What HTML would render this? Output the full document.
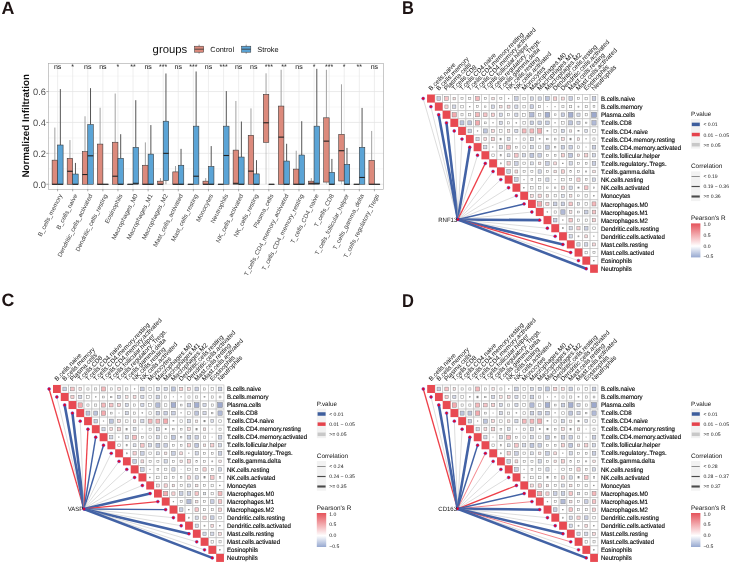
<!DOCTYPE html>
<html><head><meta charset="utf-8"><style>html,body{margin:0;padding:0;background:#fff;width:730px;height:564px;overflow:hidden}svg{display:block;will-change:transform} text{text-rendering:geometricPrecision}</style></head>
<body><svg width="730" height="564" viewBox="0 0 730 564">
<rect width="730" height="564" fill="#fff"/>
<rect x="48.4" y="63.3" width="335.1" height="126.00000000000001" fill="#fff"/>
<line x1="48.4" x2="383.5" y1="184.25" y2="184.25" stroke="#E2E2E2" stroke-width="0.7"/>
<line x1="48.4" x2="383.5" y1="168.80" y2="168.80" stroke="#EFEFEF" stroke-width="0.5"/>
<line x1="48.4" x2="383.5" y1="153.35" y2="153.35" stroke="#E2E2E2" stroke-width="0.7"/>
<line x1="48.4" x2="383.5" y1="137.90" y2="137.90" stroke="#EFEFEF" stroke-width="0.5"/>
<line x1="48.4" x2="383.5" y1="122.45" y2="122.45" stroke="#E2E2E2" stroke-width="0.7"/>
<line x1="48.4" x2="383.5" y1="107.00" y2="107.00" stroke="#EFEFEF" stroke-width="0.5"/>
<line x1="48.4" x2="383.5" y1="91.55" y2="91.55" stroke="#E2E2E2" stroke-width="0.7"/>
<line x1="48.4" x2="383.5" y1="76.10" y2="76.10" stroke="#EFEFEF" stroke-width="0.5"/>
<line x1="57.60" x2="57.60" y1="63.3" y2="189.3" stroke="#E4E4E4" stroke-width="0.65"/>
<line x1="72.69" x2="72.69" y1="63.3" y2="189.3" stroke="#E4E4E4" stroke-width="0.65"/>
<line x1="87.77" x2="87.77" y1="63.3" y2="189.3" stroke="#E4E4E4" stroke-width="0.65"/>
<line x1="102.86" x2="102.86" y1="63.3" y2="189.3" stroke="#E4E4E4" stroke-width="0.65"/>
<line x1="117.94" x2="117.94" y1="63.3" y2="189.3" stroke="#E4E4E4" stroke-width="0.65"/>
<line x1="133.03" x2="133.03" y1="63.3" y2="189.3" stroke="#E4E4E4" stroke-width="0.65"/>
<line x1="148.12" x2="148.12" y1="63.3" y2="189.3" stroke="#E4E4E4" stroke-width="0.65"/>
<line x1="163.20" x2="163.20" y1="63.3" y2="189.3" stroke="#E4E4E4" stroke-width="0.65"/>
<line x1="178.29" x2="178.29" y1="63.3" y2="189.3" stroke="#E4E4E4" stroke-width="0.65"/>
<line x1="193.37" x2="193.37" y1="63.3" y2="189.3" stroke="#E4E4E4" stroke-width="0.65"/>
<line x1="208.46" x2="208.46" y1="63.3" y2="189.3" stroke="#E4E4E4" stroke-width="0.65"/>
<line x1="223.55" x2="223.55" y1="63.3" y2="189.3" stroke="#E4E4E4" stroke-width="0.65"/>
<line x1="238.63" x2="238.63" y1="63.3" y2="189.3" stroke="#E4E4E4" stroke-width="0.65"/>
<line x1="253.72" x2="253.72" y1="63.3" y2="189.3" stroke="#E4E4E4" stroke-width="0.65"/>
<line x1="268.80" x2="268.80" y1="63.3" y2="189.3" stroke="#E4E4E4" stroke-width="0.65"/>
<line x1="283.89" x2="283.89" y1="63.3" y2="189.3" stroke="#E4E4E4" stroke-width="0.65"/>
<line x1="298.98" x2="298.98" y1="63.3" y2="189.3" stroke="#E4E4E4" stroke-width="0.65"/>
<line x1="314.06" x2="314.06" y1="63.3" y2="189.3" stroke="#E4E4E4" stroke-width="0.65"/>
<line x1="329.15" x2="329.15" y1="63.3" y2="189.3" stroke="#E4E4E4" stroke-width="0.65"/>
<line x1="344.23" x2="344.23" y1="63.3" y2="189.3" stroke="#E4E4E4" stroke-width="0.65"/>
<line x1="359.32" x2="359.32" y1="63.3" y2="189.3" stroke="#E4E4E4" stroke-width="0.65"/>
<line x1="374.41" x2="374.41" y1="63.3" y2="189.3" stroke="#E4E4E4" stroke-width="0.65"/>
<line x1="54.85" x2="54.85" y1="127.55" y2="160.15" stroke="#A2A2A2" stroke-width="1.0"/>
<rect x="52.10" y="160.15" width="5.5" height="24.10" fill="#DC8A7C" stroke="#333" stroke-width="0.55"/>
<line x1="52.10" x2="57.60" y1="184.25" y2="184.25" stroke="#222" stroke-width="1.1"/>
<line x1="60.35" x2="60.35" y1="89.08" y2="145.01" stroke="#555" stroke-width="1.0"/>
<rect x="57.60" y="145.01" width="5.5" height="39.24" fill="#5BA4D6" stroke="#333" stroke-width="0.55"/>
<line x1="57.60" x2="63.10" y1="184.25" y2="184.25" stroke="#222" stroke-width="1.1"/>
<line x1="69.94" x2="69.94" y1="140.06" y2="158.29" stroke="#A2A2A2" stroke-width="1.0"/>
<rect x="67.19" y="158.29" width="5.5" height="25.96" fill="#DC8A7C" stroke="#333" stroke-width="0.55"/>
<line x1="67.19" x2="72.69" y1="171.27" y2="171.27" stroke="#222" stroke-width="1.1"/>
<line x1="75.44" x2="75.44" y1="162.93" y2="174.05" stroke="#555" stroke-width="1.0"/>
<rect x="72.69" y="174.05" width="5.5" height="10.20" fill="#5BA4D6" stroke="#333" stroke-width="0.55"/>
<line x1="72.69" x2="78.19" y1="184.25" y2="184.25" stroke="#222" stroke-width="1.1"/>
<line x1="85.02" x2="85.02" y1="116.27" y2="151.65" stroke="#A2A2A2" stroke-width="1.0"/>
<rect x="82.27" y="151.65" width="5.5" height="32.60" fill="#DC8A7C" stroke="#333" stroke-width="0.55"/>
<line x1="82.27" x2="87.77" y1="174.52" y2="174.52" stroke="#222" stroke-width="1.1"/>
<line x1="90.52" x2="90.52" y1="88.15" y2="124.61" stroke="#555" stroke-width="1.0"/>
<rect x="87.77" y="124.61" width="5.5" height="59.64" fill="#5BA4D6" stroke="#333" stroke-width="0.55"/>
<line x1="87.77" x2="93.27" y1="155.82" y2="155.82" stroke="#222" stroke-width="1.1"/>
<line x1="100.11" x2="100.11" y1="107.77" y2="144.08" stroke="#A2A2A2" stroke-width="1.0"/>
<rect x="97.36" y="144.08" width="5.5" height="40.17" fill="#DC8A7C" stroke="#333" stroke-width="0.55"/>
<line x1="97.36" x2="102.86" y1="184.25" y2="184.25" stroke="#222" stroke-width="1.1"/>
<rect x="102.86" y="184.25" width="5.5" height="0.01" fill="#5BA4D6" stroke="#333" stroke-width="0.55"/>
<line x1="102.86" x2="108.36" y1="184.25" y2="184.25" stroke="#222" stroke-width="1.1"/>
<line x1="115.19" x2="115.19" y1="93.56" y2="142.23" stroke="#A2A2A2" stroke-width="1.0"/>
<rect x="112.44" y="142.23" width="5.5" height="42.02" fill="#DC8A7C" stroke="#333" stroke-width="0.55"/>
<line x1="112.44" x2="117.94" y1="176.22" y2="176.22" stroke="#222" stroke-width="1.1"/>
<line x1="120.69" x2="120.69" y1="134.19" y2="158.29" stroke="#555" stroke-width="1.0"/>
<rect x="117.94" y="158.29" width="5.5" height="25.96" fill="#5BA4D6" stroke="#333" stroke-width="0.55"/>
<line x1="117.94" x2="123.44" y1="184.25" y2="184.25" stroke="#222" stroke-width="1.1"/>
<rect x="127.53" y="184.25" width="5.5" height="0.01" fill="#DC8A7C" stroke="#333" stroke-width="0.55"/>
<line x1="127.53" x2="133.03" y1="184.25" y2="184.25" stroke="#222" stroke-width="1.1"/>
<line x1="135.78" x2="135.78" y1="100.20" y2="147.32" stroke="#555" stroke-width="1.0"/>
<rect x="133.03" y="147.32" width="5.5" height="36.93" fill="#5BA4D6" stroke="#333" stroke-width="0.55"/>
<line x1="133.03" x2="138.53" y1="183.32" y2="183.32" stroke="#222" stroke-width="1.1"/>
<line x1="145.37" x2="145.37" y1="142.38" y2="165.25" stroke="#A2A2A2" stroke-width="1.0"/>
<rect x="142.62" y="165.25" width="5.5" height="19.00" fill="#DC8A7C" stroke="#333" stroke-width="0.55"/>
<line x1="142.62" x2="148.12" y1="184.25" y2="184.25" stroke="#222" stroke-width="1.1"/>
<line x1="150.87" x2="150.87" y1="125.08" y2="154.12" stroke="#555" stroke-width="1.0"/>
<rect x="148.12" y="154.12" width="5.5" height="30.13" fill="#5BA4D6" stroke="#333" stroke-width="0.55"/>
<line x1="148.12" x2="153.62" y1="184.25" y2="184.25" stroke="#222" stroke-width="1.1"/>
<line x1="160.45" x2="160.45" y1="178.07" y2="181.16" stroke="#A2A2A2" stroke-width="1.0"/>
<rect x="157.70" y="181.16" width="5.5" height="3.09" fill="#DC8A7C" stroke="#333" stroke-width="0.55"/>
<line x1="157.70" x2="163.20" y1="184.25" y2="184.25" stroke="#222" stroke-width="1.1"/>
<line x1="165.95" x2="165.95" y1="73.47" y2="121.21" stroke="#555" stroke-width="1.0"/>
<line x1="165.95" x2="165.95" y1="180.54" y2="184.25" stroke="#555" stroke-width="0.55"/>
<rect x="163.20" y="121.21" width="5.5" height="59.33" fill="#5BA4D6" stroke="#333" stroke-width="0.55"/>
<line x1="163.20" x2="168.70" y1="153.35" y2="153.35" stroke="#222" stroke-width="1.1"/>
<line x1="175.54" x2="175.54" y1="166.02" y2="171.89" stroke="#A2A2A2" stroke-width="1.0"/>
<rect x="172.79" y="171.89" width="5.5" height="12.36" fill="#DC8A7C" stroke="#333" stroke-width="0.55"/>
<line x1="172.79" x2="178.29" y1="184.25" y2="184.25" stroke="#222" stroke-width="1.1"/>
<line x1="181.04" x2="181.04" y1="148.87" y2="165.25" stroke="#555" stroke-width="1.0"/>
<rect x="178.29" y="165.25" width="5.5" height="19.00" fill="#5BA4D6" stroke="#333" stroke-width="0.55"/>
<line x1="178.29" x2="183.79" y1="184.25" y2="184.25" stroke="#222" stroke-width="1.1"/>
<rect x="187.87" y="184.25" width="5.5" height="0.01" fill="#DC8A7C" stroke="#333" stroke-width="0.55"/>
<line x1="187.87" x2="193.37" y1="184.25" y2="184.25" stroke="#222" stroke-width="1.1"/>
<line x1="196.12" x2="196.12" y1="71.47" y2="126.16" stroke="#555" stroke-width="1.0"/>
<rect x="193.37" y="126.16" width="5.5" height="58.09" fill="#5BA4D6" stroke="#333" stroke-width="0.55"/>
<line x1="193.37" x2="198.87" y1="176.22" y2="176.22" stroke="#222" stroke-width="1.1"/>
<line x1="205.71" x2="205.71" y1="178.07" y2="181.16" stroke="#A2A2A2" stroke-width="1.0"/>
<rect x="202.96" y="181.16" width="5.5" height="3.09" fill="#DC8A7C" stroke="#333" stroke-width="0.55"/>
<line x1="202.96" x2="208.46" y1="184.25" y2="184.25" stroke="#222" stroke-width="1.1"/>
<line x1="211.21" x2="211.21" y1="146.09" y2="166.48" stroke="#555" stroke-width="1.0"/>
<rect x="208.46" y="166.48" width="5.5" height="17.77" fill="#5BA4D6" stroke="#333" stroke-width="0.55"/>
<line x1="208.46" x2="213.96" y1="184.25" y2="184.25" stroke="#222" stroke-width="1.1"/>
<rect x="218.05" y="184.25" width="5.5" height="0.01" fill="#DC8A7C" stroke="#333" stroke-width="0.55"/>
<line x1="218.05" x2="223.55" y1="184.25" y2="184.25" stroke="#222" stroke-width="1.1"/>
<line x1="226.30" x2="226.30" y1="91.09" y2="126.16" stroke="#555" stroke-width="1.0"/>
<rect x="223.55" y="126.16" width="5.5" height="58.09" fill="#5BA4D6" stroke="#333" stroke-width="0.55"/>
<line x1="223.55" x2="229.05" y1="155.51" y2="155.51" stroke="#222" stroke-width="1.1"/>
<line x1="235.88" x2="235.88" y1="100.97" y2="150.11" stroke="#A2A2A2" stroke-width="1.0"/>
<rect x="233.13" y="150.11" width="5.5" height="34.14" fill="#DC8A7C" stroke="#333" stroke-width="0.55"/>
<line x1="233.13" x2="238.63" y1="183.32" y2="183.32" stroke="#222" stroke-width="1.1"/>
<line x1="241.38" x2="241.38" y1="121.52" y2="157.06" stroke="#555" stroke-width="1.0"/>
<rect x="238.63" y="157.06" width="5.5" height="27.19" fill="#5BA4D6" stroke="#333" stroke-width="0.55"/>
<line x1="238.63" x2="244.13" y1="184.25" y2="184.25" stroke="#222" stroke-width="1.1"/>
<line x1="250.97" x2="250.97" y1="108.39" y2="135.27" stroke="#A2A2A2" stroke-width="1.0"/>
<rect x="248.22" y="135.27" width="5.5" height="48.98" fill="#DC8A7C" stroke="#333" stroke-width="0.55"/>
<line x1="248.22" x2="253.72" y1="171.12" y2="171.12" stroke="#222" stroke-width="1.1"/>
<line x1="256.47" x2="256.47" y1="160.15" y2="173.90" stroke="#555" stroke-width="1.0"/>
<rect x="253.72" y="173.90" width="5.5" height="10.35" fill="#5BA4D6" stroke="#333" stroke-width="0.55"/>
<line x1="253.72" x2="259.22" y1="184.25" y2="184.25" stroke="#222" stroke-width="1.1"/>
<line x1="266.05" x2="266.05" y1="73.32" y2="94.33" stroke="#A2A2A2" stroke-width="1.0"/>
<line x1="266.05" x2="266.05" y1="142.38" y2="184.25" stroke="#A2A2A2" stroke-width="0.55"/>
<rect x="263.30" y="94.33" width="5.5" height="48.05" fill="#DC8A7C" stroke="#333" stroke-width="0.55"/>
<line x1="263.30" x2="268.80" y1="122.76" y2="122.76" stroke="#222" stroke-width="1.1"/>
<rect x="268.80" y="184.25" width="5.5" height="0.01" fill="#5BA4D6" stroke="#333" stroke-width="0.55"/>
<line x1="268.80" x2="274.30" y1="184.25" y2="184.25" stroke="#222" stroke-width="1.1"/>
<line x1="281.14" x2="281.14" y1="69.77" y2="106.07" stroke="#A2A2A2" stroke-width="1.0"/>
<rect x="278.39" y="106.07" width="5.5" height="78.18" fill="#DC8A7C" stroke="#333" stroke-width="0.55"/>
<line x1="278.39" x2="283.89" y1="137.13" y2="137.13" stroke="#222" stroke-width="1.1"/>
<line x1="286.64" x2="286.64" y1="143.77" y2="161.07" stroke="#555" stroke-width="1.0"/>
<rect x="283.89" y="161.07" width="5.5" height="23.18" fill="#5BA4D6" stroke="#333" stroke-width="0.55"/>
<line x1="283.89" x2="289.39" y1="184.25" y2="184.25" stroke="#222" stroke-width="1.1"/>
<line x1="296.23" x2="296.23" y1="150.72" y2="169.11" stroke="#A2A2A2" stroke-width="1.0"/>
<rect x="293.48" y="169.11" width="5.5" height="15.14" fill="#DC8A7C" stroke="#333" stroke-width="0.55"/>
<line x1="293.48" x2="298.98" y1="184.25" y2="184.25" stroke="#222" stroke-width="1.1"/>
<line x1="301.73" x2="301.73" y1="121.21" y2="155.05" stroke="#555" stroke-width="1.0"/>
<rect x="298.98" y="155.05" width="5.5" height="29.20" fill="#5BA4D6" stroke="#333" stroke-width="0.55"/>
<line x1="298.98" x2="304.48" y1="184.25" y2="184.25" stroke="#222" stroke-width="1.1"/>
<line x1="311.31" x2="311.31" y1="178.07" y2="181.16" stroke="#A2A2A2" stroke-width="1.0"/>
<rect x="308.56" y="181.16" width="5.5" height="3.09" fill="#DC8A7C" stroke="#333" stroke-width="0.55"/>
<line x1="308.56" x2="314.06" y1="183.32" y2="183.32" stroke="#222" stroke-width="1.1"/>
<line x1="316.81" x2="316.81" y1="68.84" y2="126.16" stroke="#555" stroke-width="1.0"/>
<rect x="314.06" y="126.16" width="5.5" height="58.09" fill="#5BA4D6" stroke="#333" stroke-width="0.55"/>
<line x1="314.06" x2="319.56" y1="183.32" y2="183.32" stroke="#222" stroke-width="1.1"/>
<line x1="326.40" x2="326.40" y1="69.77" y2="117.81" stroke="#A2A2A2" stroke-width="1.0"/>
<line x1="326.40" x2="326.40" y1="182.09" y2="184.25" stroke="#A2A2A2" stroke-width="0.55"/>
<rect x="323.65" y="117.81" width="5.5" height="64.27" fill="#DC8A7C" stroke="#333" stroke-width="0.55"/>
<line x1="323.65" x2="329.15" y1="141.14" y2="141.14" stroke="#222" stroke-width="1.1"/>
<line x1="331.90" x2="331.90" y1="158.91" y2="172.35" stroke="#555" stroke-width="1.0"/>
<rect x="329.15" y="172.35" width="5.5" height="11.90" fill="#5BA4D6" stroke="#333" stroke-width="0.55"/>
<line x1="329.15" x2="334.65" y1="184.25" y2="184.25" stroke="#222" stroke-width="1.1"/>
<line x1="341.48" x2="341.48" y1="84.29" y2="134.35" stroke="#A2A2A2" stroke-width="1.0"/>
<line x1="341.48" x2="341.48" y1="181.01" y2="184.25" stroke="#A2A2A2" stroke-width="0.55"/>
<rect x="338.73" y="134.35" width="5.5" height="46.66" fill="#DC8A7C" stroke="#333" stroke-width="0.55"/>
<line x1="338.73" x2="344.23" y1="150.72" y2="150.72" stroke="#222" stroke-width="1.1"/>
<line x1="346.98" x2="346.98" y1="147.94" y2="164.32" stroke="#555" stroke-width="1.0"/>
<rect x="344.23" y="164.32" width="5.5" height="19.93" fill="#5BA4D6" stroke="#333" stroke-width="0.55"/>
<line x1="344.23" x2="349.73" y1="184.25" y2="184.25" stroke="#222" stroke-width="1.1"/>
<rect x="353.82" y="184.25" width="5.5" height="0.01" fill="#DC8A7C" stroke="#333" stroke-width="0.55"/>
<line x1="353.82" x2="359.32" y1="184.25" y2="184.25" stroke="#222" stroke-width="1.1"/>
<line x1="362.07" x2="362.07" y1="107.93" y2="147.32" stroke="#555" stroke-width="1.0"/>
<rect x="359.32" y="147.32" width="5.5" height="36.93" fill="#5BA4D6" stroke="#333" stroke-width="0.55"/>
<line x1="359.32" x2="364.82" y1="177.45" y2="177.45" stroke="#222" stroke-width="1.1"/>
<line x1="371.66" x2="371.66" y1="130.95" y2="160.30" stroke="#A2A2A2" stroke-width="1.0"/>
<rect x="368.91" y="160.30" width="5.5" height="23.95" fill="#DC8A7C" stroke="#333" stroke-width="0.55"/>
<line x1="368.91" x2="374.41" y1="184.25" y2="184.25" stroke="#222" stroke-width="1.1"/>
<rect x="374.41" y="184.25" width="5.5" height="0.01" fill="#5BA4D6" stroke="#333" stroke-width="0.55"/>
<line x1="374.41" x2="379.91" y1="184.25" y2="184.25" stroke="#222" stroke-width="1.1"/>
<rect x="48.4" y="63.3" width="335.1" height="126.00000000000001" fill="none" stroke="#A6A6A6" stroke-width="0.6"/>
<text x="57.60" y="68.6" font-size="7" fill="#111" text-anchor="middle" font-family="Liberation Sans, sans-serif">ns</text>
<text x="72.69" y="68.6" font-size="7" fill="#111" text-anchor="middle" font-family="Liberation Sans, sans-serif">*</text>
<text x="87.77" y="68.6" font-size="7" fill="#111" text-anchor="middle" font-family="Liberation Sans, sans-serif">ns</text>
<text x="102.86" y="68.6" font-size="7" fill="#111" text-anchor="middle" font-family="Liberation Sans, sans-serif">ns</text>
<text x="117.94" y="68.6" font-size="7" fill="#111" text-anchor="middle" font-family="Liberation Sans, sans-serif">*</text>
<text x="133.03" y="68.6" font-size="7" fill="#111" text-anchor="middle" font-family="Liberation Sans, sans-serif">**</text>
<text x="148.12" y="68.6" font-size="7" fill="#111" text-anchor="middle" font-family="Liberation Sans, sans-serif">ns</text>
<text x="163.20" y="68.6" font-size="7" fill="#111" text-anchor="middle" font-family="Liberation Sans, sans-serif">***</text>
<text x="178.29" y="68.6" font-size="7" fill="#111" text-anchor="middle" font-family="Liberation Sans, sans-serif">ns</text>
<text x="193.37" y="68.6" font-size="7" fill="#111" text-anchor="middle" font-family="Liberation Sans, sans-serif">***</text>
<text x="208.46" y="68.6" font-size="7" fill="#111" text-anchor="middle" font-family="Liberation Sans, sans-serif">ns</text>
<text x="223.55" y="68.6" font-size="7" fill="#111" text-anchor="middle" font-family="Liberation Sans, sans-serif">***</text>
<text x="238.63" y="68.6" font-size="7" fill="#111" text-anchor="middle" font-family="Liberation Sans, sans-serif">ns</text>
<text x="253.72" y="68.6" font-size="7" fill="#111" text-anchor="middle" font-family="Liberation Sans, sans-serif">ns</text>
<text x="268.80" y="68.6" font-size="7" fill="#111" text-anchor="middle" font-family="Liberation Sans, sans-serif">***</text>
<text x="283.89" y="68.6" font-size="7" fill="#111" text-anchor="middle" font-family="Liberation Sans, sans-serif">**</text>
<text x="298.98" y="68.6" font-size="7" fill="#111" text-anchor="middle" font-family="Liberation Sans, sans-serif">ns</text>
<text x="314.06" y="68.6" font-size="7" fill="#111" text-anchor="middle" font-family="Liberation Sans, sans-serif">*</text>
<text x="329.15" y="68.6" font-size="7" fill="#111" text-anchor="middle" font-family="Liberation Sans, sans-serif">***</text>
<text x="344.23" y="68.6" font-size="7" fill="#111" text-anchor="middle" font-family="Liberation Sans, sans-serif">*</text>
<text x="359.32" y="68.6" font-size="7" fill="#111" text-anchor="middle" font-family="Liberation Sans, sans-serif">**</text>
<text x="374.41" y="68.6" font-size="7" fill="#111" text-anchor="middle" font-family="Liberation Sans, sans-serif">ns</text>
<line x1="46.3" x2="48.4" y1="184.25" y2="184.25" stroke="#555" stroke-width="0.5"/>
<text transform="translate(45.9,187.85) scale(1,1.0)" font-size="9.3" fill="#4D4D4D" text-anchor="end" font-family="Liberation Sans, sans-serif">0.0</text>
<line x1="46.3" x2="48.4" y1="153.35" y2="153.35" stroke="#555" stroke-width="0.5"/>
<text transform="translate(45.9,156.95) scale(1,1.0)" font-size="9.3" fill="#4D4D4D" text-anchor="end" font-family="Liberation Sans, sans-serif">0.2</text>
<line x1="46.3" x2="48.4" y1="122.45" y2="122.45" stroke="#555" stroke-width="0.5"/>
<text transform="translate(45.9,126.05) scale(1,1.0)" font-size="9.3" fill="#4D4D4D" text-anchor="end" font-family="Liberation Sans, sans-serif">0.4</text>
<line x1="46.3" x2="48.4" y1="91.55" y2="91.55" stroke="#555" stroke-width="0.5"/>
<text transform="translate(45.9,95.15) scale(1,1.0)" font-size="9.3" fill="#4D4D4D" text-anchor="end" font-family="Liberation Sans, sans-serif">0.6</text>
<text transform="translate(28.6,125.8) rotate(-90)" font-size="9.8" font-weight="bold" fill="#111" text-anchor="middle" font-family="Liberation Sans, sans-serif">Normalized Infiltration</text>
<line x1="57.60" x2="57.60" y1="189.3" y2="191.3" stroke="#555" stroke-width="0.5"/>
<text transform="translate(58.90,193.40) scale(1,1.044) rotate(-62)" font-size="6.1" fill="#3D3D3D" text-anchor="end" dominant-baseline="hanging" font-family="Liberation Sans, sans-serif">B_cells_memory</text>
<line x1="72.69" x2="72.69" y1="189.3" y2="191.3" stroke="#555" stroke-width="0.5"/>
<text transform="translate(73.99,193.40) scale(1,1.044) rotate(-62)" font-size="6.1" fill="#3D3D3D" text-anchor="end" dominant-baseline="hanging" font-family="Liberation Sans, sans-serif">B_cells_naive</text>
<line x1="87.77" x2="87.77" y1="189.3" y2="191.3" stroke="#555" stroke-width="0.5"/>
<text transform="translate(89.07,193.40) scale(1,1.044) rotate(-62)" font-size="6.1" fill="#3D3D3D" text-anchor="end" dominant-baseline="hanging" font-family="Liberation Sans, sans-serif">Dendritic_cells_activated</text>
<line x1="102.86" x2="102.86" y1="189.3" y2="191.3" stroke="#555" stroke-width="0.5"/>
<text transform="translate(104.16,193.40) scale(1,1.044) rotate(-62)" font-size="6.1" fill="#3D3D3D" text-anchor="end" dominant-baseline="hanging" font-family="Liberation Sans, sans-serif">Dendritic_cells_resting</text>
<line x1="117.94" x2="117.94" y1="189.3" y2="191.3" stroke="#555" stroke-width="0.5"/>
<text transform="translate(119.24,193.40) scale(1,1.044) rotate(-62)" font-size="6.1" fill="#3D3D3D" text-anchor="end" dominant-baseline="hanging" font-family="Liberation Sans, sans-serif">Eosinophils</text>
<line x1="133.03" x2="133.03" y1="189.3" y2="191.3" stroke="#555" stroke-width="0.5"/>
<text transform="translate(134.33,193.40) scale(1,1.044) rotate(-62)" font-size="6.1" fill="#3D3D3D" text-anchor="end" dominant-baseline="hanging" font-family="Liberation Sans, sans-serif">Macrophages_M0</text>
<line x1="148.12" x2="148.12" y1="189.3" y2="191.3" stroke="#555" stroke-width="0.5"/>
<text transform="translate(149.42,193.40) scale(1,1.044) rotate(-62)" font-size="6.1" fill="#3D3D3D" text-anchor="end" dominant-baseline="hanging" font-family="Liberation Sans, sans-serif">Macrophages_M1</text>
<line x1="163.20" x2="163.20" y1="189.3" y2="191.3" stroke="#555" stroke-width="0.5"/>
<text transform="translate(164.50,193.40) scale(1,1.044) rotate(-62)" font-size="6.1" fill="#3D3D3D" text-anchor="end" dominant-baseline="hanging" font-family="Liberation Sans, sans-serif">Macrophages_M2</text>
<line x1="178.29" x2="178.29" y1="189.3" y2="191.3" stroke="#555" stroke-width="0.5"/>
<text transform="translate(179.59,193.40) scale(1,1.044) rotate(-62)" font-size="6.1" fill="#3D3D3D" text-anchor="end" dominant-baseline="hanging" font-family="Liberation Sans, sans-serif">Mast_cells_activated</text>
<line x1="193.37" x2="193.37" y1="189.3" y2="191.3" stroke="#555" stroke-width="0.5"/>
<text transform="translate(194.67,193.40) scale(1,1.044) rotate(-62)" font-size="6.1" fill="#3D3D3D" text-anchor="end" dominant-baseline="hanging" font-family="Liberation Sans, sans-serif">Mast_cells_resting</text>
<line x1="208.46" x2="208.46" y1="189.3" y2="191.3" stroke="#555" stroke-width="0.5"/>
<text transform="translate(209.76,193.40) scale(1,1.044) rotate(-62)" font-size="6.1" fill="#3D3D3D" text-anchor="end" dominant-baseline="hanging" font-family="Liberation Sans, sans-serif">Monocytes</text>
<line x1="223.55" x2="223.55" y1="189.3" y2="191.3" stroke="#555" stroke-width="0.5"/>
<text transform="translate(224.85,193.40) scale(1,1.044) rotate(-62)" font-size="6.1" fill="#3D3D3D" text-anchor="end" dominant-baseline="hanging" font-family="Liberation Sans, sans-serif">Neutrophils</text>
<line x1="238.63" x2="238.63" y1="189.3" y2="191.3" stroke="#555" stroke-width="0.5"/>
<text transform="translate(239.93,193.40) scale(1,1.044) rotate(-62)" font-size="6.1" fill="#3D3D3D" text-anchor="end" dominant-baseline="hanging" font-family="Liberation Sans, sans-serif">NK_cells_activated</text>
<line x1="253.72" x2="253.72" y1="189.3" y2="191.3" stroke="#555" stroke-width="0.5"/>
<text transform="translate(255.02,193.40) scale(1,1.044) rotate(-62)" font-size="6.1" fill="#3D3D3D" text-anchor="end" dominant-baseline="hanging" font-family="Liberation Sans, sans-serif">NK_cells_resting</text>
<line x1="268.80" x2="268.80" y1="189.3" y2="191.3" stroke="#555" stroke-width="0.5"/>
<text transform="translate(270.10,193.40) scale(1,1.044) rotate(-62)" font-size="6.1" fill="#3D3D3D" text-anchor="end" dominant-baseline="hanging" font-family="Liberation Sans, sans-serif">Plasma_cells</text>
<line x1="283.89" x2="283.89" y1="189.3" y2="191.3" stroke="#555" stroke-width="0.5"/>
<text transform="translate(285.19,193.40) scale(1,1.044) rotate(-62)" font-size="6.1" fill="#3D3D3D" text-anchor="end" dominant-baseline="hanging" font-family="Liberation Sans, sans-serif">T_cells_CD4_memory_activated</text>
<line x1="298.98" x2="298.98" y1="189.3" y2="191.3" stroke="#555" stroke-width="0.5"/>
<text transform="translate(300.28,193.40) scale(1,1.044) rotate(-62)" font-size="6.1" fill="#3D3D3D" text-anchor="end" dominant-baseline="hanging" font-family="Liberation Sans, sans-serif">T_cells_CD4_memory_resting</text>
<line x1="314.06" x2="314.06" y1="189.3" y2="191.3" stroke="#555" stroke-width="0.5"/>
<text transform="translate(315.36,193.40) scale(1,1.044) rotate(-62)" font-size="6.1" fill="#3D3D3D" text-anchor="end" dominant-baseline="hanging" font-family="Liberation Sans, sans-serif">T_cells_CD4_naive</text>
<line x1="329.15" x2="329.15" y1="189.3" y2="191.3" stroke="#555" stroke-width="0.5"/>
<text transform="translate(330.45,193.40) scale(1,1.044) rotate(-62)" font-size="6.1" fill="#3D3D3D" text-anchor="end" dominant-baseline="hanging" font-family="Liberation Sans, sans-serif">T_cells_CD8</text>
<line x1="344.23" x2="344.23" y1="189.3" y2="191.3" stroke="#555" stroke-width="0.5"/>
<text transform="translate(345.53,193.40) scale(1,1.044) rotate(-62)" font-size="6.1" fill="#3D3D3D" text-anchor="end" dominant-baseline="hanging" font-family="Liberation Sans, sans-serif">T_cells_follicular_helper</text>
<line x1="359.32" x2="359.32" y1="189.3" y2="191.3" stroke="#555" stroke-width="0.5"/>
<text transform="translate(360.62,193.40) scale(1,1.044) rotate(-62)" font-size="6.1" fill="#3D3D3D" text-anchor="end" dominant-baseline="hanging" font-family="Liberation Sans, sans-serif">T_cells_gamma_delta</text>
<line x1="374.41" x2="374.41" y1="189.3" y2="191.3" stroke="#555" stroke-width="0.5"/>
<text transform="translate(375.71,193.40) scale(1,1.044) rotate(-62)" font-size="6.1" fill="#3D3D3D" text-anchor="end" dominant-baseline="hanging" font-family="Liberation Sans, sans-serif">T_cells_regulatory_Tregs</text>
<text x="152.6" y="52.7" font-size="11.3" fill="#111" font-family="Liberation Sans, sans-serif">groups</text>
<line x1="199.1" x2="199.1" y1="44.6" y2="53.7" stroke="#333" stroke-width="0.5"/>
<rect x="194.5" y="46.2" width="9.2" height="6" fill="#DC8A7C" stroke="#333" stroke-width="0.5"/>
<line x1="194.5" x2="203.7" y1="49.2" y2="49.2" stroke="#333" stroke-width="0.8"/>
<line x1="246.2" x2="246.2" y1="44.6" y2="53.7" stroke="#333" stroke-width="0.5"/>
<rect x="241.6" y="46.2" width="9.2" height="6" fill="#5BA4D6" stroke="#333" stroke-width="0.5"/>
<line x1="241.6" x2="250.79999999999998" y1="49.2" y2="49.2" stroke="#333" stroke-width="0.8"/>
<text x="210.3" y="51.8" font-size="7.4" fill="#111" font-family="Liberation Sans, sans-serif">Control</text>
<text x="257.3" y="51.8" font-size="7.4" fill="#111" font-family="Liberation Sans, sans-serif">Stroke</text>
<line x1="457.90" y1="219.50" x2="423.17" y2="98.55" stroke="#C6C6C6" stroke-width="0.6"/>
<line x1="457.90" y1="219.50" x2="430.93" y2="106.66" stroke="#C6C6C6" stroke-width="0.6"/>
<line x1="457.90" y1="219.50" x2="438.70" y2="114.76" stroke="#4262A5" stroke-width="2.55"/>
<line x1="457.90" y1="219.50" x2="446.46" y2="122.87" stroke="#4262A5" stroke-width="2.55"/>
<line x1="457.90" y1="219.50" x2="454.23" y2="130.97" stroke="#C6C6C6" stroke-width="0.6"/>
<line x1="457.90" y1="219.50" x2="461.99" y2="139.08" stroke="#C6C6C6" stroke-width="0.6"/>
<line x1="457.90" y1="219.50" x2="469.75" y2="147.18" stroke="#4262A5" stroke-width="2.55"/>
<line x1="457.90" y1="219.50" x2="477.52" y2="155.29" stroke="#C6C6C6" stroke-width="0.6"/>
<line x1="457.90" y1="219.50" x2="485.28" y2="163.39" stroke="#EE4049" stroke-width="1.3"/>
<line x1="457.90" y1="219.50" x2="493.05" y2="171.50" stroke="#C6C6C6" stroke-width="0.6"/>
<line x1="457.90" y1="219.50" x2="500.81" y2="179.60" stroke="#C6C6C6" stroke-width="0.6"/>
<line x1="457.90" y1="219.50" x2="508.57" y2="187.71" stroke="#C6C6C6" stroke-width="0.6"/>
<line x1="457.90" y1="219.50" x2="516.34" y2="195.81" stroke="#C6C6C6" stroke-width="0.6"/>
<line x1="457.90" y1="219.50" x2="524.10" y2="203.92" stroke="#4262A5" stroke-width="1.45"/>
<line x1="457.90" y1="219.50" x2="531.87" y2="212.02" stroke="#C6C6C6" stroke-width="0.6"/>
<line x1="457.90" y1="219.50" x2="539.63" y2="220.13" stroke="#4262A5" stroke-width="2.55"/>
<line x1="457.90" y1="219.50" x2="547.39" y2="228.23" stroke="#C6C6C6" stroke-width="0.6"/>
<line x1="457.90" y1="219.50" x2="555.16" y2="236.34" stroke="#C6C6C6" stroke-width="0.6"/>
<line x1="457.90" y1="219.50" x2="562.92" y2="244.44" stroke="#4262A5" stroke-width="2.55"/>
<line x1="457.90" y1="219.50" x2="570.69" y2="252.55" stroke="#EE4049" stroke-width="1.3"/>
<line x1="457.90" y1="219.50" x2="578.45" y2="260.65" stroke="#C6C6C6" stroke-width="0.6"/>
<line x1="457.90" y1="219.50" x2="586.21" y2="268.76" stroke="#4262A5" stroke-width="2.55"/>
<rect x="434.83" y="94.50" width="7.76" height="8.11" fill="#fff" stroke="#C2C2C2" stroke-width="0.7"/>
<rect x="442.60" y="94.50" width="7.76" height="8.11" fill="#fff" stroke="#C2C2C2" stroke-width="0.7"/>
<rect x="450.36" y="94.50" width="7.76" height="8.11" fill="#fff" stroke="#C2C2C2" stroke-width="0.7"/>
<rect x="458.13" y="94.50" width="7.76" height="8.11" fill="#fff" stroke="#C2C2C2" stroke-width="0.7"/>
<rect x="465.89" y="94.50" width="7.76" height="8.11" fill="#fff" stroke="#C2C2C2" stroke-width="0.7"/>
<rect x="473.65" y="94.50" width="7.76" height="8.11" fill="#fff" stroke="#C2C2C2" stroke-width="0.7"/>
<rect x="481.42" y="94.50" width="7.76" height="8.11" fill="#fff" stroke="#C2C2C2" stroke-width="0.7"/>
<rect x="489.18" y="94.50" width="7.76" height="8.11" fill="#fff" stroke="#C2C2C2" stroke-width="0.7"/>
<rect x="496.95" y="94.50" width="7.76" height="8.11" fill="#fff" stroke="#C2C2C2" stroke-width="0.7"/>
<rect x="504.71" y="94.50" width="7.76" height="8.11" fill="#fff" stroke="#C2C2C2" stroke-width="0.7"/>
<rect x="512.47" y="94.50" width="7.76" height="8.11" fill="#fff" stroke="#C2C2C2" stroke-width="0.7"/>
<rect x="520.24" y="94.50" width="7.76" height="8.11" fill="#fff" stroke="#C2C2C2" stroke-width="0.7"/>
<rect x="528.00" y="94.50" width="7.76" height="8.11" fill="#fff" stroke="#C2C2C2" stroke-width="0.7"/>
<rect x="535.77" y="94.50" width="7.76" height="8.11" fill="#fff" stroke="#C2C2C2" stroke-width="0.7"/>
<rect x="543.53" y="94.50" width="7.76" height="8.11" fill="#fff" stroke="#C2C2C2" stroke-width="0.7"/>
<rect x="551.29" y="94.50" width="7.76" height="8.11" fill="#fff" stroke="#C2C2C2" stroke-width="0.7"/>
<rect x="559.06" y="94.50" width="7.76" height="8.11" fill="#fff" stroke="#C2C2C2" stroke-width="0.7"/>
<rect x="566.82" y="94.50" width="7.76" height="8.11" fill="#fff" stroke="#C2C2C2" stroke-width="0.7"/>
<rect x="574.59" y="94.50" width="7.76" height="8.11" fill="#fff" stroke="#C2C2C2" stroke-width="0.7"/>
<rect x="582.35" y="94.50" width="7.76" height="8.11" fill="#fff" stroke="#C2C2C2" stroke-width="0.7"/>
<rect x="590.11" y="94.50" width="7.76" height="8.11" fill="#fff" stroke="#C2C2C2" stroke-width="0.7"/>
<rect x="442.60" y="102.61" width="7.76" height="8.11" fill="#fff" stroke="#C2C2C2" stroke-width="0.7"/>
<rect x="450.36" y="102.61" width="7.76" height="8.11" fill="#fff" stroke="#C2C2C2" stroke-width="0.7"/>
<rect x="458.13" y="102.61" width="7.76" height="8.11" fill="#fff" stroke="#C2C2C2" stroke-width="0.7"/>
<rect x="465.89" y="102.61" width="7.76" height="8.11" fill="#fff" stroke="#C2C2C2" stroke-width="0.7"/>
<rect x="473.65" y="102.61" width="7.76" height="8.11" fill="#fff" stroke="#C2C2C2" stroke-width="0.7"/>
<rect x="481.42" y="102.61" width="7.76" height="8.11" fill="#fff" stroke="#C2C2C2" stroke-width="0.7"/>
<rect x="489.18" y="102.61" width="7.76" height="8.11" fill="#fff" stroke="#C2C2C2" stroke-width="0.7"/>
<rect x="496.95" y="102.61" width="7.76" height="8.11" fill="#fff" stroke="#C2C2C2" stroke-width="0.7"/>
<rect x="504.71" y="102.61" width="7.76" height="8.11" fill="#fff" stroke="#C2C2C2" stroke-width="0.7"/>
<rect x="512.47" y="102.61" width="7.76" height="8.11" fill="#fff" stroke="#C2C2C2" stroke-width="0.7"/>
<rect x="520.24" y="102.61" width="7.76" height="8.11" fill="#fff" stroke="#C2C2C2" stroke-width="0.7"/>
<rect x="528.00" y="102.61" width="7.76" height="8.11" fill="#fff" stroke="#C2C2C2" stroke-width="0.7"/>
<rect x="535.77" y="102.61" width="7.76" height="8.11" fill="#fff" stroke="#C2C2C2" stroke-width="0.7"/>
<rect x="543.53" y="102.61" width="7.76" height="8.11" fill="#fff" stroke="#C2C2C2" stroke-width="0.7"/>
<rect x="551.29" y="102.61" width="7.76" height="8.11" fill="#fff" stroke="#C2C2C2" stroke-width="0.7"/>
<rect x="559.06" y="102.61" width="7.76" height="8.11" fill="#fff" stroke="#C2C2C2" stroke-width="0.7"/>
<rect x="566.82" y="102.61" width="7.76" height="8.11" fill="#fff" stroke="#C2C2C2" stroke-width="0.7"/>
<rect x="574.59" y="102.61" width="7.76" height="8.11" fill="#fff" stroke="#C2C2C2" stroke-width="0.7"/>
<rect x="582.35" y="102.61" width="7.76" height="8.11" fill="#fff" stroke="#C2C2C2" stroke-width="0.7"/>
<rect x="590.11" y="102.61" width="7.76" height="8.11" fill="#fff" stroke="#C2C2C2" stroke-width="0.7"/>
<rect x="450.36" y="110.71" width="7.76" height="8.11" fill="#fff" stroke="#C2C2C2" stroke-width="0.7"/>
<rect x="458.13" y="110.71" width="7.76" height="8.11" fill="#fff" stroke="#C2C2C2" stroke-width="0.7"/>
<rect x="465.89" y="110.71" width="7.76" height="8.11" fill="#fff" stroke="#C2C2C2" stroke-width="0.7"/>
<rect x="473.65" y="110.71" width="7.76" height="8.11" fill="#fff" stroke="#C2C2C2" stroke-width="0.7"/>
<rect x="481.42" y="110.71" width="7.76" height="8.11" fill="#fff" stroke="#C2C2C2" stroke-width="0.7"/>
<rect x="489.18" y="110.71" width="7.76" height="8.11" fill="#fff" stroke="#C2C2C2" stroke-width="0.7"/>
<rect x="496.95" y="110.71" width="7.76" height="8.11" fill="#fff" stroke="#C2C2C2" stroke-width="0.7"/>
<rect x="504.71" y="110.71" width="7.76" height="8.11" fill="#fff" stroke="#C2C2C2" stroke-width="0.7"/>
<rect x="512.47" y="110.71" width="7.76" height="8.11" fill="#fff" stroke="#C2C2C2" stroke-width="0.7"/>
<rect x="520.24" y="110.71" width="7.76" height="8.11" fill="#fff" stroke="#C2C2C2" stroke-width="0.7"/>
<rect x="528.00" y="110.71" width="7.76" height="8.11" fill="#fff" stroke="#C2C2C2" stroke-width="0.7"/>
<rect x="535.77" y="110.71" width="7.76" height="8.11" fill="#fff" stroke="#C2C2C2" stroke-width="0.7"/>
<rect x="543.53" y="110.71" width="7.76" height="8.11" fill="#fff" stroke="#C2C2C2" stroke-width="0.7"/>
<rect x="551.29" y="110.71" width="7.76" height="8.11" fill="#fff" stroke="#C2C2C2" stroke-width="0.7"/>
<rect x="559.06" y="110.71" width="7.76" height="8.11" fill="#fff" stroke="#C2C2C2" stroke-width="0.7"/>
<rect x="566.82" y="110.71" width="7.76" height="8.11" fill="#fff" stroke="#C2C2C2" stroke-width="0.7"/>
<rect x="574.59" y="110.71" width="7.76" height="8.11" fill="#fff" stroke="#C2C2C2" stroke-width="0.7"/>
<rect x="582.35" y="110.71" width="7.76" height="8.11" fill="#fff" stroke="#C2C2C2" stroke-width="0.7"/>
<rect x="590.11" y="110.71" width="7.76" height="8.11" fill="#fff" stroke="#C2C2C2" stroke-width="0.7"/>
<rect x="458.13" y="118.81" width="7.76" height="8.11" fill="#fff" stroke="#C2C2C2" stroke-width="0.7"/>
<rect x="465.89" y="118.81" width="7.76" height="8.11" fill="#fff" stroke="#C2C2C2" stroke-width="0.7"/>
<rect x="473.65" y="118.81" width="7.76" height="8.11" fill="#fff" stroke="#C2C2C2" stroke-width="0.7"/>
<rect x="481.42" y="118.81" width="7.76" height="8.11" fill="#fff" stroke="#C2C2C2" stroke-width="0.7"/>
<rect x="489.18" y="118.81" width="7.76" height="8.11" fill="#fff" stroke="#C2C2C2" stroke-width="0.7"/>
<rect x="496.95" y="118.81" width="7.76" height="8.11" fill="#fff" stroke="#C2C2C2" stroke-width="0.7"/>
<rect x="504.71" y="118.81" width="7.76" height="8.11" fill="#fff" stroke="#C2C2C2" stroke-width="0.7"/>
<rect x="512.47" y="118.81" width="7.76" height="8.11" fill="#fff" stroke="#C2C2C2" stroke-width="0.7"/>
<rect x="520.24" y="118.81" width="7.76" height="8.11" fill="#fff" stroke="#C2C2C2" stroke-width="0.7"/>
<rect x="528.00" y="118.81" width="7.76" height="8.11" fill="#fff" stroke="#C2C2C2" stroke-width="0.7"/>
<rect x="535.77" y="118.81" width="7.76" height="8.11" fill="#fff" stroke="#C2C2C2" stroke-width="0.7"/>
<rect x="543.53" y="118.81" width="7.76" height="8.11" fill="#fff" stroke="#C2C2C2" stroke-width="0.7"/>
<rect x="551.29" y="118.81" width="7.76" height="8.11" fill="#fff" stroke="#C2C2C2" stroke-width="0.7"/>
<rect x="559.06" y="118.81" width="7.76" height="8.11" fill="#fff" stroke="#C2C2C2" stroke-width="0.7"/>
<rect x="566.82" y="118.81" width="7.76" height="8.11" fill="#fff" stroke="#C2C2C2" stroke-width="0.7"/>
<rect x="574.59" y="118.81" width="7.76" height="8.11" fill="#fff" stroke="#C2C2C2" stroke-width="0.7"/>
<rect x="582.35" y="118.81" width="7.76" height="8.11" fill="#fff" stroke="#C2C2C2" stroke-width="0.7"/>
<rect x="590.11" y="118.81" width="7.76" height="8.11" fill="#fff" stroke="#C2C2C2" stroke-width="0.7"/>
<rect x="465.89" y="126.92" width="7.76" height="8.11" fill="#fff" stroke="#C2C2C2" stroke-width="0.7"/>
<rect x="473.65" y="126.92" width="7.76" height="8.11" fill="#fff" stroke="#C2C2C2" stroke-width="0.7"/>
<rect x="481.42" y="126.92" width="7.76" height="8.11" fill="#fff" stroke="#C2C2C2" stroke-width="0.7"/>
<rect x="489.18" y="126.92" width="7.76" height="8.11" fill="#fff" stroke="#C2C2C2" stroke-width="0.7"/>
<rect x="496.95" y="126.92" width="7.76" height="8.11" fill="#fff" stroke="#C2C2C2" stroke-width="0.7"/>
<rect x="504.71" y="126.92" width="7.76" height="8.11" fill="#fff" stroke="#C2C2C2" stroke-width="0.7"/>
<rect x="512.47" y="126.92" width="7.76" height="8.11" fill="#fff" stroke="#C2C2C2" stroke-width="0.7"/>
<rect x="520.24" y="126.92" width="7.76" height="8.11" fill="#fff" stroke="#C2C2C2" stroke-width="0.7"/>
<rect x="528.00" y="126.92" width="7.76" height="8.11" fill="#fff" stroke="#C2C2C2" stroke-width="0.7"/>
<rect x="535.77" y="126.92" width="7.76" height="8.11" fill="#fff" stroke="#C2C2C2" stroke-width="0.7"/>
<rect x="543.53" y="126.92" width="7.76" height="8.11" fill="#fff" stroke="#C2C2C2" stroke-width="0.7"/>
<rect x="551.29" y="126.92" width="7.76" height="8.11" fill="#fff" stroke="#C2C2C2" stroke-width="0.7"/>
<rect x="559.06" y="126.92" width="7.76" height="8.11" fill="#fff" stroke="#C2C2C2" stroke-width="0.7"/>
<rect x="566.82" y="126.92" width="7.76" height="8.11" fill="#fff" stroke="#C2C2C2" stroke-width="0.7"/>
<rect x="574.59" y="126.92" width="7.76" height="8.11" fill="#fff" stroke="#C2C2C2" stroke-width="0.7"/>
<rect x="582.35" y="126.92" width="7.76" height="8.11" fill="#fff" stroke="#C2C2C2" stroke-width="0.7"/>
<rect x="590.11" y="126.92" width="7.76" height="8.11" fill="#fff" stroke="#C2C2C2" stroke-width="0.7"/>
<rect x="473.65" y="135.03" width="7.76" height="8.11" fill="#fff" stroke="#C2C2C2" stroke-width="0.7"/>
<rect x="481.42" y="135.03" width="7.76" height="8.11" fill="#fff" stroke="#C2C2C2" stroke-width="0.7"/>
<rect x="489.18" y="135.03" width="7.76" height="8.11" fill="#fff" stroke="#C2C2C2" stroke-width="0.7"/>
<rect x="496.95" y="135.03" width="7.76" height="8.11" fill="#fff" stroke="#C2C2C2" stroke-width="0.7"/>
<rect x="504.71" y="135.03" width="7.76" height="8.11" fill="#fff" stroke="#C2C2C2" stroke-width="0.7"/>
<rect x="512.47" y="135.03" width="7.76" height="8.11" fill="#fff" stroke="#C2C2C2" stroke-width="0.7"/>
<rect x="520.24" y="135.03" width="7.76" height="8.11" fill="#fff" stroke="#C2C2C2" stroke-width="0.7"/>
<rect x="528.00" y="135.03" width="7.76" height="8.11" fill="#fff" stroke="#C2C2C2" stroke-width="0.7"/>
<rect x="535.77" y="135.03" width="7.76" height="8.11" fill="#fff" stroke="#C2C2C2" stroke-width="0.7"/>
<rect x="543.53" y="135.03" width="7.76" height="8.11" fill="#fff" stroke="#C2C2C2" stroke-width="0.7"/>
<rect x="551.29" y="135.03" width="7.76" height="8.11" fill="#fff" stroke="#C2C2C2" stroke-width="0.7"/>
<rect x="559.06" y="135.03" width="7.76" height="8.11" fill="#fff" stroke="#C2C2C2" stroke-width="0.7"/>
<rect x="566.82" y="135.03" width="7.76" height="8.11" fill="#fff" stroke="#C2C2C2" stroke-width="0.7"/>
<rect x="574.59" y="135.03" width="7.76" height="8.11" fill="#fff" stroke="#C2C2C2" stroke-width="0.7"/>
<rect x="582.35" y="135.03" width="7.76" height="8.11" fill="#fff" stroke="#C2C2C2" stroke-width="0.7"/>
<rect x="590.11" y="135.03" width="7.76" height="8.11" fill="#fff" stroke="#C2C2C2" stroke-width="0.7"/>
<rect x="481.42" y="143.13" width="7.76" height="8.11" fill="#fff" stroke="#C2C2C2" stroke-width="0.7"/>
<rect x="489.18" y="143.13" width="7.76" height="8.11" fill="#fff" stroke="#C2C2C2" stroke-width="0.7"/>
<rect x="496.95" y="143.13" width="7.76" height="8.11" fill="#fff" stroke="#C2C2C2" stroke-width="0.7"/>
<rect x="504.71" y="143.13" width="7.76" height="8.11" fill="#fff" stroke="#C2C2C2" stroke-width="0.7"/>
<rect x="512.47" y="143.13" width="7.76" height="8.11" fill="#fff" stroke="#C2C2C2" stroke-width="0.7"/>
<rect x="520.24" y="143.13" width="7.76" height="8.11" fill="#fff" stroke="#C2C2C2" stroke-width="0.7"/>
<rect x="528.00" y="143.13" width="7.76" height="8.11" fill="#fff" stroke="#C2C2C2" stroke-width="0.7"/>
<rect x="535.77" y="143.13" width="7.76" height="8.11" fill="#fff" stroke="#C2C2C2" stroke-width="0.7"/>
<rect x="543.53" y="143.13" width="7.76" height="8.11" fill="#fff" stroke="#C2C2C2" stroke-width="0.7"/>
<rect x="551.29" y="143.13" width="7.76" height="8.11" fill="#fff" stroke="#C2C2C2" stroke-width="0.7"/>
<rect x="559.06" y="143.13" width="7.76" height="8.11" fill="#fff" stroke="#C2C2C2" stroke-width="0.7"/>
<rect x="566.82" y="143.13" width="7.76" height="8.11" fill="#fff" stroke="#C2C2C2" stroke-width="0.7"/>
<rect x="574.59" y="143.13" width="7.76" height="8.11" fill="#fff" stroke="#C2C2C2" stroke-width="0.7"/>
<rect x="582.35" y="143.13" width="7.76" height="8.11" fill="#fff" stroke="#C2C2C2" stroke-width="0.7"/>
<rect x="590.11" y="143.13" width="7.76" height="8.11" fill="#fff" stroke="#C2C2C2" stroke-width="0.7"/>
<rect x="489.18" y="151.24" width="7.76" height="8.11" fill="#fff" stroke="#C2C2C2" stroke-width="0.7"/>
<rect x="496.95" y="151.24" width="7.76" height="8.11" fill="#fff" stroke="#C2C2C2" stroke-width="0.7"/>
<rect x="504.71" y="151.24" width="7.76" height="8.11" fill="#fff" stroke="#C2C2C2" stroke-width="0.7"/>
<rect x="512.47" y="151.24" width="7.76" height="8.11" fill="#fff" stroke="#C2C2C2" stroke-width="0.7"/>
<rect x="520.24" y="151.24" width="7.76" height="8.11" fill="#fff" stroke="#C2C2C2" stroke-width="0.7"/>
<rect x="528.00" y="151.24" width="7.76" height="8.11" fill="#fff" stroke="#C2C2C2" stroke-width="0.7"/>
<rect x="535.77" y="151.24" width="7.76" height="8.11" fill="#fff" stroke="#C2C2C2" stroke-width="0.7"/>
<rect x="543.53" y="151.24" width="7.76" height="8.11" fill="#fff" stroke="#C2C2C2" stroke-width="0.7"/>
<rect x="551.29" y="151.24" width="7.76" height="8.11" fill="#fff" stroke="#C2C2C2" stroke-width="0.7"/>
<rect x="559.06" y="151.24" width="7.76" height="8.11" fill="#fff" stroke="#C2C2C2" stroke-width="0.7"/>
<rect x="566.82" y="151.24" width="7.76" height="8.11" fill="#fff" stroke="#C2C2C2" stroke-width="0.7"/>
<rect x="574.59" y="151.24" width="7.76" height="8.11" fill="#fff" stroke="#C2C2C2" stroke-width="0.7"/>
<rect x="582.35" y="151.24" width="7.76" height="8.11" fill="#fff" stroke="#C2C2C2" stroke-width="0.7"/>
<rect x="590.11" y="151.24" width="7.76" height="8.11" fill="#fff" stroke="#C2C2C2" stroke-width="0.7"/>
<rect x="496.95" y="159.34" width="7.76" height="8.11" fill="#fff" stroke="#C2C2C2" stroke-width="0.7"/>
<rect x="504.71" y="159.34" width="7.76" height="8.11" fill="#fff" stroke="#C2C2C2" stroke-width="0.7"/>
<rect x="512.47" y="159.34" width="7.76" height="8.11" fill="#fff" stroke="#C2C2C2" stroke-width="0.7"/>
<rect x="520.24" y="159.34" width="7.76" height="8.11" fill="#fff" stroke="#C2C2C2" stroke-width="0.7"/>
<rect x="528.00" y="159.34" width="7.76" height="8.11" fill="#fff" stroke="#C2C2C2" stroke-width="0.7"/>
<rect x="535.77" y="159.34" width="7.76" height="8.11" fill="#fff" stroke="#C2C2C2" stroke-width="0.7"/>
<rect x="543.53" y="159.34" width="7.76" height="8.11" fill="#fff" stroke="#C2C2C2" stroke-width="0.7"/>
<rect x="551.29" y="159.34" width="7.76" height="8.11" fill="#fff" stroke="#C2C2C2" stroke-width="0.7"/>
<rect x="559.06" y="159.34" width="7.76" height="8.11" fill="#fff" stroke="#C2C2C2" stroke-width="0.7"/>
<rect x="566.82" y="159.34" width="7.76" height="8.11" fill="#fff" stroke="#C2C2C2" stroke-width="0.7"/>
<rect x="574.59" y="159.34" width="7.76" height="8.11" fill="#fff" stroke="#C2C2C2" stroke-width="0.7"/>
<rect x="582.35" y="159.34" width="7.76" height="8.11" fill="#fff" stroke="#C2C2C2" stroke-width="0.7"/>
<rect x="590.11" y="159.34" width="7.76" height="8.11" fill="#fff" stroke="#C2C2C2" stroke-width="0.7"/>
<rect x="504.71" y="167.44" width="7.76" height="8.11" fill="#fff" stroke="#C2C2C2" stroke-width="0.7"/>
<rect x="512.47" y="167.44" width="7.76" height="8.11" fill="#fff" stroke="#C2C2C2" stroke-width="0.7"/>
<rect x="520.24" y="167.44" width="7.76" height="8.11" fill="#fff" stroke="#C2C2C2" stroke-width="0.7"/>
<rect x="528.00" y="167.44" width="7.76" height="8.11" fill="#fff" stroke="#C2C2C2" stroke-width="0.7"/>
<rect x="535.77" y="167.44" width="7.76" height="8.11" fill="#fff" stroke="#C2C2C2" stroke-width="0.7"/>
<rect x="543.53" y="167.44" width="7.76" height="8.11" fill="#fff" stroke="#C2C2C2" stroke-width="0.7"/>
<rect x="551.29" y="167.44" width="7.76" height="8.11" fill="#fff" stroke="#C2C2C2" stroke-width="0.7"/>
<rect x="559.06" y="167.44" width="7.76" height="8.11" fill="#fff" stroke="#C2C2C2" stroke-width="0.7"/>
<rect x="566.82" y="167.44" width="7.76" height="8.11" fill="#fff" stroke="#C2C2C2" stroke-width="0.7"/>
<rect x="574.59" y="167.44" width="7.76" height="8.11" fill="#fff" stroke="#C2C2C2" stroke-width="0.7"/>
<rect x="582.35" y="167.44" width="7.76" height="8.11" fill="#fff" stroke="#C2C2C2" stroke-width="0.7"/>
<rect x="590.11" y="167.44" width="7.76" height="8.11" fill="#fff" stroke="#C2C2C2" stroke-width="0.7"/>
<rect x="512.47" y="175.55" width="7.76" height="8.11" fill="#fff" stroke="#C2C2C2" stroke-width="0.7"/>
<rect x="520.24" y="175.55" width="7.76" height="8.11" fill="#fff" stroke="#C2C2C2" stroke-width="0.7"/>
<rect x="528.00" y="175.55" width="7.76" height="8.11" fill="#fff" stroke="#C2C2C2" stroke-width="0.7"/>
<rect x="535.77" y="175.55" width="7.76" height="8.11" fill="#fff" stroke="#C2C2C2" stroke-width="0.7"/>
<rect x="543.53" y="175.55" width="7.76" height="8.11" fill="#fff" stroke="#C2C2C2" stroke-width="0.7"/>
<rect x="551.29" y="175.55" width="7.76" height="8.11" fill="#fff" stroke="#C2C2C2" stroke-width="0.7"/>
<rect x="559.06" y="175.55" width="7.76" height="8.11" fill="#fff" stroke="#C2C2C2" stroke-width="0.7"/>
<rect x="566.82" y="175.55" width="7.76" height="8.11" fill="#fff" stroke="#C2C2C2" stroke-width="0.7"/>
<rect x="574.59" y="175.55" width="7.76" height="8.11" fill="#fff" stroke="#C2C2C2" stroke-width="0.7"/>
<rect x="582.35" y="175.55" width="7.76" height="8.11" fill="#fff" stroke="#C2C2C2" stroke-width="0.7"/>
<rect x="590.11" y="175.55" width="7.76" height="8.11" fill="#fff" stroke="#C2C2C2" stroke-width="0.7"/>
<rect x="520.24" y="183.66" width="7.76" height="8.11" fill="#fff" stroke="#C2C2C2" stroke-width="0.7"/>
<rect x="528.00" y="183.66" width="7.76" height="8.11" fill="#fff" stroke="#C2C2C2" stroke-width="0.7"/>
<rect x="535.77" y="183.66" width="7.76" height="8.11" fill="#fff" stroke="#C2C2C2" stroke-width="0.7"/>
<rect x="543.53" y="183.66" width="7.76" height="8.11" fill="#fff" stroke="#C2C2C2" stroke-width="0.7"/>
<rect x="551.29" y="183.66" width="7.76" height="8.11" fill="#fff" stroke="#C2C2C2" stroke-width="0.7"/>
<rect x="559.06" y="183.66" width="7.76" height="8.11" fill="#fff" stroke="#C2C2C2" stroke-width="0.7"/>
<rect x="566.82" y="183.66" width="7.76" height="8.11" fill="#fff" stroke="#C2C2C2" stroke-width="0.7"/>
<rect x="574.59" y="183.66" width="7.76" height="8.11" fill="#fff" stroke="#C2C2C2" stroke-width="0.7"/>
<rect x="582.35" y="183.66" width="7.76" height="8.11" fill="#fff" stroke="#C2C2C2" stroke-width="0.7"/>
<rect x="590.11" y="183.66" width="7.76" height="8.11" fill="#fff" stroke="#C2C2C2" stroke-width="0.7"/>
<rect x="528.00" y="191.76" width="7.76" height="8.11" fill="#fff" stroke="#C2C2C2" stroke-width="0.7"/>
<rect x="535.77" y="191.76" width="7.76" height="8.11" fill="#fff" stroke="#C2C2C2" stroke-width="0.7"/>
<rect x="543.53" y="191.76" width="7.76" height="8.11" fill="#fff" stroke="#C2C2C2" stroke-width="0.7"/>
<rect x="551.29" y="191.76" width="7.76" height="8.11" fill="#fff" stroke="#C2C2C2" stroke-width="0.7"/>
<rect x="559.06" y="191.76" width="7.76" height="8.11" fill="#fff" stroke="#C2C2C2" stroke-width="0.7"/>
<rect x="566.82" y="191.76" width="7.76" height="8.11" fill="#fff" stroke="#C2C2C2" stroke-width="0.7"/>
<rect x="574.59" y="191.76" width="7.76" height="8.11" fill="#fff" stroke="#C2C2C2" stroke-width="0.7"/>
<rect x="582.35" y="191.76" width="7.76" height="8.11" fill="#fff" stroke="#C2C2C2" stroke-width="0.7"/>
<rect x="590.11" y="191.76" width="7.76" height="8.11" fill="#fff" stroke="#C2C2C2" stroke-width="0.7"/>
<rect x="535.77" y="199.87" width="7.76" height="8.11" fill="#fff" stroke="#C2C2C2" stroke-width="0.7"/>
<rect x="543.53" y="199.87" width="7.76" height="8.11" fill="#fff" stroke="#C2C2C2" stroke-width="0.7"/>
<rect x="551.29" y="199.87" width="7.76" height="8.11" fill="#fff" stroke="#C2C2C2" stroke-width="0.7"/>
<rect x="559.06" y="199.87" width="7.76" height="8.11" fill="#fff" stroke="#C2C2C2" stroke-width="0.7"/>
<rect x="566.82" y="199.87" width="7.76" height="8.11" fill="#fff" stroke="#C2C2C2" stroke-width="0.7"/>
<rect x="574.59" y="199.87" width="7.76" height="8.11" fill="#fff" stroke="#C2C2C2" stroke-width="0.7"/>
<rect x="582.35" y="199.87" width="7.76" height="8.11" fill="#fff" stroke="#C2C2C2" stroke-width="0.7"/>
<rect x="590.11" y="199.87" width="7.76" height="8.11" fill="#fff" stroke="#C2C2C2" stroke-width="0.7"/>
<rect x="543.53" y="207.97" width="7.76" height="8.11" fill="#fff" stroke="#C2C2C2" stroke-width="0.7"/>
<rect x="551.29" y="207.97" width="7.76" height="8.11" fill="#fff" stroke="#C2C2C2" stroke-width="0.7"/>
<rect x="559.06" y="207.97" width="7.76" height="8.11" fill="#fff" stroke="#C2C2C2" stroke-width="0.7"/>
<rect x="566.82" y="207.97" width="7.76" height="8.11" fill="#fff" stroke="#C2C2C2" stroke-width="0.7"/>
<rect x="574.59" y="207.97" width="7.76" height="8.11" fill="#fff" stroke="#C2C2C2" stroke-width="0.7"/>
<rect x="582.35" y="207.97" width="7.76" height="8.11" fill="#fff" stroke="#C2C2C2" stroke-width="0.7"/>
<rect x="590.11" y="207.97" width="7.76" height="8.11" fill="#fff" stroke="#C2C2C2" stroke-width="0.7"/>
<rect x="551.29" y="216.07" width="7.76" height="8.11" fill="#fff" stroke="#C2C2C2" stroke-width="0.7"/>
<rect x="559.06" y="216.07" width="7.76" height="8.11" fill="#fff" stroke="#C2C2C2" stroke-width="0.7"/>
<rect x="566.82" y="216.07" width="7.76" height="8.11" fill="#fff" stroke="#C2C2C2" stroke-width="0.7"/>
<rect x="574.59" y="216.07" width="7.76" height="8.11" fill="#fff" stroke="#C2C2C2" stroke-width="0.7"/>
<rect x="582.35" y="216.07" width="7.76" height="8.11" fill="#fff" stroke="#C2C2C2" stroke-width="0.7"/>
<rect x="590.11" y="216.07" width="7.76" height="8.11" fill="#fff" stroke="#C2C2C2" stroke-width="0.7"/>
<rect x="559.06" y="224.18" width="7.76" height="8.11" fill="#fff" stroke="#C2C2C2" stroke-width="0.7"/>
<rect x="566.82" y="224.18" width="7.76" height="8.11" fill="#fff" stroke="#C2C2C2" stroke-width="0.7"/>
<rect x="574.59" y="224.18" width="7.76" height="8.11" fill="#fff" stroke="#C2C2C2" stroke-width="0.7"/>
<rect x="582.35" y="224.18" width="7.76" height="8.11" fill="#fff" stroke="#C2C2C2" stroke-width="0.7"/>
<rect x="590.11" y="224.18" width="7.76" height="8.11" fill="#fff" stroke="#C2C2C2" stroke-width="0.7"/>
<rect x="566.82" y="232.28" width="7.76" height="8.11" fill="#fff" stroke="#C2C2C2" stroke-width="0.7"/>
<rect x="574.59" y="232.28" width="7.76" height="8.11" fill="#fff" stroke="#C2C2C2" stroke-width="0.7"/>
<rect x="582.35" y="232.28" width="7.76" height="8.11" fill="#fff" stroke="#C2C2C2" stroke-width="0.7"/>
<rect x="590.11" y="232.28" width="7.76" height="8.11" fill="#fff" stroke="#C2C2C2" stroke-width="0.7"/>
<rect x="574.59" y="240.39" width="7.76" height="8.11" fill="#fff" stroke="#C2C2C2" stroke-width="0.7"/>
<rect x="582.35" y="240.39" width="7.76" height="8.11" fill="#fff" stroke="#C2C2C2" stroke-width="0.7"/>
<rect x="590.11" y="240.39" width="7.76" height="8.11" fill="#fff" stroke="#C2C2C2" stroke-width="0.7"/>
<rect x="582.35" y="248.50" width="7.76" height="8.11" fill="#fff" stroke="#C2C2C2" stroke-width="0.7"/>
<rect x="590.11" y="248.50" width="7.76" height="8.11" fill="#fff" stroke="#C2C2C2" stroke-width="0.7"/>
<rect x="590.11" y="256.60" width="7.76" height="8.11" fill="#fff" stroke="#C2C2C2" stroke-width="0.7"/>
<rect x="436.93" y="96.69" width="3.57" height="3.73" fill="#c9cfe3" stroke="#858585" stroke-width="0.5"/>
<rect x="444.69" y="96.69" width="3.57" height="3.73" fill="#f8c4c7" stroke="#858585" stroke-width="0.5"/>
<rect x="452.99" y="97.25" width="2.50" height="2.61" fill="#fbe2e3" stroke="#858585" stroke-width="0.5"/>
<rect x="460.94" y="97.43" width="2.14" height="2.24" fill="#ffffff" stroke="#858585" stroke-width="0.5"/>
<rect x="468.70" y="97.43" width="2.14" height="2.24" fill="#ffffff" stroke="#858585" stroke-width="0.5"/>
<rect x="475.57" y="96.50" width="3.93" height="4.10" fill="#f6b8bb" stroke="#858585" stroke-width="0.5"/>
<rect x="484.23" y="97.43" width="2.14" height="2.24" fill="#ffffff" stroke="#858585" stroke-width="0.5"/>
<rect x="491.81" y="97.25" width="2.50" height="2.61" fill="#fbe2e3" stroke="#858585" stroke-width="0.5"/>
<rect x="499.76" y="97.43" width="2.14" height="2.24" fill="#ffffff" stroke="#858585" stroke-width="0.5"/>
<rect x="508.23" y="98.18" width="0.71" height="0.75" fill="#ffffff" stroke="#858585" stroke-width="0.5"/>
<rect x="514.57" y="96.69" width="3.57" height="3.73" fill="#c9cfe3" stroke="#858585" stroke-width="0.5"/>
<rect x="522.87" y="97.25" width="2.50" height="2.61" fill="#ffffff" stroke="#858585" stroke-width="0.5"/>
<rect x="530.28" y="96.87" width="3.21" height="3.36" fill="#d3d8e8" stroke="#858585" stroke-width="0.5"/>
<rect x="538.04" y="96.87" width="3.21" height="3.36" fill="#d3d8e8" stroke="#858585" stroke-width="0.5"/>
<rect x="545.45" y="96.50" width="3.93" height="4.10" fill="#bdc5dd" stroke="#858585" stroke-width="0.5"/>
<rect x="553.57" y="96.87" width="3.21" height="3.36" fill="#f9cfd1" stroke="#858585" stroke-width="0.5"/>
<rect x="561.51" y="97.06" width="2.86" height="2.98" fill="#fad9db" stroke="#858585" stroke-width="0.5"/>
<rect x="568.92" y="96.69" width="3.57" height="3.73" fill="#c9cfe3" stroke="#858585" stroke-width="0.5"/>
<rect x="577.40" y="97.43" width="2.14" height="2.24" fill="#ffffff" stroke="#858585" stroke-width="0.5"/>
<rect x="584.98" y="97.25" width="2.50" height="2.61" fill="#ffffff" stroke="#858585" stroke-width="0.5"/>
<rect x="592.21" y="96.69" width="3.57" height="3.73" fill="#c9cfe3" stroke="#858585" stroke-width="0.5"/>
<rect x="444.87" y="104.98" width="3.21" height="3.36" fill="#f9cfd1" stroke="#858585" stroke-width="0.5"/>
<rect x="452.64" y="104.98" width="3.21" height="3.36" fill="#d3d8e8" stroke="#858585" stroke-width="0.5"/>
<rect x="460.76" y="105.35" width="2.50" height="2.61" fill="#ffffff" stroke="#858585" stroke-width="0.5"/>
<rect x="469.41" y="106.28" width="0.71" height="0.75" fill="#ffffff" stroke="#858585" stroke-width="0.5"/>
<rect x="476.64" y="105.73" width="1.79" height="1.86" fill="#ffffff" stroke="#858585" stroke-width="0.5"/>
<rect x="484.59" y="105.91" width="1.43" height="1.49" fill="#ffffff" stroke="#858585" stroke-width="0.5"/>
<rect x="491.46" y="104.98" width="3.21" height="3.36" fill="#d3d8e8" stroke="#858585" stroke-width="0.5"/>
<rect x="499.58" y="105.35" width="2.50" height="2.61" fill="#fbe2e3" stroke="#858585" stroke-width="0.5"/>
<rect x="507.16" y="105.17" width="2.86" height="2.98" fill="#fad9db" stroke="#858585" stroke-width="0.5"/>
<rect x="514.75" y="104.98" width="3.21" height="3.36" fill="#d3d8e8" stroke="#858585" stroke-width="0.5"/>
<rect x="522.87" y="105.35" width="2.50" height="2.61" fill="#ffffff" stroke="#858585" stroke-width="0.5"/>
<rect x="530.10" y="104.79" width="3.57" height="3.73" fill="#c9cfe3" stroke="#858585" stroke-width="0.5"/>
<rect x="538.58" y="105.54" width="2.14" height="2.24" fill="#ffffff" stroke="#858585" stroke-width="0.5"/>
<rect x="547.13" y="106.36" width="0.57" height="0.60" fill="#ffffff" stroke="#858585" stroke-width="0.5"/>
<rect x="554.82" y="106.28" width="0.71" height="0.75" fill="#ffffff" stroke="#858585" stroke-width="0.5"/>
<rect x="561.87" y="105.54" width="2.14" height="2.24" fill="#ffffff" stroke="#858585" stroke-width="0.5"/>
<rect x="569.63" y="105.54" width="2.14" height="2.24" fill="#ffffff" stroke="#858585" stroke-width="0.5"/>
<rect x="577.93" y="106.10" width="1.07" height="1.12" fill="#ffffff" stroke="#858585" stroke-width="0.5"/>
<rect x="585.16" y="105.54" width="2.14" height="2.24" fill="#ffffff" stroke="#858585" stroke-width="0.5"/>
<rect x="593.10" y="105.73" width="1.79" height="1.86" fill="#ffffff" stroke="#858585" stroke-width="0.5"/>
<rect x="452.10" y="112.53" width="4.29" height="4.47" fill="#f4aaae" stroke="#858585" stroke-width="0.5"/>
<rect x="460.94" y="113.64" width="2.14" height="2.24" fill="#ffffff" stroke="#858585" stroke-width="0.5"/>
<rect x="468.70" y="113.64" width="2.14" height="2.24" fill="#ffffff" stroke="#858585" stroke-width="0.5"/>
<rect x="475.57" y="112.71" width="3.93" height="4.10" fill="#f6b8bb" stroke="#858585" stroke-width="0.5"/>
<rect x="483.51" y="112.90" width="3.57" height="3.73" fill="#f8c4c7" stroke="#858585" stroke-width="0.5"/>
<rect x="491.46" y="113.08" width="3.21" height="3.36" fill="#f9cfd1" stroke="#858585" stroke-width="0.5"/>
<rect x="499.22" y="113.08" width="3.21" height="3.36" fill="#d3d8e8" stroke="#858585" stroke-width="0.5"/>
<rect x="507.52" y="113.64" width="2.14" height="2.24" fill="#ffffff" stroke="#858585" stroke-width="0.5"/>
<rect x="514.75" y="113.08" width="3.21" height="3.36" fill="#d3d8e8" stroke="#858585" stroke-width="0.5"/>
<rect x="522.69" y="113.27" width="2.86" height="2.98" fill="#ffffff" stroke="#858585" stroke-width="0.5"/>
<rect x="529.74" y="112.53" width="4.29" height="4.47" fill="#b1bad7" stroke="#858585" stroke-width="0.5"/>
<rect x="538.40" y="113.46" width="2.50" height="2.61" fill="#ffffff" stroke="#858585" stroke-width="0.5"/>
<rect x="545.09" y="112.34" width="4.64" height="4.85" fill="#a3aed0" stroke="#858585" stroke-width="0.5"/>
<rect x="554.28" y="113.83" width="1.79" height="1.86" fill="#ffffff" stroke="#858585" stroke-width="0.5"/>
<rect x="561.15" y="112.90" width="3.57" height="3.73" fill="#c9cfe3" stroke="#858585" stroke-width="0.5"/>
<rect x="568.38" y="112.34" width="4.64" height="4.85" fill="#a3aed0" stroke="#858585" stroke-width="0.5"/>
<rect x="576.86" y="113.08" width="3.21" height="3.36" fill="#d3d8e8" stroke="#858585" stroke-width="0.5"/>
<rect x="585.16" y="113.64" width="2.14" height="2.24" fill="#ffffff" stroke="#858585" stroke-width="0.5"/>
<rect x="591.50" y="112.15" width="5.00" height="5.22" fill="#9ca8cc" stroke="#858585" stroke-width="0.5"/>
<rect x="460.04" y="120.82" width="3.93" height="4.10" fill="#bdc5dd" stroke="#858585" stroke-width="0.5"/>
<rect x="467.81" y="120.82" width="3.93" height="4.10" fill="#bdc5dd" stroke="#858585" stroke-width="0.5"/>
<rect x="475.39" y="120.63" width="4.29" height="4.47" fill="#f4aaae" stroke="#858585" stroke-width="0.5"/>
<rect x="484.41" y="121.94" width="1.79" height="1.86" fill="#ffffff" stroke="#858585" stroke-width="0.5"/>
<rect x="492.78" y="122.57" width="0.57" height="0.60" fill="#ffffff" stroke="#858585" stroke-width="0.5"/>
<rect x="499.22" y="121.19" width="3.21" height="3.36" fill="#d3d8e8" stroke="#858585" stroke-width="0.5"/>
<rect x="507.52" y="121.75" width="2.14" height="2.24" fill="#ffffff" stroke="#858585" stroke-width="0.5"/>
<rect x="515.93" y="122.42" width="0.86" height="0.89" fill="#ffffff" stroke="#858585" stroke-width="0.5"/>
<rect x="522.87" y="121.56" width="2.50" height="2.61" fill="#ffffff" stroke="#858585" stroke-width="0.5"/>
<rect x="530.10" y="121.00" width="3.57" height="3.73" fill="#c9cfe3" stroke="#858585" stroke-width="0.5"/>
<rect x="537.86" y="121.00" width="3.57" height="3.73" fill="#c9cfe3" stroke="#858585" stroke-width="0.5"/>
<rect x="545.63" y="121.00" width="3.57" height="3.73" fill="#c9cfe3" stroke="#858585" stroke-width="0.5"/>
<rect x="554.82" y="122.49" width="0.71" height="0.75" fill="#ffffff" stroke="#858585" stroke-width="0.5"/>
<rect x="561.69" y="121.56" width="2.50" height="2.61" fill="#ffffff" stroke="#858585" stroke-width="0.5"/>
<rect x="568.74" y="120.82" width="3.93" height="4.10" fill="#bdc5dd" stroke="#858585" stroke-width="0.5"/>
<rect x="576.86" y="121.19" width="3.21" height="3.36" fill="#d3d8e8" stroke="#858585" stroke-width="0.5"/>
<rect x="585.52" y="122.12" width="1.43" height="1.49" fill="#ffffff" stroke="#858585" stroke-width="0.5"/>
<rect x="591.85" y="120.63" width="4.29" height="4.47" fill="#b1bad7" stroke="#858585" stroke-width="0.5"/>
<rect x="467.99" y="129.11" width="3.57" height="3.73" fill="#c9cfe3" stroke="#858585" stroke-width="0.5"/>
<rect x="477.18" y="130.60" width="0.71" height="0.75" fill="#ffffff" stroke="#858585" stroke-width="0.5"/>
<rect x="483.34" y="128.92" width="3.93" height="4.10" fill="#bdc5dd" stroke="#858585" stroke-width="0.5"/>
<rect x="491.64" y="129.48" width="2.86" height="2.98" fill="#fad9db" stroke="#858585" stroke-width="0.5"/>
<rect x="499.58" y="129.67" width="2.50" height="2.61" fill="#ffffff" stroke="#858585" stroke-width="0.5"/>
<rect x="507.34" y="129.67" width="2.50" height="2.61" fill="#fbe2e3" stroke="#858585" stroke-width="0.5"/>
<rect x="514.75" y="129.29" width="3.21" height="3.36" fill="#d3d8e8" stroke="#858585" stroke-width="0.5"/>
<rect x="522.16" y="128.92" width="3.93" height="4.10" fill="#f6b8bb" stroke="#858585" stroke-width="0.5"/>
<rect x="529.92" y="128.92" width="3.93" height="4.10" fill="#f6b8bb" stroke="#858585" stroke-width="0.5"/>
<rect x="537.51" y="128.74" width="4.29" height="4.47" fill="#f4aaae" stroke="#858585" stroke-width="0.5"/>
<rect x="546.88" y="130.41" width="1.07" height="1.12" fill="#ffffff" stroke="#858585" stroke-width="0.5"/>
<rect x="553.93" y="129.67" width="2.50" height="2.61" fill="#ffffff" stroke="#858585" stroke-width="0.5"/>
<rect x="561.33" y="129.29" width="3.21" height="3.36" fill="#d3d8e8" stroke="#858585" stroke-width="0.5"/>
<rect x="569.63" y="129.85" width="2.14" height="2.24" fill="#fceaeb" stroke="#858585" stroke-width="0.5"/>
<rect x="577.75" y="130.23" width="1.43" height="1.49" fill="#ffffff" stroke="#858585" stroke-width="0.5"/>
<rect x="584.80" y="129.48" width="2.86" height="2.98" fill="#dce0ed" stroke="#858585" stroke-width="0.5"/>
<rect x="592.75" y="129.67" width="2.50" height="2.61" fill="#ffffff" stroke="#858585" stroke-width="0.5"/>
<rect x="475.93" y="137.40" width="3.21" height="3.36" fill="#d3d8e8" stroke="#858585" stroke-width="0.5"/>
<rect x="483.87" y="137.59" width="2.86" height="2.98" fill="#fad9db" stroke="#858585" stroke-width="0.5"/>
<rect x="491.46" y="137.40" width="3.21" height="3.36" fill="#f9cfd1" stroke="#858585" stroke-width="0.5"/>
<rect x="499.94" y="138.15" width="1.79" height="1.86" fill="#ffffff" stroke="#858585" stroke-width="0.5"/>
<rect x="507.16" y="137.59" width="2.86" height="2.98" fill="#dce0ed" stroke="#858585" stroke-width="0.5"/>
<rect x="516.00" y="138.70" width="0.71" height="0.75" fill="#ffffff" stroke="#858585" stroke-width="0.5"/>
<rect x="523.05" y="137.96" width="2.14" height="2.24" fill="#ffffff" stroke="#858585" stroke-width="0.5"/>
<rect x="530.28" y="137.40" width="3.21" height="3.36" fill="#d3d8e8" stroke="#858585" stroke-width="0.5"/>
<rect x="539.11" y="138.52" width="1.07" height="1.12" fill="#ffffff" stroke="#858585" stroke-width="0.5"/>
<rect x="546.70" y="138.33" width="1.43" height="1.49" fill="#ffffff" stroke="#858585" stroke-width="0.5"/>
<rect x="554.28" y="138.15" width="1.79" height="1.86" fill="#ffffff" stroke="#858585" stroke-width="0.5"/>
<rect x="561.51" y="137.59" width="2.86" height="2.98" fill="#fad9db" stroke="#858585" stroke-width="0.5"/>
<rect x="569.81" y="138.15" width="1.79" height="1.86" fill="#ffffff" stroke="#858585" stroke-width="0.5"/>
<rect x="577.22" y="137.77" width="2.50" height="2.61" fill="#fbe2e3" stroke="#858585" stroke-width="0.5"/>
<rect x="585.87" y="138.70" width="0.71" height="0.75" fill="#ffffff" stroke="#858585" stroke-width="0.5"/>
<rect x="592.92" y="137.96" width="2.14" height="2.24" fill="#ffffff" stroke="#858585" stroke-width="0.5"/>
<rect x="483.69" y="145.50" width="3.21" height="3.36" fill="#d3d8e8" stroke="#858585" stroke-width="0.5"/>
<rect x="492.71" y="146.81" width="0.71" height="0.75" fill="#ffffff" stroke="#858585" stroke-width="0.5"/>
<rect x="499.22" y="145.50" width="3.21" height="3.36" fill="#d3d8e8" stroke="#858585" stroke-width="0.5"/>
<rect x="506.63" y="145.13" width="3.93" height="4.10" fill="#f6b8bb" stroke="#858585" stroke-width="0.5"/>
<rect x="515.46" y="146.25" width="1.79" height="1.86" fill="#ffffff" stroke="#858585" stroke-width="0.5"/>
<rect x="522.87" y="145.88" width="2.50" height="2.61" fill="#ffffff" stroke="#858585" stroke-width="0.5"/>
<rect x="530.28" y="145.50" width="3.21" height="3.36" fill="#d3d8e8" stroke="#858585" stroke-width="0.5"/>
<rect x="538.40" y="145.88" width="2.50" height="2.61" fill="#ffffff" stroke="#858585" stroke-width="0.5"/>
<rect x="545.45" y="145.13" width="3.93" height="4.10" fill="#bdc5dd" stroke="#858585" stroke-width="0.5"/>
<rect x="554.46" y="146.44" width="1.43" height="1.49" fill="#ffffff" stroke="#858585" stroke-width="0.5"/>
<rect x="561.15" y="145.32" width="3.57" height="3.73" fill="#c9cfe3" stroke="#858585" stroke-width="0.5"/>
<rect x="568.92" y="145.32" width="3.57" height="3.73" fill="#c9cfe3" stroke="#858585" stroke-width="0.5"/>
<rect x="577.22" y="145.88" width="2.50" height="2.61" fill="#ffffff" stroke="#858585" stroke-width="0.5"/>
<rect x="585.87" y="146.81" width="0.71" height="0.75" fill="#ffffff" stroke="#858585" stroke-width="0.5"/>
<rect x="592.21" y="145.32" width="3.57" height="3.73" fill="#c9cfe3" stroke="#858585" stroke-width="0.5"/>
<rect x="491.81" y="153.98" width="2.50" height="2.61" fill="#ffffff" stroke="#858585" stroke-width="0.5"/>
<rect x="500.11" y="154.54" width="1.43" height="1.49" fill="#ffffff" stroke="#858585" stroke-width="0.5"/>
<rect x="507.16" y="153.80" width="2.86" height="2.98" fill="#dce0ed" stroke="#858585" stroke-width="0.5"/>
<rect x="514.57" y="153.42" width="3.57" height="3.73" fill="#f8c4c7" stroke="#858585" stroke-width="0.5"/>
<rect x="522.51" y="153.61" width="3.21" height="3.36" fill="#d3d8e8" stroke="#858585" stroke-width="0.5"/>
<rect x="529.92" y="153.24" width="3.93" height="4.10" fill="#bdc5dd" stroke="#858585" stroke-width="0.5"/>
<rect x="537.86" y="153.42" width="3.57" height="3.73" fill="#c9cfe3" stroke="#858585" stroke-width="0.5"/>
<rect x="546.52" y="154.36" width="1.79" height="1.86" fill="#ffffff" stroke="#858585" stroke-width="0.5"/>
<rect x="554.28" y="154.36" width="1.79" height="1.86" fill="#ffffff" stroke="#858585" stroke-width="0.5"/>
<rect x="561.33" y="153.61" width="3.21" height="3.36" fill="#f9cfd1" stroke="#858585" stroke-width="0.5"/>
<rect x="568.74" y="153.24" width="3.93" height="4.10" fill="#bdc5dd" stroke="#858585" stroke-width="0.5"/>
<rect x="577.22" y="153.98" width="2.50" height="2.61" fill="#fbe2e3" stroke="#858585" stroke-width="0.5"/>
<rect x="584.62" y="153.61" width="3.21" height="3.36" fill="#f9cfd1" stroke="#858585" stroke-width="0.5"/>
<rect x="592.39" y="153.61" width="3.21" height="3.36" fill="#d3d8e8" stroke="#858585" stroke-width="0.5"/>
<rect x="500.29" y="162.83" width="1.07" height="1.12" fill="#ffffff" stroke="#858585" stroke-width="0.5"/>
<rect x="506.98" y="161.71" width="3.21" height="3.36" fill="#f9cfd1" stroke="#858585" stroke-width="0.5"/>
<rect x="514.57" y="161.53" width="3.57" height="3.73" fill="#c9cfe3" stroke="#858585" stroke-width="0.5"/>
<rect x="522.87" y="162.09" width="2.50" height="2.61" fill="#ffffff" stroke="#858585" stroke-width="0.5"/>
<rect x="530.46" y="161.90" width="2.86" height="2.98" fill="#dce0ed" stroke="#858585" stroke-width="0.5"/>
<rect x="538.40" y="162.09" width="2.50" height="2.61" fill="#fbe2e3" stroke="#858585" stroke-width="0.5"/>
<rect x="545.63" y="161.53" width="3.57" height="3.73" fill="#c9cfe3" stroke="#858585" stroke-width="0.5"/>
<rect x="553.75" y="161.90" width="2.86" height="2.98" fill="#fad9db" stroke="#858585" stroke-width="0.5"/>
<rect x="562.58" y="163.02" width="0.71" height="0.75" fill="#ffffff" stroke="#858585" stroke-width="0.5"/>
<rect x="569.10" y="161.71" width="3.21" height="3.36" fill="#d3d8e8" stroke="#858585" stroke-width="0.5"/>
<rect x="577.58" y="162.46" width="1.79" height="1.86" fill="#ffffff" stroke="#858585" stroke-width="0.5"/>
<rect x="585.34" y="162.46" width="1.79" height="1.86" fill="#ffffff" stroke="#858585" stroke-width="0.5"/>
<rect x="592.21" y="161.53" width="3.57" height="3.73" fill="#c9cfe3" stroke="#858585" stroke-width="0.5"/>
<rect x="506.81" y="169.63" width="3.57" height="3.73" fill="#c9cfe3" stroke="#858585" stroke-width="0.5"/>
<rect x="514.93" y="170.01" width="2.86" height="2.98" fill="#fad9db" stroke="#858585" stroke-width="0.5"/>
<rect x="523.05" y="170.38" width="2.14" height="2.24" fill="#ffffff" stroke="#858585" stroke-width="0.5"/>
<rect x="530.81" y="170.38" width="2.14" height="2.24" fill="#ffffff" stroke="#858585" stroke-width="0.5"/>
<rect x="538.04" y="169.82" width="3.21" height="3.36" fill="#d3d8e8" stroke="#858585" stroke-width="0.5"/>
<rect x="546.52" y="170.57" width="1.79" height="1.86" fill="#ffffff" stroke="#858585" stroke-width="0.5"/>
<rect x="553.93" y="170.19" width="2.50" height="2.61" fill="#fbe2e3" stroke="#858585" stroke-width="0.5"/>
<rect x="561.33" y="169.82" width="3.21" height="3.36" fill="#f9cfd1" stroke="#858585" stroke-width="0.5"/>
<rect x="569.81" y="170.57" width="1.79" height="1.86" fill="#ffffff" stroke="#858585" stroke-width="0.5"/>
<rect x="577.58" y="170.57" width="1.79" height="1.86" fill="#ffffff" stroke="#858585" stroke-width="0.5"/>
<rect x="585.70" y="170.94" width="1.07" height="1.12" fill="#ffffff" stroke="#858585" stroke-width="0.5"/>
<rect x="592.75" y="170.19" width="2.50" height="2.61" fill="#fbe2e3" stroke="#858585" stroke-width="0.5"/>
<rect x="514.57" y="177.74" width="3.57" height="3.73" fill="#c9cfe3" stroke="#858585" stroke-width="0.5"/>
<rect x="523.76" y="179.23" width="0.71" height="0.75" fill="#ffffff" stroke="#858585" stroke-width="0.5"/>
<rect x="530.99" y="178.67" width="1.79" height="1.86" fill="#ffffff" stroke="#858585" stroke-width="0.5"/>
<rect x="538.40" y="178.30" width="2.50" height="2.61" fill="#ffffff" stroke="#858585" stroke-width="0.5"/>
<rect x="545.80" y="177.92" width="3.21" height="3.36" fill="#d3d8e8" stroke="#858585" stroke-width="0.5"/>
<rect x="554.89" y="179.30" width="0.57" height="0.60" fill="#ffffff" stroke="#858585" stroke-width="0.5"/>
<rect x="561.69" y="178.30" width="2.50" height="2.61" fill="#ffffff" stroke="#858585" stroke-width="0.5"/>
<rect x="569.63" y="178.48" width="2.14" height="2.24" fill="#ffffff" stroke="#858585" stroke-width="0.5"/>
<rect x="576.86" y="177.92" width="3.21" height="3.36" fill="#f9cfd1" stroke="#858585" stroke-width="0.5"/>
<rect x="585.34" y="178.67" width="1.79" height="1.86" fill="#ffffff" stroke="#858585" stroke-width="0.5"/>
<rect x="592.39" y="177.92" width="3.21" height="3.36" fill="#d3d8e8" stroke="#858585" stroke-width="0.5"/>
<rect x="523.69" y="187.26" width="0.86" height="0.89" fill="#ffffff" stroke="#858585" stroke-width="0.5"/>
<rect x="530.63" y="186.40" width="2.50" height="2.61" fill="#ffffff" stroke="#858585" stroke-width="0.5"/>
<rect x="538.40" y="186.40" width="2.50" height="2.61" fill="#ffffff" stroke="#858585" stroke-width="0.5"/>
<rect x="546.70" y="186.96" width="1.43" height="1.49" fill="#ffffff" stroke="#858585" stroke-width="0.5"/>
<rect x="554.46" y="186.96" width="1.43" height="1.49" fill="#ffffff" stroke="#858585" stroke-width="0.5"/>
<rect x="561.33" y="186.03" width="3.21" height="3.36" fill="#f9cfd1" stroke="#858585" stroke-width="0.5"/>
<rect x="569.10" y="186.03" width="3.21" height="3.36" fill="#d3d8e8" stroke="#858585" stroke-width="0.5"/>
<rect x="577.75" y="186.96" width="1.43" height="1.49" fill="#ffffff" stroke="#858585" stroke-width="0.5"/>
<rect x="584.45" y="185.84" width="3.57" height="3.73" fill="#f8c4c7" stroke="#858585" stroke-width="0.5"/>
<rect x="593.28" y="186.96" width="1.43" height="1.49" fill="#ffffff" stroke="#858585" stroke-width="0.5"/>
<rect x="530.46" y="194.32" width="2.86" height="2.98" fill="#fad9db" stroke="#858585" stroke-width="0.5"/>
<rect x="538.04" y="194.13" width="3.21" height="3.36" fill="#f9cfd1" stroke="#858585" stroke-width="0.5"/>
<rect x="546.16" y="194.51" width="2.50" height="2.61" fill="#fbe2e3" stroke="#858585" stroke-width="0.5"/>
<rect x="554.10" y="194.69" width="2.14" height="2.24" fill="#ffffff" stroke="#858585" stroke-width="0.5"/>
<rect x="561.51" y="194.32" width="2.86" height="2.98" fill="#dce0ed" stroke="#858585" stroke-width="0.5"/>
<rect x="569.45" y="194.51" width="2.50" height="2.61" fill="#fbe2e3" stroke="#858585" stroke-width="0.5"/>
<rect x="577.58" y="194.88" width="1.79" height="1.86" fill="#ffffff" stroke="#858585" stroke-width="0.5"/>
<rect x="584.98" y="194.51" width="2.50" height="2.61" fill="#ffffff" stroke="#858585" stroke-width="0.5"/>
<rect x="593.64" y="195.44" width="0.71" height="0.75" fill="#ffffff" stroke="#858585" stroke-width="0.5"/>
<rect x="537.51" y="201.68" width="4.29" height="4.47" fill="#f4aaae" stroke="#858585" stroke-width="0.5"/>
<rect x="545.80" y="202.24" width="3.21" height="3.36" fill="#f9cfd1" stroke="#858585" stroke-width="0.5"/>
<rect x="553.39" y="202.05" width="3.57" height="3.73" fill="#c9cfe3" stroke="#858585" stroke-width="0.5"/>
<rect x="561.15" y="202.05" width="3.57" height="3.73" fill="#c9cfe3" stroke="#858585" stroke-width="0.5"/>
<rect x="568.92" y="202.05" width="3.57" height="3.73" fill="#f8c4c7" stroke="#858585" stroke-width="0.5"/>
<rect x="577.22" y="202.61" width="2.50" height="2.61" fill="#e4e8f1" stroke="#858585" stroke-width="0.5"/>
<rect x="584.98" y="202.61" width="2.50" height="2.61" fill="#ffffff" stroke="#858585" stroke-width="0.5"/>
<rect x="592.03" y="201.87" width="3.93" height="4.10" fill="#f6b8bb" stroke="#858585" stroke-width="0.5"/>
<rect x="547.05" y="211.65" width="0.71" height="0.75" fill="#ffffff" stroke="#858585" stroke-width="0.5"/>
<rect x="554.10" y="210.90" width="2.14" height="2.24" fill="#ffffff" stroke="#858585" stroke-width="0.5"/>
<rect x="560.80" y="209.79" width="4.29" height="4.47" fill="#b1bad7" stroke="#858585" stroke-width="0.5"/>
<rect x="569.45" y="210.72" width="2.50" height="2.61" fill="#fbe2e3" stroke="#858585" stroke-width="0.5"/>
<rect x="577.58" y="211.09" width="1.79" height="1.86" fill="#ffffff" stroke="#858585" stroke-width="0.5"/>
<rect x="584.45" y="210.16" width="3.57" height="3.73" fill="#c9cfe3" stroke="#858585" stroke-width="0.5"/>
<rect x="592.21" y="210.16" width="3.57" height="3.73" fill="#f8c4c7" stroke="#858585" stroke-width="0.5"/>
<rect x="553.39" y="218.26" width="3.57" height="3.73" fill="#c9cfe3" stroke="#858585" stroke-width="0.5"/>
<rect x="562.58" y="219.75" width="0.71" height="0.75" fill="#ffffff" stroke="#858585" stroke-width="0.5"/>
<rect x="568.92" y="218.26" width="3.57" height="3.73" fill="#f8c4c7" stroke="#858585" stroke-width="0.5"/>
<rect x="577.40" y="219.01" width="2.14" height="2.24" fill="#ffffff" stroke="#858585" stroke-width="0.5"/>
<rect x="585.16" y="219.01" width="2.14" height="2.24" fill="#ffffff" stroke="#858585" stroke-width="0.5"/>
<rect x="592.39" y="218.45" width="3.21" height="3.36" fill="#f9cfd1" stroke="#858585" stroke-width="0.5"/>
<rect x="562.40" y="227.67" width="1.07" height="1.12" fill="#ffffff" stroke="#858585" stroke-width="0.5"/>
<rect x="569.10" y="226.55" width="3.21" height="3.36" fill="#d3d8e8" stroke="#858585" stroke-width="0.5"/>
<rect x="576.86" y="226.55" width="3.21" height="3.36" fill="#f9cfd1" stroke="#858585" stroke-width="0.5"/>
<rect x="584.45" y="226.37" width="3.57" height="3.73" fill="#c9cfe3" stroke="#858585" stroke-width="0.5"/>
<rect x="592.75" y="226.93" width="2.50" height="2.61" fill="#ffffff" stroke="#858585" stroke-width="0.5"/>
<rect x="569.10" y="234.66" width="3.21" height="3.36" fill="#d3d8e8" stroke="#858585" stroke-width="0.5"/>
<rect x="577.93" y="235.78" width="1.07" height="1.12" fill="#ffffff" stroke="#858585" stroke-width="0.5"/>
<rect x="584.80" y="234.85" width="2.86" height="2.98" fill="#fad9db" stroke="#858585" stroke-width="0.5"/>
<rect x="593.64" y="235.96" width="0.71" height="0.75" fill="#ffffff" stroke="#858585" stroke-width="0.5"/>
<rect x="576.86" y="242.76" width="3.21" height="3.36" fill="#d3d8e8" stroke="#858585" stroke-width="0.5"/>
<rect x="584.62" y="242.76" width="3.21" height="3.36" fill="#d3d8e8" stroke="#858585" stroke-width="0.5"/>
<rect x="592.57" y="242.95" width="2.86" height="2.98" fill="#fad9db" stroke="#858585" stroke-width="0.5"/>
<rect x="584.98" y="251.24" width="2.50" height="2.61" fill="#ffffff" stroke="#858585" stroke-width="0.5"/>
<rect x="592.92" y="251.43" width="2.14" height="2.24" fill="#ffffff" stroke="#858585" stroke-width="0.5"/>
<rect x="593.64" y="260.28" width="0.71" height="0.75" fill="#ffffff" stroke="#858585" stroke-width="0.5"/>
<rect x="427.07" y="94.50" width="7.76" height="8.11" fill="#E84A52"/>
<rect x="434.83" y="102.61" width="7.76" height="8.11" fill="#E84A52"/>
<rect x="442.60" y="110.71" width="7.76" height="8.11" fill="#E84A52"/>
<rect x="450.36" y="118.81" width="7.76" height="8.11" fill="#E84A52"/>
<rect x="458.13" y="126.92" width="7.76" height="8.11" fill="#E84A52"/>
<rect x="465.89" y="135.03" width="7.76" height="8.11" fill="#E84A52"/>
<rect x="473.65" y="143.13" width="7.76" height="8.11" fill="#E84A52"/>
<rect x="481.42" y="151.24" width="7.76" height="8.11" fill="#E84A52"/>
<rect x="489.18" y="159.34" width="7.76" height="8.11" fill="#E84A52"/>
<rect x="496.95" y="167.44" width="7.76" height="8.11" fill="#E84A52"/>
<rect x="504.71" y="175.55" width="7.76" height="8.11" fill="#E84A52"/>
<rect x="512.47" y="183.66" width="7.76" height="8.11" fill="#E84A52"/>
<rect x="520.24" y="191.76" width="7.76" height="8.11" fill="#E84A52"/>
<rect x="528.00" y="199.87" width="7.76" height="8.11" fill="#E84A52"/>
<rect x="535.77" y="207.97" width="7.76" height="8.11" fill="#E84A52"/>
<rect x="543.53" y="216.07" width="7.76" height="8.11" fill="#E84A52"/>
<rect x="551.29" y="224.18" width="7.76" height="8.11" fill="#E84A52"/>
<rect x="559.06" y="232.28" width="7.76" height="8.11" fill="#E84A52"/>
<rect x="566.82" y="240.39" width="7.76" height="8.11" fill="#E84A52"/>
<rect x="574.59" y="248.50" width="7.76" height="8.11" fill="#E84A52"/>
<rect x="582.35" y="256.60" width="7.76" height="8.11" fill="#E84A52"/>
<rect x="590.11" y="264.71" width="7.76" height="8.11" fill="#E84A52"/>
<circle cx="423.17" cy="98.55" r="1.45" fill="#F50012" stroke="#4A36D8" stroke-width="0.5"/>
<circle cx="430.93" cy="106.66" r="1.45" fill="#F50012" stroke="#4A36D8" stroke-width="0.5"/>
<circle cx="438.70" cy="114.76" r="1.45" fill="#F50012" stroke="#4A36D8" stroke-width="0.5"/>
<circle cx="446.46" cy="122.87" r="1.45" fill="#F50012" stroke="#4A36D8" stroke-width="0.5"/>
<circle cx="454.23" cy="130.97" r="1.45" fill="#F50012" stroke="#4A36D8" stroke-width="0.5"/>
<circle cx="461.99" cy="139.08" r="1.45" fill="#F50012" stroke="#4A36D8" stroke-width="0.5"/>
<circle cx="469.75" cy="147.18" r="1.45" fill="#F50012" stroke="#4A36D8" stroke-width="0.5"/>
<circle cx="477.52" cy="155.29" r="1.45" fill="#F50012" stroke="#4A36D8" stroke-width="0.5"/>
<circle cx="485.28" cy="163.39" r="1.45" fill="#F50012" stroke="#4A36D8" stroke-width="0.5"/>
<circle cx="493.05" cy="171.50" r="1.45" fill="#F50012" stroke="#4A36D8" stroke-width="0.5"/>
<circle cx="500.81" cy="179.60" r="1.45" fill="#F50012" stroke="#4A36D8" stroke-width="0.5"/>
<circle cx="508.57" cy="187.71" r="1.45" fill="#F50012" stroke="#4A36D8" stroke-width="0.5"/>
<circle cx="516.34" cy="195.81" r="1.45" fill="#F50012" stroke="#4A36D8" stroke-width="0.5"/>
<circle cx="524.10" cy="203.92" r="1.45" fill="#F50012" stroke="#4A36D8" stroke-width="0.5"/>
<circle cx="531.87" cy="212.02" r="1.45" fill="#F50012" stroke="#4A36D8" stroke-width="0.5"/>
<circle cx="539.63" cy="220.13" r="1.45" fill="#F50012" stroke="#4A36D8" stroke-width="0.5"/>
<circle cx="547.39" cy="228.23" r="1.45" fill="#F50012" stroke="#4A36D8" stroke-width="0.5"/>
<circle cx="555.16" cy="236.34" r="1.45" fill="#F50012" stroke="#4A36D8" stroke-width="0.5"/>
<circle cx="562.92" cy="244.44" r="1.45" fill="#F50012" stroke="#4A36D8" stroke-width="0.5"/>
<circle cx="570.69" cy="252.55" r="1.45" fill="#F50012" stroke="#4A36D8" stroke-width="0.5"/>
<circle cx="578.45" cy="260.65" r="1.45" fill="#F50012" stroke="#4A36D8" stroke-width="0.5"/>
<circle cx="586.21" cy="268.76" r="1.45" fill="#F50012" stroke="#4A36D8" stroke-width="0.5"/>
<circle cx="457.90" cy="219.50" r="1.45" fill="#F50012" stroke="#4A36D8" stroke-width="0.5"/>
<text transform="translate(457.30,221.50) scale(1,1.04)" font-size="6.0" fill="#111" text-anchor="end" font-family="Liberation Sans, sans-serif">RNF13</text>
<text transform="translate(600.88,101.15) scale(1,1.04)" font-size="6.1" fill="#000" stroke="#000" stroke-width="0.12" font-family="Liberation Sans, sans-serif">B.cells.naive</text>
<text transform="translate(600.88,109.26) scale(1,1.04)" font-size="6.1" fill="#000" stroke="#000" stroke-width="0.12" font-family="Liberation Sans, sans-serif">B.cells.memory</text>
<text transform="translate(600.88,117.36) scale(1,1.04)" font-size="6.1" fill="#000" stroke="#000" stroke-width="0.12" font-family="Liberation Sans, sans-serif">Plasma.cells</text>
<text transform="translate(600.88,125.47) scale(1,1.04)" font-size="6.1" fill="#000" stroke="#000" stroke-width="0.12" font-family="Liberation Sans, sans-serif">T.cells.CD8</text>
<text transform="translate(600.88,133.57) scale(1,1.04)" font-size="6.1" fill="#000" stroke="#000" stroke-width="0.12" font-family="Liberation Sans, sans-serif">T.cells.CD4.naive</text>
<text transform="translate(600.88,141.68) scale(1,1.04)" font-size="6.1" fill="#000" stroke="#000" stroke-width="0.12" font-family="Liberation Sans, sans-serif">T.cells.CD4.memory.resting</text>
<text transform="translate(600.88,149.78) scale(1,1.04)" font-size="6.1" fill="#000" stroke="#000" stroke-width="0.12" font-family="Liberation Sans, sans-serif">T.cells.CD4.memory.activated</text>
<text transform="translate(600.88,157.89) scale(1,1.04)" font-size="6.1" fill="#000" stroke="#000" stroke-width="0.12" font-family="Liberation Sans, sans-serif">T.cells.follicular.helper</text>
<text transform="translate(600.88,165.99) scale(1,1.04)" font-size="6.1" fill="#000" stroke="#000" stroke-width="0.12" font-family="Liberation Sans, sans-serif">T.cells.regulatory..Tregs.</text>
<text transform="translate(600.88,174.10) scale(1,1.04)" font-size="6.1" fill="#000" stroke="#000" stroke-width="0.12" font-family="Liberation Sans, sans-serif">T.cells.gamma.delta</text>
<text transform="translate(600.88,182.20) scale(1,1.04)" font-size="6.1" fill="#000" stroke="#000" stroke-width="0.12" font-family="Liberation Sans, sans-serif">NK.cells.resting</text>
<text transform="translate(600.88,190.31) scale(1,1.04)" font-size="6.1" fill="#000" stroke="#000" stroke-width="0.12" font-family="Liberation Sans, sans-serif">NK.cells.activated</text>
<text transform="translate(600.88,198.41) scale(1,1.04)" font-size="6.1" fill="#000" stroke="#000" stroke-width="0.12" font-family="Liberation Sans, sans-serif">Monocytes</text>
<text transform="translate(600.88,206.52) scale(1,1.04)" font-size="6.1" fill="#000" stroke="#000" stroke-width="0.12" font-family="Liberation Sans, sans-serif">Macrophages.M0</text>
<text transform="translate(600.88,214.62) scale(1,1.04)" font-size="6.1" fill="#000" stroke="#000" stroke-width="0.12" font-family="Liberation Sans, sans-serif">Macrophages.M1</text>
<text transform="translate(600.88,222.73) scale(1,1.04)" font-size="6.1" fill="#000" stroke="#000" stroke-width="0.12" font-family="Liberation Sans, sans-serif">Macrophages.M2</text>
<text transform="translate(600.88,230.83) scale(1,1.04)" font-size="6.1" fill="#000" stroke="#000" stroke-width="0.12" font-family="Liberation Sans, sans-serif">Dendritic.cells.resting</text>
<text transform="translate(600.88,238.94) scale(1,1.04)" font-size="6.1" fill="#000" stroke="#000" stroke-width="0.12" font-family="Liberation Sans, sans-serif">Dendritic.cells.activated</text>
<text transform="translate(600.88,247.04) scale(1,1.04)" font-size="6.1" fill="#000" stroke="#000" stroke-width="0.12" font-family="Liberation Sans, sans-serif">Mast.cells.resting</text>
<text transform="translate(600.88,255.15) scale(1,1.04)" font-size="6.1" fill="#000" stroke="#000" stroke-width="0.12" font-family="Liberation Sans, sans-serif">Mast.cells.activated</text>
<text transform="translate(600.88,263.25) scale(1,1.04)" font-size="6.1" fill="#000" stroke="#000" stroke-width="0.12" font-family="Liberation Sans, sans-serif">Eosinophils</text>
<text transform="translate(600.88,271.36) scale(1,1.04)" font-size="6.1" fill="#000" stroke="#000" stroke-width="0.12" font-family="Liberation Sans, sans-serif">Neutrophils</text>
<text transform="translate(431.05,91.10) scale(1,1.04) rotate(-45)" font-size="6.3" fill="#111" font-family="Liberation Sans, sans-serif">B.cells.naive</text>
<text transform="translate(438.82,91.10) scale(1,1.04) rotate(-45)" font-size="6.3" fill="#111" font-family="Liberation Sans, sans-serif">B.cells.memory</text>
<text transform="translate(446.58,91.10) scale(1,1.04) rotate(-45)" font-size="6.3" fill="#111" font-family="Liberation Sans, sans-serif">Plasma.cells</text>
<text transform="translate(454.34,91.10) scale(1,1.04) rotate(-45)" font-size="6.3" fill="#111" font-family="Liberation Sans, sans-serif">T.cells.CD8</text>
<text transform="translate(462.11,91.10) scale(1,1.04) rotate(-45)" font-size="6.3" fill="#111" font-family="Liberation Sans, sans-serif">T.cells.CD4.naive</text>
<text transform="translate(469.87,91.10) scale(1,1.04) rotate(-45)" font-size="6.3" fill="#111" font-family="Liberation Sans, sans-serif">T.cells.CD4.memory.resting</text>
<text transform="translate(477.64,91.10) scale(1,1.04) rotate(-45)" font-size="6.3" fill="#111" font-family="Liberation Sans, sans-serif">T.cells.CD4.memory.activated</text>
<text transform="translate(485.40,91.10) scale(1,1.04) rotate(-45)" font-size="6.3" fill="#111" font-family="Liberation Sans, sans-serif">T.cells.follicular.helper</text>
<text transform="translate(493.16,91.10) scale(1,1.04) rotate(-45)" font-size="6.3" fill="#111" font-family="Liberation Sans, sans-serif">T.cells.regulatory..Tregs.</text>
<text transform="translate(500.93,91.10) scale(1,1.04) rotate(-45)" font-size="6.3" fill="#111" font-family="Liberation Sans, sans-serif">T.cells.gamma.delta</text>
<text transform="translate(508.69,91.10) scale(1,1.04) rotate(-45)" font-size="6.3" fill="#111" font-family="Liberation Sans, sans-serif">NK.cells.resting</text>
<text transform="translate(516.46,91.10) scale(1,1.04) rotate(-45)" font-size="6.3" fill="#111" font-family="Liberation Sans, sans-serif">NK.cells.activated</text>
<text transform="translate(524.22,91.10) scale(1,1.04) rotate(-45)" font-size="6.3" fill="#111" font-family="Liberation Sans, sans-serif">Monocytes</text>
<text transform="translate(531.98,91.10) scale(1,1.04) rotate(-45)" font-size="6.3" fill="#111" font-family="Liberation Sans, sans-serif">Macrophages.M0</text>
<text transform="translate(539.75,91.10) scale(1,1.04) rotate(-45)" font-size="6.3" fill="#111" font-family="Liberation Sans, sans-serif">Macrophages.M1</text>
<text transform="translate(547.51,91.10) scale(1,1.04) rotate(-45)" font-size="6.3" fill="#111" font-family="Liberation Sans, sans-serif">Macrophages.M2</text>
<text transform="translate(555.28,91.10) scale(1,1.04) rotate(-45)" font-size="6.3" fill="#111" font-family="Liberation Sans, sans-serif">Dendritic.cells.resting</text>
<text transform="translate(563.04,91.10) scale(1,1.04) rotate(-45)" font-size="6.3" fill="#111" font-family="Liberation Sans, sans-serif">Dendritic.cells.activated</text>
<text transform="translate(570.80,91.10) scale(1,1.04) rotate(-45)" font-size="6.3" fill="#111" font-family="Liberation Sans, sans-serif">Mast.cells.resting</text>
<text transform="translate(578.57,91.10) scale(1,1.04) rotate(-45)" font-size="6.3" fill="#111" font-family="Liberation Sans, sans-serif">Mast.cells.activated</text>
<text transform="translate(586.33,91.10) scale(1,1.04) rotate(-45)" font-size="6.3" fill="#111" font-family="Liberation Sans, sans-serif">Eosinophils</text>
<text transform="translate(594.10,91.10) scale(1,1.04) rotate(-45)" font-size="6.3" fill="#111" font-family="Liberation Sans, sans-serif">Neutrophils</text>
<text x="691.00" y="116.00" font-size="6.3" fill="#111" font-family="Liberation Sans, sans-serif">P.value</text>
<rect x="691.00" y="119.10" width="9.3" height="29.5" fill="#F2F2F2"/>
<rect x="691.80" y="122.65" width="8" height="3.5" fill="#3D5D9C"/>
<text x="703.40" y="126.40" font-size="5.1" fill="#222" font-family="Liberation Sans, sans-serif">&lt; 0.01</text>
<rect x="691.80" y="132.80" width="8" height="3.5" fill="#E5434C"/>
<text x="703.40" y="136.55" font-size="5.1" fill="#222" font-family="Liberation Sans, sans-serif">0.01 ~ 0.05</text>
<rect x="691.80" y="142.95" width="8" height="3.5" fill="#C8C8C8"/>
<text x="703.40" y="146.70" font-size="5.1" fill="#222" font-family="Liberation Sans, sans-serif">&gt;= 0.05</text>
<text x="691.00" y="167.90" font-size="6.4" fill="#111" font-family="Liberation Sans, sans-serif">Correlation</text>
<rect x="691.00" y="171.40" width="9.3" height="29.7" fill="#F2F2F2"/>
<line x1="691.50" x2="699.80" y1="176.50" y2="176.50" stroke="#4A4A4A" stroke-width="0.6"/>
<text x="703.40" y="178.30" font-size="5.1" fill="#222" font-family="Liberation Sans, sans-serif">&lt; 0.19</text>
<line x1="691.50" x2="699.80" y1="186.50" y2="186.50" stroke="#4A4A4A" stroke-width="1.15"/>
<text x="703.40" y="188.30" font-size="5.1" fill="#222" font-family="Liberation Sans, sans-serif">0.19 ~ 0.36</text>
<line x1="691.50" x2="699.80" y1="196.50" y2="196.50" stroke="#4A4A4A" stroke-width="2.1"/>
<text x="703.40" y="198.30" font-size="5.1" fill="#222" font-family="Liberation Sans, sans-serif">&gt;= 0.36</text>
<text x="691.00" y="220.40" font-size="6.4" fill="#111" font-family="Liberation Sans, sans-serif">Pearson's R</text>
<defs><linearGradient id="gRNF13" x1="0" y1="0" x2="0" y2="1"><stop offset="0" stop-color="#E5535B"/><stop offset="0.667" stop-color="#ffffff"/><stop offset="1" stop-color="#96A8D0"/></linearGradient></defs>
<rect x="691.00" y="223.40" width="9.4" height="34" fill="url(#gRNF13)"/>
<text x="703.40" y="226.20" font-size="5.1" fill="#222" font-family="Liberation Sans, sans-serif">1.0</text>
<text x="703.40" y="236.85" font-size="5.1" fill="#222" font-family="Liberation Sans, sans-serif">0.5</text>
<text x="703.40" y="247.50" font-size="5.1" fill="#222" font-family="Liberation Sans, sans-serif">0.0</text>
<text x="703.40" y="258.15" font-size="5.1" fill="#222" font-family="Liberation Sans, sans-serif">−0.5</text>
<line x1="83.97" y1="508.97" x2="49.10" y2="388.97" stroke="#EE4049" stroke-width="1.3"/>
<line x1="83.97" y1="508.97" x2="56.87" y2="397.02" stroke="#C6C6C6" stroke-width="0.6"/>
<line x1="83.97" y1="508.97" x2="64.64" y2="405.06" stroke="#4262A5" stroke-width="2.55"/>
<line x1="83.97" y1="508.97" x2="72.41" y2="413.11" stroke="#4262A5" stroke-width="2.55"/>
<line x1="83.97" y1="508.97" x2="80.18" y2="421.15" stroke="#C6C6C6" stroke-width="0.6"/>
<line x1="83.97" y1="508.97" x2="87.95" y2="429.20" stroke="#EE4049" stroke-width="1.3"/>
<line x1="83.97" y1="508.97" x2="95.72" y2="437.24" stroke="#4262A5" stroke-width="1.45"/>
<line x1="83.97" y1="508.97" x2="103.49" y2="445.29" stroke="#4262A5" stroke-width="1.45"/>
<line x1="83.97" y1="508.97" x2="111.26" y2="453.33" stroke="#C6C6C6" stroke-width="0.6"/>
<line x1="83.97" y1="508.97" x2="119.03" y2="461.38" stroke="#C6C6C6" stroke-width="0.6"/>
<line x1="83.97" y1="508.97" x2="126.80" y2="469.42" stroke="#C6C6C6" stroke-width="0.6"/>
<line x1="83.97" y1="508.97" x2="134.57" y2="477.47" stroke="#C6C6C6" stroke-width="0.6"/>
<line x1="83.97" y1="508.97" x2="142.34" y2="485.51" stroke="#C6C6C6" stroke-width="0.6"/>
<line x1="83.97" y1="508.97" x2="150.11" y2="493.56" stroke="#4262A5" stroke-width="2.55"/>
<line x1="83.97" y1="508.97" x2="157.88" y2="501.60" stroke="#EE4049" stroke-width="1.3"/>
<line x1="83.97" y1="508.97" x2="165.65" y2="509.65" stroke="#4262A5" stroke-width="1.45"/>
<line x1="83.97" y1="508.97" x2="173.42" y2="517.69" stroke="#C6C6C6" stroke-width="0.6"/>
<line x1="83.97" y1="508.97" x2="181.19" y2="525.74" stroke="#C6C6C6" stroke-width="0.6"/>
<line x1="83.97" y1="508.97" x2="188.96" y2="533.78" stroke="#4262A5" stroke-width="2.55"/>
<line x1="83.97" y1="508.97" x2="196.73" y2="541.83" stroke="#C6C6C6" stroke-width="0.6"/>
<line x1="83.97" y1="508.97" x2="204.50" y2="549.87" stroke="#C6C6C6" stroke-width="0.6"/>
<line x1="83.97" y1="508.97" x2="212.27" y2="557.92" stroke="#4262A5" stroke-width="2.55"/>
<rect x="60.77" y="384.95" width="7.77" height="8.04" fill="#fff" stroke="#C2C2C2" stroke-width="0.7"/>
<rect x="68.54" y="384.95" width="7.77" height="8.04" fill="#fff" stroke="#C2C2C2" stroke-width="0.7"/>
<rect x="76.31" y="384.95" width="7.77" height="8.04" fill="#fff" stroke="#C2C2C2" stroke-width="0.7"/>
<rect x="84.08" y="384.95" width="7.77" height="8.04" fill="#fff" stroke="#C2C2C2" stroke-width="0.7"/>
<rect x="91.85" y="384.95" width="7.77" height="8.04" fill="#fff" stroke="#C2C2C2" stroke-width="0.7"/>
<rect x="99.62" y="384.95" width="7.77" height="8.04" fill="#fff" stroke="#C2C2C2" stroke-width="0.7"/>
<rect x="107.39" y="384.95" width="7.77" height="8.04" fill="#fff" stroke="#C2C2C2" stroke-width="0.7"/>
<rect x="115.16" y="384.95" width="7.77" height="8.04" fill="#fff" stroke="#C2C2C2" stroke-width="0.7"/>
<rect x="122.93" y="384.95" width="7.77" height="8.04" fill="#fff" stroke="#C2C2C2" stroke-width="0.7"/>
<rect x="130.70" y="384.95" width="7.77" height="8.04" fill="#fff" stroke="#C2C2C2" stroke-width="0.7"/>
<rect x="138.47" y="384.95" width="7.77" height="8.04" fill="#fff" stroke="#C2C2C2" stroke-width="0.7"/>
<rect x="146.24" y="384.95" width="7.77" height="8.04" fill="#fff" stroke="#C2C2C2" stroke-width="0.7"/>
<rect x="154.01" y="384.95" width="7.77" height="8.04" fill="#fff" stroke="#C2C2C2" stroke-width="0.7"/>
<rect x="161.78" y="384.95" width="7.77" height="8.04" fill="#fff" stroke="#C2C2C2" stroke-width="0.7"/>
<rect x="169.55" y="384.95" width="7.77" height="8.04" fill="#fff" stroke="#C2C2C2" stroke-width="0.7"/>
<rect x="177.32" y="384.95" width="7.77" height="8.04" fill="#fff" stroke="#C2C2C2" stroke-width="0.7"/>
<rect x="185.09" y="384.95" width="7.77" height="8.04" fill="#fff" stroke="#C2C2C2" stroke-width="0.7"/>
<rect x="192.86" y="384.95" width="7.77" height="8.04" fill="#fff" stroke="#C2C2C2" stroke-width="0.7"/>
<rect x="200.63" y="384.95" width="7.77" height="8.04" fill="#fff" stroke="#C2C2C2" stroke-width="0.7"/>
<rect x="208.40" y="384.95" width="7.77" height="8.04" fill="#fff" stroke="#C2C2C2" stroke-width="0.7"/>
<rect x="216.17" y="384.95" width="7.77" height="8.04" fill="#fff" stroke="#C2C2C2" stroke-width="0.7"/>
<rect x="68.54" y="393.00" width="7.77" height="8.04" fill="#fff" stroke="#C2C2C2" stroke-width="0.7"/>
<rect x="76.31" y="393.00" width="7.77" height="8.04" fill="#fff" stroke="#C2C2C2" stroke-width="0.7"/>
<rect x="84.08" y="393.00" width="7.77" height="8.04" fill="#fff" stroke="#C2C2C2" stroke-width="0.7"/>
<rect x="91.85" y="393.00" width="7.77" height="8.04" fill="#fff" stroke="#C2C2C2" stroke-width="0.7"/>
<rect x="99.62" y="393.00" width="7.77" height="8.04" fill="#fff" stroke="#C2C2C2" stroke-width="0.7"/>
<rect x="107.39" y="393.00" width="7.77" height="8.04" fill="#fff" stroke="#C2C2C2" stroke-width="0.7"/>
<rect x="115.16" y="393.00" width="7.77" height="8.04" fill="#fff" stroke="#C2C2C2" stroke-width="0.7"/>
<rect x="122.93" y="393.00" width="7.77" height="8.04" fill="#fff" stroke="#C2C2C2" stroke-width="0.7"/>
<rect x="130.70" y="393.00" width="7.77" height="8.04" fill="#fff" stroke="#C2C2C2" stroke-width="0.7"/>
<rect x="138.47" y="393.00" width="7.77" height="8.04" fill="#fff" stroke="#C2C2C2" stroke-width="0.7"/>
<rect x="146.24" y="393.00" width="7.77" height="8.04" fill="#fff" stroke="#C2C2C2" stroke-width="0.7"/>
<rect x="154.01" y="393.00" width="7.77" height="8.04" fill="#fff" stroke="#C2C2C2" stroke-width="0.7"/>
<rect x="161.78" y="393.00" width="7.77" height="8.04" fill="#fff" stroke="#C2C2C2" stroke-width="0.7"/>
<rect x="169.55" y="393.00" width="7.77" height="8.04" fill="#fff" stroke="#C2C2C2" stroke-width="0.7"/>
<rect x="177.32" y="393.00" width="7.77" height="8.04" fill="#fff" stroke="#C2C2C2" stroke-width="0.7"/>
<rect x="185.09" y="393.00" width="7.77" height="8.04" fill="#fff" stroke="#C2C2C2" stroke-width="0.7"/>
<rect x="192.86" y="393.00" width="7.77" height="8.04" fill="#fff" stroke="#C2C2C2" stroke-width="0.7"/>
<rect x="200.63" y="393.00" width="7.77" height="8.04" fill="#fff" stroke="#C2C2C2" stroke-width="0.7"/>
<rect x="208.40" y="393.00" width="7.77" height="8.04" fill="#fff" stroke="#C2C2C2" stroke-width="0.7"/>
<rect x="216.17" y="393.00" width="7.77" height="8.04" fill="#fff" stroke="#C2C2C2" stroke-width="0.7"/>
<rect x="76.31" y="401.04" width="7.77" height="8.04" fill="#fff" stroke="#C2C2C2" stroke-width="0.7"/>
<rect x="84.08" y="401.04" width="7.77" height="8.04" fill="#fff" stroke="#C2C2C2" stroke-width="0.7"/>
<rect x="91.85" y="401.04" width="7.77" height="8.04" fill="#fff" stroke="#C2C2C2" stroke-width="0.7"/>
<rect x="99.62" y="401.04" width="7.77" height="8.04" fill="#fff" stroke="#C2C2C2" stroke-width="0.7"/>
<rect x="107.39" y="401.04" width="7.77" height="8.04" fill="#fff" stroke="#C2C2C2" stroke-width="0.7"/>
<rect x="115.16" y="401.04" width="7.77" height="8.04" fill="#fff" stroke="#C2C2C2" stroke-width="0.7"/>
<rect x="122.93" y="401.04" width="7.77" height="8.04" fill="#fff" stroke="#C2C2C2" stroke-width="0.7"/>
<rect x="130.70" y="401.04" width="7.77" height="8.04" fill="#fff" stroke="#C2C2C2" stroke-width="0.7"/>
<rect x="138.47" y="401.04" width="7.77" height="8.04" fill="#fff" stroke="#C2C2C2" stroke-width="0.7"/>
<rect x="146.24" y="401.04" width="7.77" height="8.04" fill="#fff" stroke="#C2C2C2" stroke-width="0.7"/>
<rect x="154.01" y="401.04" width="7.77" height="8.04" fill="#fff" stroke="#C2C2C2" stroke-width="0.7"/>
<rect x="161.78" y="401.04" width="7.77" height="8.04" fill="#fff" stroke="#C2C2C2" stroke-width="0.7"/>
<rect x="169.55" y="401.04" width="7.77" height="8.04" fill="#fff" stroke="#C2C2C2" stroke-width="0.7"/>
<rect x="177.32" y="401.04" width="7.77" height="8.04" fill="#fff" stroke="#C2C2C2" stroke-width="0.7"/>
<rect x="185.09" y="401.04" width="7.77" height="8.04" fill="#fff" stroke="#C2C2C2" stroke-width="0.7"/>
<rect x="192.86" y="401.04" width="7.77" height="8.04" fill="#fff" stroke="#C2C2C2" stroke-width="0.7"/>
<rect x="200.63" y="401.04" width="7.77" height="8.04" fill="#fff" stroke="#C2C2C2" stroke-width="0.7"/>
<rect x="208.40" y="401.04" width="7.77" height="8.04" fill="#fff" stroke="#C2C2C2" stroke-width="0.7"/>
<rect x="216.17" y="401.04" width="7.77" height="8.04" fill="#fff" stroke="#C2C2C2" stroke-width="0.7"/>
<rect x="84.08" y="409.08" width="7.77" height="8.04" fill="#fff" stroke="#C2C2C2" stroke-width="0.7"/>
<rect x="91.85" y="409.08" width="7.77" height="8.04" fill="#fff" stroke="#C2C2C2" stroke-width="0.7"/>
<rect x="99.62" y="409.08" width="7.77" height="8.04" fill="#fff" stroke="#C2C2C2" stroke-width="0.7"/>
<rect x="107.39" y="409.08" width="7.77" height="8.04" fill="#fff" stroke="#C2C2C2" stroke-width="0.7"/>
<rect x="115.16" y="409.08" width="7.77" height="8.04" fill="#fff" stroke="#C2C2C2" stroke-width="0.7"/>
<rect x="122.93" y="409.08" width="7.77" height="8.04" fill="#fff" stroke="#C2C2C2" stroke-width="0.7"/>
<rect x="130.70" y="409.08" width="7.77" height="8.04" fill="#fff" stroke="#C2C2C2" stroke-width="0.7"/>
<rect x="138.47" y="409.08" width="7.77" height="8.04" fill="#fff" stroke="#C2C2C2" stroke-width="0.7"/>
<rect x="146.24" y="409.08" width="7.77" height="8.04" fill="#fff" stroke="#C2C2C2" stroke-width="0.7"/>
<rect x="154.01" y="409.08" width="7.77" height="8.04" fill="#fff" stroke="#C2C2C2" stroke-width="0.7"/>
<rect x="161.78" y="409.08" width="7.77" height="8.04" fill="#fff" stroke="#C2C2C2" stroke-width="0.7"/>
<rect x="169.55" y="409.08" width="7.77" height="8.04" fill="#fff" stroke="#C2C2C2" stroke-width="0.7"/>
<rect x="177.32" y="409.08" width="7.77" height="8.04" fill="#fff" stroke="#C2C2C2" stroke-width="0.7"/>
<rect x="185.09" y="409.08" width="7.77" height="8.04" fill="#fff" stroke="#C2C2C2" stroke-width="0.7"/>
<rect x="192.86" y="409.08" width="7.77" height="8.04" fill="#fff" stroke="#C2C2C2" stroke-width="0.7"/>
<rect x="200.63" y="409.08" width="7.77" height="8.04" fill="#fff" stroke="#C2C2C2" stroke-width="0.7"/>
<rect x="208.40" y="409.08" width="7.77" height="8.04" fill="#fff" stroke="#C2C2C2" stroke-width="0.7"/>
<rect x="216.17" y="409.08" width="7.77" height="8.04" fill="#fff" stroke="#C2C2C2" stroke-width="0.7"/>
<rect x="91.85" y="417.13" width="7.77" height="8.04" fill="#fff" stroke="#C2C2C2" stroke-width="0.7"/>
<rect x="99.62" y="417.13" width="7.77" height="8.04" fill="#fff" stroke="#C2C2C2" stroke-width="0.7"/>
<rect x="107.39" y="417.13" width="7.77" height="8.04" fill="#fff" stroke="#C2C2C2" stroke-width="0.7"/>
<rect x="115.16" y="417.13" width="7.77" height="8.04" fill="#fff" stroke="#C2C2C2" stroke-width="0.7"/>
<rect x="122.93" y="417.13" width="7.77" height="8.04" fill="#fff" stroke="#C2C2C2" stroke-width="0.7"/>
<rect x="130.70" y="417.13" width="7.77" height="8.04" fill="#fff" stroke="#C2C2C2" stroke-width="0.7"/>
<rect x="138.47" y="417.13" width="7.77" height="8.04" fill="#fff" stroke="#C2C2C2" stroke-width="0.7"/>
<rect x="146.24" y="417.13" width="7.77" height="8.04" fill="#fff" stroke="#C2C2C2" stroke-width="0.7"/>
<rect x="154.01" y="417.13" width="7.77" height="8.04" fill="#fff" stroke="#C2C2C2" stroke-width="0.7"/>
<rect x="161.78" y="417.13" width="7.77" height="8.04" fill="#fff" stroke="#C2C2C2" stroke-width="0.7"/>
<rect x="169.55" y="417.13" width="7.77" height="8.04" fill="#fff" stroke="#C2C2C2" stroke-width="0.7"/>
<rect x="177.32" y="417.13" width="7.77" height="8.04" fill="#fff" stroke="#C2C2C2" stroke-width="0.7"/>
<rect x="185.09" y="417.13" width="7.77" height="8.04" fill="#fff" stroke="#C2C2C2" stroke-width="0.7"/>
<rect x="192.86" y="417.13" width="7.77" height="8.04" fill="#fff" stroke="#C2C2C2" stroke-width="0.7"/>
<rect x="200.63" y="417.13" width="7.77" height="8.04" fill="#fff" stroke="#C2C2C2" stroke-width="0.7"/>
<rect x="208.40" y="417.13" width="7.77" height="8.04" fill="#fff" stroke="#C2C2C2" stroke-width="0.7"/>
<rect x="216.17" y="417.13" width="7.77" height="8.04" fill="#fff" stroke="#C2C2C2" stroke-width="0.7"/>
<rect x="99.62" y="425.18" width="7.77" height="8.04" fill="#fff" stroke="#C2C2C2" stroke-width="0.7"/>
<rect x="107.39" y="425.18" width="7.77" height="8.04" fill="#fff" stroke="#C2C2C2" stroke-width="0.7"/>
<rect x="115.16" y="425.18" width="7.77" height="8.04" fill="#fff" stroke="#C2C2C2" stroke-width="0.7"/>
<rect x="122.93" y="425.18" width="7.77" height="8.04" fill="#fff" stroke="#C2C2C2" stroke-width="0.7"/>
<rect x="130.70" y="425.18" width="7.77" height="8.04" fill="#fff" stroke="#C2C2C2" stroke-width="0.7"/>
<rect x="138.47" y="425.18" width="7.77" height="8.04" fill="#fff" stroke="#C2C2C2" stroke-width="0.7"/>
<rect x="146.24" y="425.18" width="7.77" height="8.04" fill="#fff" stroke="#C2C2C2" stroke-width="0.7"/>
<rect x="154.01" y="425.18" width="7.77" height="8.04" fill="#fff" stroke="#C2C2C2" stroke-width="0.7"/>
<rect x="161.78" y="425.18" width="7.77" height="8.04" fill="#fff" stroke="#C2C2C2" stroke-width="0.7"/>
<rect x="169.55" y="425.18" width="7.77" height="8.04" fill="#fff" stroke="#C2C2C2" stroke-width="0.7"/>
<rect x="177.32" y="425.18" width="7.77" height="8.04" fill="#fff" stroke="#C2C2C2" stroke-width="0.7"/>
<rect x="185.09" y="425.18" width="7.77" height="8.04" fill="#fff" stroke="#C2C2C2" stroke-width="0.7"/>
<rect x="192.86" y="425.18" width="7.77" height="8.04" fill="#fff" stroke="#C2C2C2" stroke-width="0.7"/>
<rect x="200.63" y="425.18" width="7.77" height="8.04" fill="#fff" stroke="#C2C2C2" stroke-width="0.7"/>
<rect x="208.40" y="425.18" width="7.77" height="8.04" fill="#fff" stroke="#C2C2C2" stroke-width="0.7"/>
<rect x="216.17" y="425.18" width="7.77" height="8.04" fill="#fff" stroke="#C2C2C2" stroke-width="0.7"/>
<rect x="107.39" y="433.22" width="7.77" height="8.04" fill="#fff" stroke="#C2C2C2" stroke-width="0.7"/>
<rect x="115.16" y="433.22" width="7.77" height="8.04" fill="#fff" stroke="#C2C2C2" stroke-width="0.7"/>
<rect x="122.93" y="433.22" width="7.77" height="8.04" fill="#fff" stroke="#C2C2C2" stroke-width="0.7"/>
<rect x="130.70" y="433.22" width="7.77" height="8.04" fill="#fff" stroke="#C2C2C2" stroke-width="0.7"/>
<rect x="138.47" y="433.22" width="7.77" height="8.04" fill="#fff" stroke="#C2C2C2" stroke-width="0.7"/>
<rect x="146.24" y="433.22" width="7.77" height="8.04" fill="#fff" stroke="#C2C2C2" stroke-width="0.7"/>
<rect x="154.01" y="433.22" width="7.77" height="8.04" fill="#fff" stroke="#C2C2C2" stroke-width="0.7"/>
<rect x="161.78" y="433.22" width="7.77" height="8.04" fill="#fff" stroke="#C2C2C2" stroke-width="0.7"/>
<rect x="169.55" y="433.22" width="7.77" height="8.04" fill="#fff" stroke="#C2C2C2" stroke-width="0.7"/>
<rect x="177.32" y="433.22" width="7.77" height="8.04" fill="#fff" stroke="#C2C2C2" stroke-width="0.7"/>
<rect x="185.09" y="433.22" width="7.77" height="8.04" fill="#fff" stroke="#C2C2C2" stroke-width="0.7"/>
<rect x="192.86" y="433.22" width="7.77" height="8.04" fill="#fff" stroke="#C2C2C2" stroke-width="0.7"/>
<rect x="200.63" y="433.22" width="7.77" height="8.04" fill="#fff" stroke="#C2C2C2" stroke-width="0.7"/>
<rect x="208.40" y="433.22" width="7.77" height="8.04" fill="#fff" stroke="#C2C2C2" stroke-width="0.7"/>
<rect x="216.17" y="433.22" width="7.77" height="8.04" fill="#fff" stroke="#C2C2C2" stroke-width="0.7"/>
<rect x="115.16" y="441.26" width="7.77" height="8.04" fill="#fff" stroke="#C2C2C2" stroke-width="0.7"/>
<rect x="122.93" y="441.26" width="7.77" height="8.04" fill="#fff" stroke="#C2C2C2" stroke-width="0.7"/>
<rect x="130.70" y="441.26" width="7.77" height="8.04" fill="#fff" stroke="#C2C2C2" stroke-width="0.7"/>
<rect x="138.47" y="441.26" width="7.77" height="8.04" fill="#fff" stroke="#C2C2C2" stroke-width="0.7"/>
<rect x="146.24" y="441.26" width="7.77" height="8.04" fill="#fff" stroke="#C2C2C2" stroke-width="0.7"/>
<rect x="154.01" y="441.26" width="7.77" height="8.04" fill="#fff" stroke="#C2C2C2" stroke-width="0.7"/>
<rect x="161.78" y="441.26" width="7.77" height="8.04" fill="#fff" stroke="#C2C2C2" stroke-width="0.7"/>
<rect x="169.55" y="441.26" width="7.77" height="8.04" fill="#fff" stroke="#C2C2C2" stroke-width="0.7"/>
<rect x="177.32" y="441.26" width="7.77" height="8.04" fill="#fff" stroke="#C2C2C2" stroke-width="0.7"/>
<rect x="185.09" y="441.26" width="7.77" height="8.04" fill="#fff" stroke="#C2C2C2" stroke-width="0.7"/>
<rect x="192.86" y="441.26" width="7.77" height="8.04" fill="#fff" stroke="#C2C2C2" stroke-width="0.7"/>
<rect x="200.63" y="441.26" width="7.77" height="8.04" fill="#fff" stroke="#C2C2C2" stroke-width="0.7"/>
<rect x="208.40" y="441.26" width="7.77" height="8.04" fill="#fff" stroke="#C2C2C2" stroke-width="0.7"/>
<rect x="216.17" y="441.26" width="7.77" height="8.04" fill="#fff" stroke="#C2C2C2" stroke-width="0.7"/>
<rect x="122.93" y="449.31" width="7.77" height="8.04" fill="#fff" stroke="#C2C2C2" stroke-width="0.7"/>
<rect x="130.70" y="449.31" width="7.77" height="8.04" fill="#fff" stroke="#C2C2C2" stroke-width="0.7"/>
<rect x="138.47" y="449.31" width="7.77" height="8.04" fill="#fff" stroke="#C2C2C2" stroke-width="0.7"/>
<rect x="146.24" y="449.31" width="7.77" height="8.04" fill="#fff" stroke="#C2C2C2" stroke-width="0.7"/>
<rect x="154.01" y="449.31" width="7.77" height="8.04" fill="#fff" stroke="#C2C2C2" stroke-width="0.7"/>
<rect x="161.78" y="449.31" width="7.77" height="8.04" fill="#fff" stroke="#C2C2C2" stroke-width="0.7"/>
<rect x="169.55" y="449.31" width="7.77" height="8.04" fill="#fff" stroke="#C2C2C2" stroke-width="0.7"/>
<rect x="177.32" y="449.31" width="7.77" height="8.04" fill="#fff" stroke="#C2C2C2" stroke-width="0.7"/>
<rect x="185.09" y="449.31" width="7.77" height="8.04" fill="#fff" stroke="#C2C2C2" stroke-width="0.7"/>
<rect x="192.86" y="449.31" width="7.77" height="8.04" fill="#fff" stroke="#C2C2C2" stroke-width="0.7"/>
<rect x="200.63" y="449.31" width="7.77" height="8.04" fill="#fff" stroke="#C2C2C2" stroke-width="0.7"/>
<rect x="208.40" y="449.31" width="7.77" height="8.04" fill="#fff" stroke="#C2C2C2" stroke-width="0.7"/>
<rect x="216.17" y="449.31" width="7.77" height="8.04" fill="#fff" stroke="#C2C2C2" stroke-width="0.7"/>
<rect x="130.70" y="457.36" width="7.77" height="8.04" fill="#fff" stroke="#C2C2C2" stroke-width="0.7"/>
<rect x="138.47" y="457.36" width="7.77" height="8.04" fill="#fff" stroke="#C2C2C2" stroke-width="0.7"/>
<rect x="146.24" y="457.36" width="7.77" height="8.04" fill="#fff" stroke="#C2C2C2" stroke-width="0.7"/>
<rect x="154.01" y="457.36" width="7.77" height="8.04" fill="#fff" stroke="#C2C2C2" stroke-width="0.7"/>
<rect x="161.78" y="457.36" width="7.77" height="8.04" fill="#fff" stroke="#C2C2C2" stroke-width="0.7"/>
<rect x="169.55" y="457.36" width="7.77" height="8.04" fill="#fff" stroke="#C2C2C2" stroke-width="0.7"/>
<rect x="177.32" y="457.36" width="7.77" height="8.04" fill="#fff" stroke="#C2C2C2" stroke-width="0.7"/>
<rect x="185.09" y="457.36" width="7.77" height="8.04" fill="#fff" stroke="#C2C2C2" stroke-width="0.7"/>
<rect x="192.86" y="457.36" width="7.77" height="8.04" fill="#fff" stroke="#C2C2C2" stroke-width="0.7"/>
<rect x="200.63" y="457.36" width="7.77" height="8.04" fill="#fff" stroke="#C2C2C2" stroke-width="0.7"/>
<rect x="208.40" y="457.36" width="7.77" height="8.04" fill="#fff" stroke="#C2C2C2" stroke-width="0.7"/>
<rect x="216.17" y="457.36" width="7.77" height="8.04" fill="#fff" stroke="#C2C2C2" stroke-width="0.7"/>
<rect x="138.47" y="465.40" width="7.77" height="8.04" fill="#fff" stroke="#C2C2C2" stroke-width="0.7"/>
<rect x="146.24" y="465.40" width="7.77" height="8.04" fill="#fff" stroke="#C2C2C2" stroke-width="0.7"/>
<rect x="154.01" y="465.40" width="7.77" height="8.04" fill="#fff" stroke="#C2C2C2" stroke-width="0.7"/>
<rect x="161.78" y="465.40" width="7.77" height="8.04" fill="#fff" stroke="#C2C2C2" stroke-width="0.7"/>
<rect x="169.55" y="465.40" width="7.77" height="8.04" fill="#fff" stroke="#C2C2C2" stroke-width="0.7"/>
<rect x="177.32" y="465.40" width="7.77" height="8.04" fill="#fff" stroke="#C2C2C2" stroke-width="0.7"/>
<rect x="185.09" y="465.40" width="7.77" height="8.04" fill="#fff" stroke="#C2C2C2" stroke-width="0.7"/>
<rect x="192.86" y="465.40" width="7.77" height="8.04" fill="#fff" stroke="#C2C2C2" stroke-width="0.7"/>
<rect x="200.63" y="465.40" width="7.77" height="8.04" fill="#fff" stroke="#C2C2C2" stroke-width="0.7"/>
<rect x="208.40" y="465.40" width="7.77" height="8.04" fill="#fff" stroke="#C2C2C2" stroke-width="0.7"/>
<rect x="216.17" y="465.40" width="7.77" height="8.04" fill="#fff" stroke="#C2C2C2" stroke-width="0.7"/>
<rect x="146.24" y="473.44" width="7.77" height="8.04" fill="#fff" stroke="#C2C2C2" stroke-width="0.7"/>
<rect x="154.01" y="473.44" width="7.77" height="8.04" fill="#fff" stroke="#C2C2C2" stroke-width="0.7"/>
<rect x="161.78" y="473.44" width="7.77" height="8.04" fill="#fff" stroke="#C2C2C2" stroke-width="0.7"/>
<rect x="169.55" y="473.44" width="7.77" height="8.04" fill="#fff" stroke="#C2C2C2" stroke-width="0.7"/>
<rect x="177.32" y="473.44" width="7.77" height="8.04" fill="#fff" stroke="#C2C2C2" stroke-width="0.7"/>
<rect x="185.09" y="473.44" width="7.77" height="8.04" fill="#fff" stroke="#C2C2C2" stroke-width="0.7"/>
<rect x="192.86" y="473.44" width="7.77" height="8.04" fill="#fff" stroke="#C2C2C2" stroke-width="0.7"/>
<rect x="200.63" y="473.44" width="7.77" height="8.04" fill="#fff" stroke="#C2C2C2" stroke-width="0.7"/>
<rect x="208.40" y="473.44" width="7.77" height="8.04" fill="#fff" stroke="#C2C2C2" stroke-width="0.7"/>
<rect x="216.17" y="473.44" width="7.77" height="8.04" fill="#fff" stroke="#C2C2C2" stroke-width="0.7"/>
<rect x="154.01" y="481.49" width="7.77" height="8.04" fill="#fff" stroke="#C2C2C2" stroke-width="0.7"/>
<rect x="161.78" y="481.49" width="7.77" height="8.04" fill="#fff" stroke="#C2C2C2" stroke-width="0.7"/>
<rect x="169.55" y="481.49" width="7.77" height="8.04" fill="#fff" stroke="#C2C2C2" stroke-width="0.7"/>
<rect x="177.32" y="481.49" width="7.77" height="8.04" fill="#fff" stroke="#C2C2C2" stroke-width="0.7"/>
<rect x="185.09" y="481.49" width="7.77" height="8.04" fill="#fff" stroke="#C2C2C2" stroke-width="0.7"/>
<rect x="192.86" y="481.49" width="7.77" height="8.04" fill="#fff" stroke="#C2C2C2" stroke-width="0.7"/>
<rect x="200.63" y="481.49" width="7.77" height="8.04" fill="#fff" stroke="#C2C2C2" stroke-width="0.7"/>
<rect x="208.40" y="481.49" width="7.77" height="8.04" fill="#fff" stroke="#C2C2C2" stroke-width="0.7"/>
<rect x="216.17" y="481.49" width="7.77" height="8.04" fill="#fff" stroke="#C2C2C2" stroke-width="0.7"/>
<rect x="161.78" y="489.53" width="7.77" height="8.04" fill="#fff" stroke="#C2C2C2" stroke-width="0.7"/>
<rect x="169.55" y="489.53" width="7.77" height="8.04" fill="#fff" stroke="#C2C2C2" stroke-width="0.7"/>
<rect x="177.32" y="489.53" width="7.77" height="8.04" fill="#fff" stroke="#C2C2C2" stroke-width="0.7"/>
<rect x="185.09" y="489.53" width="7.77" height="8.04" fill="#fff" stroke="#C2C2C2" stroke-width="0.7"/>
<rect x="192.86" y="489.53" width="7.77" height="8.04" fill="#fff" stroke="#C2C2C2" stroke-width="0.7"/>
<rect x="200.63" y="489.53" width="7.77" height="8.04" fill="#fff" stroke="#C2C2C2" stroke-width="0.7"/>
<rect x="208.40" y="489.53" width="7.77" height="8.04" fill="#fff" stroke="#C2C2C2" stroke-width="0.7"/>
<rect x="216.17" y="489.53" width="7.77" height="8.04" fill="#fff" stroke="#C2C2C2" stroke-width="0.7"/>
<rect x="169.55" y="497.58" width="7.77" height="8.04" fill="#fff" stroke="#C2C2C2" stroke-width="0.7"/>
<rect x="177.32" y="497.58" width="7.77" height="8.04" fill="#fff" stroke="#C2C2C2" stroke-width="0.7"/>
<rect x="185.09" y="497.58" width="7.77" height="8.04" fill="#fff" stroke="#C2C2C2" stroke-width="0.7"/>
<rect x="192.86" y="497.58" width="7.77" height="8.04" fill="#fff" stroke="#C2C2C2" stroke-width="0.7"/>
<rect x="200.63" y="497.58" width="7.77" height="8.04" fill="#fff" stroke="#C2C2C2" stroke-width="0.7"/>
<rect x="208.40" y="497.58" width="7.77" height="8.04" fill="#fff" stroke="#C2C2C2" stroke-width="0.7"/>
<rect x="216.17" y="497.58" width="7.77" height="8.04" fill="#fff" stroke="#C2C2C2" stroke-width="0.7"/>
<rect x="177.32" y="505.62" width="7.77" height="8.04" fill="#fff" stroke="#C2C2C2" stroke-width="0.7"/>
<rect x="185.09" y="505.62" width="7.77" height="8.04" fill="#fff" stroke="#C2C2C2" stroke-width="0.7"/>
<rect x="192.86" y="505.62" width="7.77" height="8.04" fill="#fff" stroke="#C2C2C2" stroke-width="0.7"/>
<rect x="200.63" y="505.62" width="7.77" height="8.04" fill="#fff" stroke="#C2C2C2" stroke-width="0.7"/>
<rect x="208.40" y="505.62" width="7.77" height="8.04" fill="#fff" stroke="#C2C2C2" stroke-width="0.7"/>
<rect x="216.17" y="505.62" width="7.77" height="8.04" fill="#fff" stroke="#C2C2C2" stroke-width="0.7"/>
<rect x="185.09" y="513.67" width="7.77" height="8.04" fill="#fff" stroke="#C2C2C2" stroke-width="0.7"/>
<rect x="192.86" y="513.67" width="7.77" height="8.04" fill="#fff" stroke="#C2C2C2" stroke-width="0.7"/>
<rect x="200.63" y="513.67" width="7.77" height="8.04" fill="#fff" stroke="#C2C2C2" stroke-width="0.7"/>
<rect x="208.40" y="513.67" width="7.77" height="8.04" fill="#fff" stroke="#C2C2C2" stroke-width="0.7"/>
<rect x="216.17" y="513.67" width="7.77" height="8.04" fill="#fff" stroke="#C2C2C2" stroke-width="0.7"/>
<rect x="192.86" y="521.71" width="7.77" height="8.04" fill="#fff" stroke="#C2C2C2" stroke-width="0.7"/>
<rect x="200.63" y="521.71" width="7.77" height="8.04" fill="#fff" stroke="#C2C2C2" stroke-width="0.7"/>
<rect x="208.40" y="521.71" width="7.77" height="8.04" fill="#fff" stroke="#C2C2C2" stroke-width="0.7"/>
<rect x="216.17" y="521.71" width="7.77" height="8.04" fill="#fff" stroke="#C2C2C2" stroke-width="0.7"/>
<rect x="200.63" y="529.76" width="7.77" height="8.04" fill="#fff" stroke="#C2C2C2" stroke-width="0.7"/>
<rect x="208.40" y="529.76" width="7.77" height="8.04" fill="#fff" stroke="#C2C2C2" stroke-width="0.7"/>
<rect x="216.17" y="529.76" width="7.77" height="8.04" fill="#fff" stroke="#C2C2C2" stroke-width="0.7"/>
<rect x="208.40" y="537.80" width="7.77" height="8.04" fill="#fff" stroke="#C2C2C2" stroke-width="0.7"/>
<rect x="216.17" y="537.80" width="7.77" height="8.04" fill="#fff" stroke="#C2C2C2" stroke-width="0.7"/>
<rect x="216.17" y="545.85" width="7.77" height="8.04" fill="#fff" stroke="#C2C2C2" stroke-width="0.7"/>
<rect x="62.87" y="387.12" width="3.57" height="3.70" fill="#c9cfe3" stroke="#858585" stroke-width="0.5"/>
<rect x="70.64" y="387.12" width="3.57" height="3.70" fill="#f8c4c7" stroke="#858585" stroke-width="0.5"/>
<rect x="78.94" y="387.68" width="2.50" height="2.59" fill="#fbe2e3" stroke="#858585" stroke-width="0.5"/>
<rect x="86.89" y="387.86" width="2.14" height="2.22" fill="#ffffff" stroke="#858585" stroke-width="0.5"/>
<rect x="94.66" y="387.86" width="2.14" height="2.22" fill="#ffffff" stroke="#858585" stroke-width="0.5"/>
<rect x="101.54" y="386.94" width="3.93" height="4.07" fill="#f6b8bb" stroke="#858585" stroke-width="0.5"/>
<rect x="110.20" y="387.86" width="2.14" height="2.22" fill="#ffffff" stroke="#858585" stroke-width="0.5"/>
<rect x="117.79" y="387.68" width="2.50" height="2.59" fill="#fbe2e3" stroke="#858585" stroke-width="0.5"/>
<rect x="125.74" y="387.86" width="2.14" height="2.22" fill="#ffffff" stroke="#858585" stroke-width="0.5"/>
<rect x="134.23" y="388.60" width="0.71" height="0.74" fill="#ffffff" stroke="#858585" stroke-width="0.5"/>
<rect x="140.57" y="387.12" width="3.57" height="3.70" fill="#c9cfe3" stroke="#858585" stroke-width="0.5"/>
<rect x="148.87" y="387.68" width="2.50" height="2.59" fill="#ffffff" stroke="#858585" stroke-width="0.5"/>
<rect x="156.29" y="387.31" width="3.22" height="3.33" fill="#d3d8e8" stroke="#858585" stroke-width="0.5"/>
<rect x="164.06" y="387.31" width="3.22" height="3.33" fill="#d3d8e8" stroke="#858585" stroke-width="0.5"/>
<rect x="171.47" y="386.94" width="3.93" height="4.07" fill="#bdc5dd" stroke="#858585" stroke-width="0.5"/>
<rect x="179.60" y="387.31" width="3.22" height="3.33" fill="#f9cfd1" stroke="#858585" stroke-width="0.5"/>
<rect x="187.55" y="387.49" width="2.86" height="2.96" fill="#fad9db" stroke="#858585" stroke-width="0.5"/>
<rect x="194.96" y="387.12" width="3.57" height="3.70" fill="#c9cfe3" stroke="#858585" stroke-width="0.5"/>
<rect x="203.44" y="387.86" width="2.14" height="2.22" fill="#ffffff" stroke="#858585" stroke-width="0.5"/>
<rect x="211.03" y="387.68" width="2.50" height="2.59" fill="#ffffff" stroke="#858585" stroke-width="0.5"/>
<rect x="218.27" y="387.12" width="3.57" height="3.70" fill="#c9cfe3" stroke="#858585" stroke-width="0.5"/>
<rect x="70.82" y="395.35" width="3.22" height="3.33" fill="#f9cfd1" stroke="#858585" stroke-width="0.5"/>
<rect x="78.59" y="395.35" width="3.22" height="3.33" fill="#d3d8e8" stroke="#858585" stroke-width="0.5"/>
<rect x="86.71" y="395.72" width="2.50" height="2.59" fill="#ffffff" stroke="#858585" stroke-width="0.5"/>
<rect x="95.38" y="396.65" width="0.71" height="0.74" fill="#ffffff" stroke="#858585" stroke-width="0.5"/>
<rect x="102.61" y="396.09" width="1.79" height="1.85" fill="#ffffff" stroke="#858585" stroke-width="0.5"/>
<rect x="110.56" y="396.28" width="1.43" height="1.48" fill="#ffffff" stroke="#858585" stroke-width="0.5"/>
<rect x="117.44" y="395.35" width="3.22" height="3.33" fill="#d3d8e8" stroke="#858585" stroke-width="0.5"/>
<rect x="125.56" y="395.72" width="2.50" height="2.59" fill="#fbe2e3" stroke="#858585" stroke-width="0.5"/>
<rect x="133.16" y="395.54" width="2.86" height="2.96" fill="#fad9db" stroke="#858585" stroke-width="0.5"/>
<rect x="140.75" y="395.35" width="3.22" height="3.33" fill="#d3d8e8" stroke="#858585" stroke-width="0.5"/>
<rect x="148.87" y="395.72" width="2.50" height="2.59" fill="#ffffff" stroke="#858585" stroke-width="0.5"/>
<rect x="156.11" y="395.17" width="3.57" height="3.70" fill="#c9cfe3" stroke="#858585" stroke-width="0.5"/>
<rect x="164.59" y="395.91" width="2.14" height="2.22" fill="#ffffff" stroke="#858585" stroke-width="0.5"/>
<rect x="173.15" y="396.72" width="0.57" height="0.59" fill="#ffffff" stroke="#858585" stroke-width="0.5"/>
<rect x="180.85" y="396.65" width="0.71" height="0.74" fill="#ffffff" stroke="#858585" stroke-width="0.5"/>
<rect x="187.90" y="395.91" width="2.14" height="2.22" fill="#ffffff" stroke="#858585" stroke-width="0.5"/>
<rect x="195.67" y="395.91" width="2.14" height="2.22" fill="#ffffff" stroke="#858585" stroke-width="0.5"/>
<rect x="203.98" y="396.46" width="1.07" height="1.11" fill="#ffffff" stroke="#858585" stroke-width="0.5"/>
<rect x="211.21" y="395.91" width="2.14" height="2.22" fill="#ffffff" stroke="#858585" stroke-width="0.5"/>
<rect x="219.16" y="396.09" width="1.79" height="1.85" fill="#ffffff" stroke="#858585" stroke-width="0.5"/>
<rect x="78.05" y="402.84" width="4.29" height="4.44" fill="#f4aaae" stroke="#858585" stroke-width="0.5"/>
<rect x="86.89" y="403.95" width="2.14" height="2.22" fill="#ffffff" stroke="#858585" stroke-width="0.5"/>
<rect x="94.66" y="403.95" width="2.14" height="2.22" fill="#ffffff" stroke="#858585" stroke-width="0.5"/>
<rect x="101.54" y="403.03" width="3.93" height="4.07" fill="#f6b8bb" stroke="#858585" stroke-width="0.5"/>
<rect x="109.49" y="403.21" width="3.57" height="3.70" fill="#f8c4c7" stroke="#858585" stroke-width="0.5"/>
<rect x="117.44" y="403.40" width="3.22" height="3.33" fill="#f9cfd1" stroke="#858585" stroke-width="0.5"/>
<rect x="125.21" y="403.40" width="3.22" height="3.33" fill="#d3d8e8" stroke="#858585" stroke-width="0.5"/>
<rect x="133.51" y="403.95" width="2.14" height="2.22" fill="#ffffff" stroke="#858585" stroke-width="0.5"/>
<rect x="140.75" y="403.40" width="3.22" height="3.33" fill="#d3d8e8" stroke="#858585" stroke-width="0.5"/>
<rect x="148.70" y="403.58" width="2.86" height="2.96" fill="#ffffff" stroke="#858585" stroke-width="0.5"/>
<rect x="155.75" y="402.84" width="4.29" height="4.44" fill="#b1bad7" stroke="#858585" stroke-width="0.5"/>
<rect x="164.41" y="403.77" width="2.50" height="2.59" fill="#ffffff" stroke="#858585" stroke-width="0.5"/>
<rect x="171.11" y="402.66" width="4.65" height="4.81" fill="#a3aed0" stroke="#858585" stroke-width="0.5"/>
<rect x="180.31" y="404.14" width="1.79" height="1.85" fill="#ffffff" stroke="#858585" stroke-width="0.5"/>
<rect x="187.19" y="403.21" width="3.57" height="3.70" fill="#c9cfe3" stroke="#858585" stroke-width="0.5"/>
<rect x="194.42" y="402.66" width="4.65" height="4.81" fill="#a3aed0" stroke="#858585" stroke-width="0.5"/>
<rect x="202.91" y="403.40" width="3.22" height="3.33" fill="#d3d8e8" stroke="#858585" stroke-width="0.5"/>
<rect x="211.21" y="403.95" width="2.14" height="2.22" fill="#ffffff" stroke="#858585" stroke-width="0.5"/>
<rect x="217.55" y="402.47" width="5.00" height="5.18" fill="#9ca8cc" stroke="#858585" stroke-width="0.5"/>
<rect x="86.00" y="411.07" width="3.93" height="4.07" fill="#bdc5dd" stroke="#858585" stroke-width="0.5"/>
<rect x="93.77" y="411.07" width="3.93" height="4.07" fill="#bdc5dd" stroke="#858585" stroke-width="0.5"/>
<rect x="101.36" y="410.89" width="4.29" height="4.44" fill="#f4aaae" stroke="#858585" stroke-width="0.5"/>
<rect x="110.38" y="412.18" width="1.79" height="1.85" fill="#ffffff" stroke="#858585" stroke-width="0.5"/>
<rect x="118.76" y="412.81" width="0.57" height="0.59" fill="#ffffff" stroke="#858585" stroke-width="0.5"/>
<rect x="125.21" y="411.44" width="3.22" height="3.33" fill="#d3d8e8" stroke="#858585" stroke-width="0.5"/>
<rect x="133.51" y="412.00" width="2.14" height="2.22" fill="#ffffff" stroke="#858585" stroke-width="0.5"/>
<rect x="141.93" y="412.66" width="0.86" height="0.89" fill="#ffffff" stroke="#858585" stroke-width="0.5"/>
<rect x="148.87" y="411.81" width="2.50" height="2.59" fill="#ffffff" stroke="#858585" stroke-width="0.5"/>
<rect x="156.11" y="411.26" width="3.57" height="3.70" fill="#c9cfe3" stroke="#858585" stroke-width="0.5"/>
<rect x="163.88" y="411.26" width="3.57" height="3.70" fill="#c9cfe3" stroke="#858585" stroke-width="0.5"/>
<rect x="171.65" y="411.26" width="3.57" height="3.70" fill="#c9cfe3" stroke="#858585" stroke-width="0.5"/>
<rect x="180.85" y="412.74" width="0.71" height="0.74" fill="#ffffff" stroke="#858585" stroke-width="0.5"/>
<rect x="187.72" y="411.81" width="2.50" height="2.59" fill="#ffffff" stroke="#858585" stroke-width="0.5"/>
<rect x="194.78" y="411.07" width="3.93" height="4.07" fill="#bdc5dd" stroke="#858585" stroke-width="0.5"/>
<rect x="202.91" y="411.44" width="3.22" height="3.33" fill="#d3d8e8" stroke="#858585" stroke-width="0.5"/>
<rect x="211.57" y="412.37" width="1.43" height="1.48" fill="#ffffff" stroke="#858585" stroke-width="0.5"/>
<rect x="217.91" y="410.89" width="4.29" height="4.44" fill="#b1bad7" stroke="#858585" stroke-width="0.5"/>
<rect x="93.95" y="419.30" width="3.57" height="3.70" fill="#c9cfe3" stroke="#858585" stroke-width="0.5"/>
<rect x="103.15" y="420.78" width="0.71" height="0.74" fill="#ffffff" stroke="#858585" stroke-width="0.5"/>
<rect x="109.31" y="419.12" width="3.93" height="4.07" fill="#bdc5dd" stroke="#858585" stroke-width="0.5"/>
<rect x="117.62" y="419.67" width="2.86" height="2.96" fill="#fad9db" stroke="#858585" stroke-width="0.5"/>
<rect x="125.56" y="419.86" width="2.50" height="2.59" fill="#ffffff" stroke="#858585" stroke-width="0.5"/>
<rect x="133.33" y="419.86" width="2.50" height="2.59" fill="#fbe2e3" stroke="#858585" stroke-width="0.5"/>
<rect x="140.75" y="419.49" width="3.22" height="3.33" fill="#d3d8e8" stroke="#858585" stroke-width="0.5"/>
<rect x="148.16" y="419.12" width="3.93" height="4.07" fill="#f6b8bb" stroke="#858585" stroke-width="0.5"/>
<rect x="155.93" y="419.12" width="3.93" height="4.07" fill="#f6b8bb" stroke="#858585" stroke-width="0.5"/>
<rect x="163.52" y="418.93" width="4.29" height="4.44" fill="#f4aaae" stroke="#858585" stroke-width="0.5"/>
<rect x="172.90" y="420.60" width="1.07" height="1.11" fill="#ffffff" stroke="#858585" stroke-width="0.5"/>
<rect x="179.95" y="419.86" width="2.50" height="2.59" fill="#ffffff" stroke="#858585" stroke-width="0.5"/>
<rect x="187.37" y="419.49" width="3.22" height="3.33" fill="#d3d8e8" stroke="#858585" stroke-width="0.5"/>
<rect x="195.67" y="420.04" width="2.14" height="2.22" fill="#fceaeb" stroke="#858585" stroke-width="0.5"/>
<rect x="203.80" y="420.41" width="1.43" height="1.48" fill="#ffffff" stroke="#858585" stroke-width="0.5"/>
<rect x="210.86" y="419.67" width="2.86" height="2.96" fill="#dce0ed" stroke="#858585" stroke-width="0.5"/>
<rect x="218.80" y="419.86" width="2.50" height="2.59" fill="#ffffff" stroke="#858585" stroke-width="0.5"/>
<rect x="101.90" y="427.53" width="3.22" height="3.33" fill="#d3d8e8" stroke="#858585" stroke-width="0.5"/>
<rect x="109.85" y="427.72" width="2.86" height="2.96" fill="#fad9db" stroke="#858585" stroke-width="0.5"/>
<rect x="117.44" y="427.53" width="3.22" height="3.33" fill="#f9cfd1" stroke="#858585" stroke-width="0.5"/>
<rect x="125.92" y="428.27" width="1.79" height="1.85" fill="#ffffff" stroke="#858585" stroke-width="0.5"/>
<rect x="133.16" y="427.72" width="2.86" height="2.96" fill="#dce0ed" stroke="#858585" stroke-width="0.5"/>
<rect x="142.00" y="428.83" width="0.71" height="0.74" fill="#ffffff" stroke="#858585" stroke-width="0.5"/>
<rect x="149.05" y="428.09" width="2.14" height="2.22" fill="#ffffff" stroke="#858585" stroke-width="0.5"/>
<rect x="156.29" y="427.53" width="3.22" height="3.33" fill="#d3d8e8" stroke="#858585" stroke-width="0.5"/>
<rect x="165.13" y="428.64" width="1.07" height="1.11" fill="#ffffff" stroke="#858585" stroke-width="0.5"/>
<rect x="172.72" y="428.46" width="1.43" height="1.48" fill="#ffffff" stroke="#858585" stroke-width="0.5"/>
<rect x="180.31" y="428.27" width="1.79" height="1.85" fill="#ffffff" stroke="#858585" stroke-width="0.5"/>
<rect x="187.55" y="427.72" width="2.86" height="2.96" fill="#fad9db" stroke="#858585" stroke-width="0.5"/>
<rect x="195.85" y="428.27" width="1.79" height="1.85" fill="#ffffff" stroke="#858585" stroke-width="0.5"/>
<rect x="203.26" y="427.90" width="2.50" height="2.59" fill="#fbe2e3" stroke="#858585" stroke-width="0.5"/>
<rect x="211.93" y="428.83" width="0.71" height="0.74" fill="#ffffff" stroke="#858585" stroke-width="0.5"/>
<rect x="218.98" y="428.09" width="2.14" height="2.22" fill="#ffffff" stroke="#858585" stroke-width="0.5"/>
<rect x="109.67" y="435.58" width="3.22" height="3.33" fill="#d3d8e8" stroke="#858585" stroke-width="0.5"/>
<rect x="118.69" y="436.87" width="0.71" height="0.74" fill="#ffffff" stroke="#858585" stroke-width="0.5"/>
<rect x="125.21" y="435.58" width="3.22" height="3.33" fill="#d3d8e8" stroke="#858585" stroke-width="0.5"/>
<rect x="132.62" y="435.21" width="3.93" height="4.07" fill="#f6b8bb" stroke="#858585" stroke-width="0.5"/>
<rect x="141.46" y="436.32" width="1.79" height="1.85" fill="#ffffff" stroke="#858585" stroke-width="0.5"/>
<rect x="148.87" y="435.95" width="2.50" height="2.59" fill="#ffffff" stroke="#858585" stroke-width="0.5"/>
<rect x="156.29" y="435.58" width="3.22" height="3.33" fill="#d3d8e8" stroke="#858585" stroke-width="0.5"/>
<rect x="164.41" y="435.95" width="2.50" height="2.59" fill="#ffffff" stroke="#858585" stroke-width="0.5"/>
<rect x="171.47" y="435.21" width="3.93" height="4.07" fill="#bdc5dd" stroke="#858585" stroke-width="0.5"/>
<rect x="180.49" y="436.50" width="1.43" height="1.48" fill="#ffffff" stroke="#858585" stroke-width="0.5"/>
<rect x="187.19" y="435.39" width="3.57" height="3.70" fill="#c9cfe3" stroke="#858585" stroke-width="0.5"/>
<rect x="194.96" y="435.39" width="3.57" height="3.70" fill="#c9cfe3" stroke="#858585" stroke-width="0.5"/>
<rect x="203.26" y="435.95" width="2.50" height="2.59" fill="#ffffff" stroke="#858585" stroke-width="0.5"/>
<rect x="211.93" y="436.87" width="0.71" height="0.74" fill="#ffffff" stroke="#858585" stroke-width="0.5"/>
<rect x="218.27" y="435.39" width="3.57" height="3.70" fill="#c9cfe3" stroke="#858585" stroke-width="0.5"/>
<rect x="117.79" y="443.99" width="2.50" height="2.59" fill="#ffffff" stroke="#858585" stroke-width="0.5"/>
<rect x="126.10" y="444.55" width="1.43" height="1.48" fill="#ffffff" stroke="#858585" stroke-width="0.5"/>
<rect x="133.16" y="443.81" width="2.86" height="2.96" fill="#dce0ed" stroke="#858585" stroke-width="0.5"/>
<rect x="140.57" y="443.44" width="3.57" height="3.70" fill="#f8c4c7" stroke="#858585" stroke-width="0.5"/>
<rect x="148.52" y="443.62" width="3.22" height="3.33" fill="#d3d8e8" stroke="#858585" stroke-width="0.5"/>
<rect x="155.93" y="443.25" width="3.93" height="4.07" fill="#bdc5dd" stroke="#858585" stroke-width="0.5"/>
<rect x="163.88" y="443.44" width="3.57" height="3.70" fill="#c9cfe3" stroke="#858585" stroke-width="0.5"/>
<rect x="172.54" y="444.36" width="1.79" height="1.85" fill="#ffffff" stroke="#858585" stroke-width="0.5"/>
<rect x="180.31" y="444.36" width="1.79" height="1.85" fill="#ffffff" stroke="#858585" stroke-width="0.5"/>
<rect x="187.37" y="443.62" width="3.22" height="3.33" fill="#f9cfd1" stroke="#858585" stroke-width="0.5"/>
<rect x="194.78" y="443.25" width="3.93" height="4.07" fill="#bdc5dd" stroke="#858585" stroke-width="0.5"/>
<rect x="203.26" y="443.99" width="2.50" height="2.59" fill="#fbe2e3" stroke="#858585" stroke-width="0.5"/>
<rect x="210.68" y="443.62" width="3.22" height="3.33" fill="#f9cfd1" stroke="#858585" stroke-width="0.5"/>
<rect x="218.45" y="443.62" width="3.22" height="3.33" fill="#d3d8e8" stroke="#858585" stroke-width="0.5"/>
<rect x="126.28" y="452.78" width="1.07" height="1.11" fill="#ffffff" stroke="#858585" stroke-width="0.5"/>
<rect x="132.98" y="451.67" width="3.22" height="3.33" fill="#f9cfd1" stroke="#858585" stroke-width="0.5"/>
<rect x="140.57" y="451.48" width="3.57" height="3.70" fill="#c9cfe3" stroke="#858585" stroke-width="0.5"/>
<rect x="148.87" y="452.04" width="2.50" height="2.59" fill="#ffffff" stroke="#858585" stroke-width="0.5"/>
<rect x="156.47" y="451.85" width="2.86" height="2.96" fill="#dce0ed" stroke="#858585" stroke-width="0.5"/>
<rect x="164.41" y="452.04" width="2.50" height="2.59" fill="#fbe2e3" stroke="#858585" stroke-width="0.5"/>
<rect x="171.65" y="451.48" width="3.57" height="3.70" fill="#c9cfe3" stroke="#858585" stroke-width="0.5"/>
<rect x="179.78" y="451.85" width="2.86" height="2.96" fill="#fad9db" stroke="#858585" stroke-width="0.5"/>
<rect x="188.62" y="452.96" width="0.71" height="0.74" fill="#ffffff" stroke="#858585" stroke-width="0.5"/>
<rect x="195.14" y="451.67" width="3.22" height="3.33" fill="#d3d8e8" stroke="#858585" stroke-width="0.5"/>
<rect x="203.62" y="452.41" width="1.79" height="1.85" fill="#ffffff" stroke="#858585" stroke-width="0.5"/>
<rect x="211.39" y="452.41" width="1.79" height="1.85" fill="#ffffff" stroke="#858585" stroke-width="0.5"/>
<rect x="218.27" y="451.48" width="3.57" height="3.70" fill="#c9cfe3" stroke="#858585" stroke-width="0.5"/>
<rect x="132.80" y="459.53" width="3.57" height="3.70" fill="#c9cfe3" stroke="#858585" stroke-width="0.5"/>
<rect x="140.93" y="459.90" width="2.86" height="2.96" fill="#fad9db" stroke="#858585" stroke-width="0.5"/>
<rect x="149.05" y="460.27" width="2.14" height="2.22" fill="#ffffff" stroke="#858585" stroke-width="0.5"/>
<rect x="156.82" y="460.27" width="2.14" height="2.22" fill="#ffffff" stroke="#858585" stroke-width="0.5"/>
<rect x="164.06" y="459.71" width="3.22" height="3.33" fill="#d3d8e8" stroke="#858585" stroke-width="0.5"/>
<rect x="172.54" y="460.45" width="1.79" height="1.85" fill="#ffffff" stroke="#858585" stroke-width="0.5"/>
<rect x="179.95" y="460.08" width="2.50" height="2.59" fill="#fbe2e3" stroke="#858585" stroke-width="0.5"/>
<rect x="187.37" y="459.71" width="3.22" height="3.33" fill="#f9cfd1" stroke="#858585" stroke-width="0.5"/>
<rect x="195.85" y="460.45" width="1.79" height="1.85" fill="#ffffff" stroke="#858585" stroke-width="0.5"/>
<rect x="203.62" y="460.45" width="1.79" height="1.85" fill="#ffffff" stroke="#858585" stroke-width="0.5"/>
<rect x="211.75" y="460.82" width="1.07" height="1.11" fill="#ffffff" stroke="#858585" stroke-width="0.5"/>
<rect x="218.80" y="460.08" width="2.50" height="2.59" fill="#fbe2e3" stroke="#858585" stroke-width="0.5"/>
<rect x="140.57" y="467.57" width="3.57" height="3.70" fill="#c9cfe3" stroke="#858585" stroke-width="0.5"/>
<rect x="149.77" y="469.05" width="0.71" height="0.74" fill="#ffffff" stroke="#858585" stroke-width="0.5"/>
<rect x="157.00" y="468.50" width="1.79" height="1.85" fill="#ffffff" stroke="#858585" stroke-width="0.5"/>
<rect x="164.41" y="468.13" width="2.50" height="2.59" fill="#ffffff" stroke="#858585" stroke-width="0.5"/>
<rect x="171.83" y="467.76" width="3.22" height="3.33" fill="#d3d8e8" stroke="#858585" stroke-width="0.5"/>
<rect x="180.92" y="469.13" width="0.57" height="0.59" fill="#ffffff" stroke="#858585" stroke-width="0.5"/>
<rect x="187.72" y="468.13" width="2.50" height="2.59" fill="#ffffff" stroke="#858585" stroke-width="0.5"/>
<rect x="195.67" y="468.31" width="2.14" height="2.22" fill="#ffffff" stroke="#858585" stroke-width="0.5"/>
<rect x="202.91" y="467.76" width="3.22" height="3.33" fill="#f9cfd1" stroke="#858585" stroke-width="0.5"/>
<rect x="211.39" y="468.50" width="1.79" height="1.85" fill="#ffffff" stroke="#858585" stroke-width="0.5"/>
<rect x="218.45" y="467.76" width="3.22" height="3.33" fill="#d3d8e8" stroke="#858585" stroke-width="0.5"/>
<rect x="149.70" y="477.02" width="0.86" height="0.89" fill="#ffffff" stroke="#858585" stroke-width="0.5"/>
<rect x="156.64" y="476.17" width="2.50" height="2.59" fill="#ffffff" stroke="#858585" stroke-width="0.5"/>
<rect x="164.41" y="476.17" width="2.50" height="2.59" fill="#ffffff" stroke="#858585" stroke-width="0.5"/>
<rect x="172.72" y="476.73" width="1.43" height="1.48" fill="#ffffff" stroke="#858585" stroke-width="0.5"/>
<rect x="180.49" y="476.73" width="1.43" height="1.48" fill="#ffffff" stroke="#858585" stroke-width="0.5"/>
<rect x="187.37" y="475.80" width="3.22" height="3.33" fill="#f9cfd1" stroke="#858585" stroke-width="0.5"/>
<rect x="195.14" y="475.80" width="3.22" height="3.33" fill="#d3d8e8" stroke="#858585" stroke-width="0.5"/>
<rect x="203.80" y="476.73" width="1.43" height="1.48" fill="#ffffff" stroke="#858585" stroke-width="0.5"/>
<rect x="210.50" y="475.62" width="3.57" height="3.70" fill="#f8c4c7" stroke="#858585" stroke-width="0.5"/>
<rect x="219.34" y="476.73" width="1.43" height="1.48" fill="#ffffff" stroke="#858585" stroke-width="0.5"/>
<rect x="156.47" y="484.03" width="2.86" height="2.96" fill="#fad9db" stroke="#858585" stroke-width="0.5"/>
<rect x="164.06" y="483.85" width="3.22" height="3.33" fill="#f9cfd1" stroke="#858585" stroke-width="0.5"/>
<rect x="172.18" y="484.22" width="2.50" height="2.59" fill="#fbe2e3" stroke="#858585" stroke-width="0.5"/>
<rect x="180.13" y="484.40" width="2.14" height="2.22" fill="#ffffff" stroke="#858585" stroke-width="0.5"/>
<rect x="187.55" y="484.03" width="2.86" height="2.96" fill="#dce0ed" stroke="#858585" stroke-width="0.5"/>
<rect x="195.49" y="484.22" width="2.50" height="2.59" fill="#fbe2e3" stroke="#858585" stroke-width="0.5"/>
<rect x="203.62" y="484.59" width="1.79" height="1.85" fill="#ffffff" stroke="#858585" stroke-width="0.5"/>
<rect x="211.03" y="484.22" width="2.50" height="2.59" fill="#ffffff" stroke="#858585" stroke-width="0.5"/>
<rect x="219.70" y="485.14" width="0.71" height="0.74" fill="#ffffff" stroke="#858585" stroke-width="0.5"/>
<rect x="163.52" y="491.34" width="4.29" height="4.44" fill="#f4aaae" stroke="#858585" stroke-width="0.5"/>
<rect x="171.83" y="491.89" width="3.22" height="3.33" fill="#f9cfd1" stroke="#858585" stroke-width="0.5"/>
<rect x="179.42" y="491.71" width="3.57" height="3.70" fill="#c9cfe3" stroke="#858585" stroke-width="0.5"/>
<rect x="187.19" y="491.71" width="3.57" height="3.70" fill="#c9cfe3" stroke="#858585" stroke-width="0.5"/>
<rect x="194.96" y="491.71" width="3.57" height="3.70" fill="#f8c4c7" stroke="#858585" stroke-width="0.5"/>
<rect x="203.26" y="492.26" width="2.50" height="2.59" fill="#e4e8f1" stroke="#858585" stroke-width="0.5"/>
<rect x="211.03" y="492.26" width="2.50" height="2.59" fill="#ffffff" stroke="#858585" stroke-width="0.5"/>
<rect x="218.09" y="491.52" width="3.93" height="4.07" fill="#f6b8bb" stroke="#858585" stroke-width="0.5"/>
<rect x="173.08" y="501.23" width="0.71" height="0.74" fill="#ffffff" stroke="#858585" stroke-width="0.5"/>
<rect x="180.13" y="500.49" width="2.14" height="2.22" fill="#ffffff" stroke="#858585" stroke-width="0.5"/>
<rect x="186.83" y="499.38" width="4.29" height="4.44" fill="#b1bad7" stroke="#858585" stroke-width="0.5"/>
<rect x="195.49" y="500.31" width="2.50" height="2.59" fill="#fbe2e3" stroke="#858585" stroke-width="0.5"/>
<rect x="203.62" y="500.68" width="1.79" height="1.85" fill="#ffffff" stroke="#858585" stroke-width="0.5"/>
<rect x="210.50" y="499.75" width="3.57" height="3.70" fill="#c9cfe3" stroke="#858585" stroke-width="0.5"/>
<rect x="218.27" y="499.75" width="3.57" height="3.70" fill="#f8c4c7" stroke="#858585" stroke-width="0.5"/>
<rect x="179.42" y="507.80" width="3.57" height="3.70" fill="#c9cfe3" stroke="#858585" stroke-width="0.5"/>
<rect x="188.62" y="509.28" width="0.71" height="0.74" fill="#ffffff" stroke="#858585" stroke-width="0.5"/>
<rect x="194.96" y="507.80" width="3.57" height="3.70" fill="#f8c4c7" stroke="#858585" stroke-width="0.5"/>
<rect x="203.44" y="508.54" width="2.14" height="2.22" fill="#ffffff" stroke="#858585" stroke-width="0.5"/>
<rect x="211.21" y="508.54" width="2.14" height="2.22" fill="#ffffff" stroke="#858585" stroke-width="0.5"/>
<rect x="218.45" y="507.98" width="3.22" height="3.33" fill="#f9cfd1" stroke="#858585" stroke-width="0.5"/>
<rect x="188.44" y="517.14" width="1.07" height="1.11" fill="#ffffff" stroke="#858585" stroke-width="0.5"/>
<rect x="195.14" y="516.03" width="3.22" height="3.33" fill="#d3d8e8" stroke="#858585" stroke-width="0.5"/>
<rect x="202.91" y="516.03" width="3.22" height="3.33" fill="#f9cfd1" stroke="#858585" stroke-width="0.5"/>
<rect x="210.50" y="515.84" width="3.57" height="3.70" fill="#c9cfe3" stroke="#858585" stroke-width="0.5"/>
<rect x="218.80" y="516.40" width="2.50" height="2.59" fill="#ffffff" stroke="#858585" stroke-width="0.5"/>
<rect x="195.14" y="524.07" width="3.22" height="3.33" fill="#d3d8e8" stroke="#858585" stroke-width="0.5"/>
<rect x="203.98" y="525.18" width="1.07" height="1.11" fill="#ffffff" stroke="#858585" stroke-width="0.5"/>
<rect x="210.86" y="524.26" width="2.86" height="2.96" fill="#fad9db" stroke="#858585" stroke-width="0.5"/>
<rect x="219.70" y="525.37" width="0.71" height="0.74" fill="#ffffff" stroke="#858585" stroke-width="0.5"/>
<rect x="202.91" y="532.12" width="3.22" height="3.33" fill="#d3d8e8" stroke="#858585" stroke-width="0.5"/>
<rect x="210.68" y="532.12" width="3.22" height="3.33" fill="#d3d8e8" stroke="#858585" stroke-width="0.5"/>
<rect x="218.63" y="532.30" width="2.86" height="2.96" fill="#fad9db" stroke="#858585" stroke-width="0.5"/>
<rect x="211.03" y="540.53" width="2.50" height="2.59" fill="#ffffff" stroke="#858585" stroke-width="0.5"/>
<rect x="218.98" y="540.72" width="2.14" height="2.22" fill="#ffffff" stroke="#858585" stroke-width="0.5"/>
<rect x="219.70" y="549.50" width="0.71" height="0.74" fill="#ffffff" stroke="#858585" stroke-width="0.5"/>
<rect x="53.00" y="384.95" width="7.77" height="8.04" fill="#E84A52"/>
<rect x="60.77" y="393.00" width="7.77" height="8.04" fill="#E84A52"/>
<rect x="68.54" y="401.04" width="7.77" height="8.04" fill="#E84A52"/>
<rect x="76.31" y="409.08" width="7.77" height="8.04" fill="#E84A52"/>
<rect x="84.08" y="417.13" width="7.77" height="8.04" fill="#E84A52"/>
<rect x="91.85" y="425.18" width="7.77" height="8.04" fill="#E84A52"/>
<rect x="99.62" y="433.22" width="7.77" height="8.04" fill="#E84A52"/>
<rect x="107.39" y="441.26" width="7.77" height="8.04" fill="#E84A52"/>
<rect x="115.16" y="449.31" width="7.77" height="8.04" fill="#E84A52"/>
<rect x="122.93" y="457.36" width="7.77" height="8.04" fill="#E84A52"/>
<rect x="130.70" y="465.40" width="7.77" height="8.04" fill="#E84A52"/>
<rect x="138.47" y="473.44" width="7.77" height="8.04" fill="#E84A52"/>
<rect x="146.24" y="481.49" width="7.77" height="8.04" fill="#E84A52"/>
<rect x="154.01" y="489.53" width="7.77" height="8.04" fill="#E84A52"/>
<rect x="161.78" y="497.58" width="7.77" height="8.04" fill="#E84A52"/>
<rect x="169.55" y="505.62" width="7.77" height="8.04" fill="#E84A52"/>
<rect x="177.32" y="513.67" width="7.77" height="8.04" fill="#E84A52"/>
<rect x="185.09" y="521.71" width="7.77" height="8.04" fill="#E84A52"/>
<rect x="192.86" y="529.76" width="7.77" height="8.04" fill="#E84A52"/>
<rect x="200.63" y="537.80" width="7.77" height="8.04" fill="#E84A52"/>
<rect x="208.40" y="545.85" width="7.77" height="8.04" fill="#E84A52"/>
<rect x="216.17" y="553.89" width="7.77" height="8.04" fill="#E84A52"/>
<circle cx="49.10" cy="388.97" r="1.45" fill="#F50012" stroke="#4A36D8" stroke-width="0.5"/>
<circle cx="56.87" cy="397.02" r="1.45" fill="#F50012" stroke="#4A36D8" stroke-width="0.5"/>
<circle cx="64.64" cy="405.06" r="1.45" fill="#F50012" stroke="#4A36D8" stroke-width="0.5"/>
<circle cx="72.41" cy="413.11" r="1.45" fill="#F50012" stroke="#4A36D8" stroke-width="0.5"/>
<circle cx="80.18" cy="421.15" r="1.45" fill="#F50012" stroke="#4A36D8" stroke-width="0.5"/>
<circle cx="87.95" cy="429.20" r="1.45" fill="#F50012" stroke="#4A36D8" stroke-width="0.5"/>
<circle cx="95.72" cy="437.24" r="1.45" fill="#F50012" stroke="#4A36D8" stroke-width="0.5"/>
<circle cx="103.49" cy="445.29" r="1.45" fill="#F50012" stroke="#4A36D8" stroke-width="0.5"/>
<circle cx="111.26" cy="453.33" r="1.45" fill="#F50012" stroke="#4A36D8" stroke-width="0.5"/>
<circle cx="119.03" cy="461.38" r="1.45" fill="#F50012" stroke="#4A36D8" stroke-width="0.5"/>
<circle cx="126.80" cy="469.42" r="1.45" fill="#F50012" stroke="#4A36D8" stroke-width="0.5"/>
<circle cx="134.57" cy="477.47" r="1.45" fill="#F50012" stroke="#4A36D8" stroke-width="0.5"/>
<circle cx="142.34" cy="485.51" r="1.45" fill="#F50012" stroke="#4A36D8" stroke-width="0.5"/>
<circle cx="150.11" cy="493.56" r="1.45" fill="#F50012" stroke="#4A36D8" stroke-width="0.5"/>
<circle cx="157.88" cy="501.60" r="1.45" fill="#F50012" stroke="#4A36D8" stroke-width="0.5"/>
<circle cx="165.65" cy="509.65" r="1.45" fill="#F50012" stroke="#4A36D8" stroke-width="0.5"/>
<circle cx="173.42" cy="517.69" r="1.45" fill="#F50012" stroke="#4A36D8" stroke-width="0.5"/>
<circle cx="181.19" cy="525.74" r="1.45" fill="#F50012" stroke="#4A36D8" stroke-width="0.5"/>
<circle cx="188.96" cy="533.78" r="1.45" fill="#F50012" stroke="#4A36D8" stroke-width="0.5"/>
<circle cx="196.73" cy="541.83" r="1.45" fill="#F50012" stroke="#4A36D8" stroke-width="0.5"/>
<circle cx="204.50" cy="549.87" r="1.45" fill="#F50012" stroke="#4A36D8" stroke-width="0.5"/>
<circle cx="212.27" cy="557.92" r="1.45" fill="#F50012" stroke="#4A36D8" stroke-width="0.5"/>
<circle cx="83.97" cy="508.97" r="1.45" fill="#F50012" stroke="#4A36D8" stroke-width="0.5"/>
<text transform="translate(83.37,510.97) scale(1,1.04)" font-size="6.0" fill="#111" text-anchor="end" font-family="Liberation Sans, sans-serif">VASP</text>
<text transform="translate(226.94,391.07) scale(1,1.04)" font-size="6.1" fill="#000" stroke="#000" stroke-width="0.12" font-family="Liberation Sans, sans-serif">B.cells.naive</text>
<text transform="translate(226.94,399.12) scale(1,1.04)" font-size="6.1" fill="#000" stroke="#000" stroke-width="0.12" font-family="Liberation Sans, sans-serif">B.cells.memory</text>
<text transform="translate(226.94,407.16) scale(1,1.04)" font-size="6.1" fill="#000" stroke="#000" stroke-width="0.12" font-family="Liberation Sans, sans-serif">Plasma.cells</text>
<text transform="translate(226.94,415.21) scale(1,1.04)" font-size="6.1" fill="#000" stroke="#000" stroke-width="0.12" font-family="Liberation Sans, sans-serif">T.cells.CD8</text>
<text transform="translate(226.94,423.25) scale(1,1.04)" font-size="6.1" fill="#000" stroke="#000" stroke-width="0.12" font-family="Liberation Sans, sans-serif">T.cells.CD4.naive</text>
<text transform="translate(226.94,431.30) scale(1,1.04)" font-size="6.1" fill="#000" stroke="#000" stroke-width="0.12" font-family="Liberation Sans, sans-serif">T.cells.CD4.memory.resting</text>
<text transform="translate(226.94,439.34) scale(1,1.04)" font-size="6.1" fill="#000" stroke="#000" stroke-width="0.12" font-family="Liberation Sans, sans-serif">T.cells.CD4.memory.activated</text>
<text transform="translate(226.94,447.39) scale(1,1.04)" font-size="6.1" fill="#000" stroke="#000" stroke-width="0.12" font-family="Liberation Sans, sans-serif">T.cells.follicular.helper</text>
<text transform="translate(226.94,455.43) scale(1,1.04)" font-size="6.1" fill="#000" stroke="#000" stroke-width="0.12" font-family="Liberation Sans, sans-serif">T.cells.regulatory..Tregs.</text>
<text transform="translate(226.94,463.48) scale(1,1.04)" font-size="6.1" fill="#000" stroke="#000" stroke-width="0.12" font-family="Liberation Sans, sans-serif">T.cells.gamma.delta</text>
<text transform="translate(226.94,471.52) scale(1,1.04)" font-size="6.1" fill="#000" stroke="#000" stroke-width="0.12" font-family="Liberation Sans, sans-serif">NK.cells.resting</text>
<text transform="translate(226.94,479.57) scale(1,1.04)" font-size="6.1" fill="#000" stroke="#000" stroke-width="0.12" font-family="Liberation Sans, sans-serif">NK.cells.activated</text>
<text transform="translate(226.94,487.61) scale(1,1.04)" font-size="6.1" fill="#000" stroke="#000" stroke-width="0.12" font-family="Liberation Sans, sans-serif">Monocytes</text>
<text transform="translate(226.94,495.66) scale(1,1.04)" font-size="6.1" fill="#000" stroke="#000" stroke-width="0.12" font-family="Liberation Sans, sans-serif">Macrophages.M0</text>
<text transform="translate(226.94,503.70) scale(1,1.04)" font-size="6.1" fill="#000" stroke="#000" stroke-width="0.12" font-family="Liberation Sans, sans-serif">Macrophages.M1</text>
<text transform="translate(226.94,511.75) scale(1,1.04)" font-size="6.1" fill="#000" stroke="#000" stroke-width="0.12" font-family="Liberation Sans, sans-serif">Macrophages.M2</text>
<text transform="translate(226.94,519.79) scale(1,1.04)" font-size="6.1" fill="#000" stroke="#000" stroke-width="0.12" font-family="Liberation Sans, sans-serif">Dendritic.cells.resting</text>
<text transform="translate(226.94,527.84) scale(1,1.04)" font-size="6.1" fill="#000" stroke="#000" stroke-width="0.12" font-family="Liberation Sans, sans-serif">Dendritic.cells.activated</text>
<text transform="translate(226.94,535.88) scale(1,1.04)" font-size="6.1" fill="#000" stroke="#000" stroke-width="0.12" font-family="Liberation Sans, sans-serif">Mast.cells.resting</text>
<text transform="translate(226.94,543.93) scale(1,1.04)" font-size="6.1" fill="#000" stroke="#000" stroke-width="0.12" font-family="Liberation Sans, sans-serif">Mast.cells.activated</text>
<text transform="translate(226.94,551.97) scale(1,1.04)" font-size="6.1" fill="#000" stroke="#000" stroke-width="0.12" font-family="Liberation Sans, sans-serif">Eosinophils</text>
<text transform="translate(226.94,560.02) scale(1,1.04)" font-size="6.1" fill="#000" stroke="#000" stroke-width="0.12" font-family="Liberation Sans, sans-serif">Neutrophils</text>
<text transform="translate(56.98,381.55) scale(1,1.04) rotate(-45)" font-size="6.3" fill="#111" font-family="Liberation Sans, sans-serif">B.cells.naive</text>
<text transform="translate(64.75,381.55) scale(1,1.04) rotate(-45)" font-size="6.3" fill="#111" font-family="Liberation Sans, sans-serif">B.cells.memory</text>
<text transform="translate(72.52,381.55) scale(1,1.04) rotate(-45)" font-size="6.3" fill="#111" font-family="Liberation Sans, sans-serif">Plasma.cells</text>
<text transform="translate(80.29,381.55) scale(1,1.04) rotate(-45)" font-size="6.3" fill="#111" font-family="Liberation Sans, sans-serif">T.cells.CD8</text>
<text transform="translate(88.06,381.55) scale(1,1.04) rotate(-45)" font-size="6.3" fill="#111" font-family="Liberation Sans, sans-serif">T.cells.CD4.naive</text>
<text transform="translate(95.83,381.55) scale(1,1.04) rotate(-45)" font-size="6.3" fill="#111" font-family="Liberation Sans, sans-serif">T.cells.CD4.memory.resting</text>
<text transform="translate(103.60,381.55) scale(1,1.04) rotate(-45)" font-size="6.3" fill="#111" font-family="Liberation Sans, sans-serif">T.cells.CD4.memory.activated</text>
<text transform="translate(111.38,381.55) scale(1,1.04) rotate(-45)" font-size="6.3" fill="#111" font-family="Liberation Sans, sans-serif">T.cells.follicular.helper</text>
<text transform="translate(119.14,381.55) scale(1,1.04) rotate(-45)" font-size="6.3" fill="#111" font-family="Liberation Sans, sans-serif">T.cells.regulatory..Tregs.</text>
<text transform="translate(126.91,381.55) scale(1,1.04) rotate(-45)" font-size="6.3" fill="#111" font-family="Liberation Sans, sans-serif">T.cells.gamma.delta</text>
<text transform="translate(134.68,381.55) scale(1,1.04) rotate(-45)" font-size="6.3" fill="#111" font-family="Liberation Sans, sans-serif">NK.cells.resting</text>
<text transform="translate(142.45,381.55) scale(1,1.04) rotate(-45)" font-size="6.3" fill="#111" font-family="Liberation Sans, sans-serif">NK.cells.activated</text>
<text transform="translate(150.22,381.55) scale(1,1.04) rotate(-45)" font-size="6.3" fill="#111" font-family="Liberation Sans, sans-serif">Monocytes</text>
<text transform="translate(157.99,381.55) scale(1,1.04) rotate(-45)" font-size="6.3" fill="#111" font-family="Liberation Sans, sans-serif">Macrophages.M0</text>
<text transform="translate(165.76,381.55) scale(1,1.04) rotate(-45)" font-size="6.3" fill="#111" font-family="Liberation Sans, sans-serif">Macrophages.M1</text>
<text transform="translate(173.53,381.55) scale(1,1.04) rotate(-45)" font-size="6.3" fill="#111" font-family="Liberation Sans, sans-serif">Macrophages.M2</text>
<text transform="translate(181.30,381.55) scale(1,1.04) rotate(-45)" font-size="6.3" fill="#111" font-family="Liberation Sans, sans-serif">Dendritic.cells.resting</text>
<text transform="translate(189.07,381.55) scale(1,1.04) rotate(-45)" font-size="6.3" fill="#111" font-family="Liberation Sans, sans-serif">Dendritic.cells.activated</text>
<text transform="translate(196.84,381.55) scale(1,1.04) rotate(-45)" font-size="6.3" fill="#111" font-family="Liberation Sans, sans-serif">Mast.cells.resting</text>
<text transform="translate(204.61,381.55) scale(1,1.04) rotate(-45)" font-size="6.3" fill="#111" font-family="Liberation Sans, sans-serif">Mast.cells.activated</text>
<text transform="translate(212.38,381.55) scale(1,1.04) rotate(-45)" font-size="6.3" fill="#111" font-family="Liberation Sans, sans-serif">Eosinophils</text>
<text transform="translate(220.15,381.55) scale(1,1.04) rotate(-45)" font-size="6.3" fill="#111" font-family="Liberation Sans, sans-serif">Neutrophils</text>
<text x="316.80" y="405.60" font-size="6.3" fill="#111" font-family="Liberation Sans, sans-serif">P.value</text>
<rect x="316.80" y="408.70" width="9.3" height="29.5" fill="#F2F2F2"/>
<rect x="317.60" y="412.25" width="8" height="3.5" fill="#3D5D9C"/>
<text x="329.20" y="416.00" font-size="5.1" fill="#222" font-family="Liberation Sans, sans-serif">&lt; 0.01</text>
<rect x="317.60" y="422.40" width="8" height="3.5" fill="#E5434C"/>
<text x="329.20" y="426.15" font-size="5.1" fill="#222" font-family="Liberation Sans, sans-serif">0.01 ~ 0.05</text>
<rect x="317.60" y="432.55" width="8" height="3.5" fill="#C8C8C8"/>
<text x="329.20" y="436.30" font-size="5.1" fill="#222" font-family="Liberation Sans, sans-serif">&gt;= 0.05</text>
<text x="316.80" y="457.50" font-size="6.4" fill="#111" font-family="Liberation Sans, sans-serif">Correlation</text>
<rect x="316.80" y="461.00" width="9.3" height="29.7" fill="#F2F2F2"/>
<line x1="317.30" x2="325.60" y1="466.50" y2="466.50" stroke="#4A4A4A" stroke-width="0.6"/>
<text x="329.20" y="468.30" font-size="5.1" fill="#222" font-family="Liberation Sans, sans-serif">&lt; 0.24</text>
<line x1="317.30" x2="325.60" y1="476.50" y2="476.50" stroke="#4A4A4A" stroke-width="1.15"/>
<text x="329.20" y="478.30" font-size="5.1" fill="#222" font-family="Liberation Sans, sans-serif">0.24 ~ 0.35</text>
<line x1="317.30" x2="325.60" y1="486.50" y2="486.50" stroke="#4A4A4A" stroke-width="2.1"/>
<text x="329.20" y="488.30" font-size="5.1" fill="#222" font-family="Liberation Sans, sans-serif">&gt;= 0.35</text>
<text x="316.80" y="510.00" font-size="6.4" fill="#111" font-family="Liberation Sans, sans-serif">Pearson's R</text>
<defs><linearGradient id="gVASP" x1="0" y1="0" x2="0" y2="1"><stop offset="0" stop-color="#E5535B"/><stop offset="0.667" stop-color="#ffffff"/><stop offset="1" stop-color="#96A8D0"/></linearGradient></defs>
<rect x="316.80" y="513.00" width="9.4" height="34" fill="url(#gVASP)"/>
<text x="329.20" y="515.80" font-size="5.1" fill="#222" font-family="Liberation Sans, sans-serif">1.0</text>
<text x="329.20" y="526.45" font-size="5.1" fill="#222" font-family="Liberation Sans, sans-serif">0.5</text>
<text x="329.20" y="537.10" font-size="5.1" fill="#222" font-family="Liberation Sans, sans-serif">0.0</text>
<text x="329.20" y="547.75" font-size="5.1" fill="#222" font-family="Liberation Sans, sans-serif">−0.5</text>
<line x1="457.60" y1="508.80" x2="423.30" y2="388.97" stroke="#EE4049" stroke-width="1.3"/>
<line x1="457.60" y1="508.80" x2="431.06" y2="397.02" stroke="#C6C6C6" stroke-width="0.6"/>
<line x1="457.60" y1="508.80" x2="438.82" y2="405.06" stroke="#4262A5" stroke-width="2.55"/>
<line x1="457.60" y1="508.80" x2="446.58" y2="413.11" stroke="#4262A5" stroke-width="1.45"/>
<line x1="457.60" y1="508.80" x2="454.34" y2="421.15" stroke="#C6C6C6" stroke-width="0.6"/>
<line x1="457.60" y1="508.80" x2="462.10" y2="429.20" stroke="#C6C6C6" stroke-width="0.6"/>
<line x1="457.60" y1="508.80" x2="469.86" y2="437.24" stroke="#4262A5" stroke-width="2.55"/>
<line x1="457.60" y1="508.80" x2="477.62" y2="445.29" stroke="#4262A5" stroke-width="1.45"/>
<line x1="457.60" y1="508.80" x2="485.38" y2="453.33" stroke="#EE4049" stroke-width="0.65"/>
<line x1="457.60" y1="508.80" x2="493.14" y2="461.38" stroke="#C6C6C6" stroke-width="0.6"/>
<line x1="457.60" y1="508.80" x2="500.90" y2="469.42" stroke="#C6C6C6" stroke-width="0.6"/>
<line x1="457.60" y1="508.80" x2="508.66" y2="477.47" stroke="#C6C6C6" stroke-width="0.6"/>
<line x1="457.60" y1="508.80" x2="516.42" y2="485.51" stroke="#EE4049" stroke-width="1.3"/>
<line x1="457.60" y1="508.80" x2="524.18" y2="493.56" stroke="#4262A5" stroke-width="1.45"/>
<line x1="457.60" y1="508.80" x2="531.94" y2="501.60" stroke="#EE4049" stroke-width="0.65"/>
<line x1="457.60" y1="508.80" x2="539.70" y2="509.65" stroke="#4262A5" stroke-width="2.55"/>
<line x1="457.60" y1="508.80" x2="547.46" y2="517.69" stroke="#C6C6C6" stroke-width="0.6"/>
<line x1="457.60" y1="508.80" x2="555.22" y2="525.74" stroke="#C6C6C6" stroke-width="0.6"/>
<line x1="457.60" y1="508.80" x2="562.98" y2="533.78" stroke="#4262A5" stroke-width="2.55"/>
<line x1="457.60" y1="508.80" x2="570.74" y2="541.83" stroke="#EE4049" stroke-width="0.65"/>
<line x1="457.60" y1="508.80" x2="578.50" y2="549.87" stroke="#C6C6C6" stroke-width="0.6"/>
<line x1="457.60" y1="508.80" x2="586.26" y2="557.92" stroke="#4262A5" stroke-width="2.55"/>
<rect x="434.96" y="384.95" width="7.76" height="8.04" fill="#fff" stroke="#C2C2C2" stroke-width="0.7"/>
<rect x="442.72" y="384.95" width="7.76" height="8.04" fill="#fff" stroke="#C2C2C2" stroke-width="0.7"/>
<rect x="450.48" y="384.95" width="7.76" height="8.04" fill="#fff" stroke="#C2C2C2" stroke-width="0.7"/>
<rect x="458.24" y="384.95" width="7.76" height="8.04" fill="#fff" stroke="#C2C2C2" stroke-width="0.7"/>
<rect x="466.00" y="384.95" width="7.76" height="8.04" fill="#fff" stroke="#C2C2C2" stroke-width="0.7"/>
<rect x="473.76" y="384.95" width="7.76" height="8.04" fill="#fff" stroke="#C2C2C2" stroke-width="0.7"/>
<rect x="481.52" y="384.95" width="7.76" height="8.04" fill="#fff" stroke="#C2C2C2" stroke-width="0.7"/>
<rect x="489.28" y="384.95" width="7.76" height="8.04" fill="#fff" stroke="#C2C2C2" stroke-width="0.7"/>
<rect x="497.04" y="384.95" width="7.76" height="8.04" fill="#fff" stroke="#C2C2C2" stroke-width="0.7"/>
<rect x="504.80" y="384.95" width="7.76" height="8.04" fill="#fff" stroke="#C2C2C2" stroke-width="0.7"/>
<rect x="512.56" y="384.95" width="7.76" height="8.04" fill="#fff" stroke="#C2C2C2" stroke-width="0.7"/>
<rect x="520.32" y="384.95" width="7.76" height="8.04" fill="#fff" stroke="#C2C2C2" stroke-width="0.7"/>
<rect x="528.08" y="384.95" width="7.76" height="8.04" fill="#fff" stroke="#C2C2C2" stroke-width="0.7"/>
<rect x="535.84" y="384.95" width="7.76" height="8.04" fill="#fff" stroke="#C2C2C2" stroke-width="0.7"/>
<rect x="543.60" y="384.95" width="7.76" height="8.04" fill="#fff" stroke="#C2C2C2" stroke-width="0.7"/>
<rect x="551.36" y="384.95" width="7.76" height="8.04" fill="#fff" stroke="#C2C2C2" stroke-width="0.7"/>
<rect x="559.12" y="384.95" width="7.76" height="8.04" fill="#fff" stroke="#C2C2C2" stroke-width="0.7"/>
<rect x="566.88" y="384.95" width="7.76" height="8.04" fill="#fff" stroke="#C2C2C2" stroke-width="0.7"/>
<rect x="574.64" y="384.95" width="7.76" height="8.04" fill="#fff" stroke="#C2C2C2" stroke-width="0.7"/>
<rect x="582.40" y="384.95" width="7.76" height="8.04" fill="#fff" stroke="#C2C2C2" stroke-width="0.7"/>
<rect x="590.16" y="384.95" width="7.76" height="8.04" fill="#fff" stroke="#C2C2C2" stroke-width="0.7"/>
<rect x="442.72" y="393.00" width="7.76" height="8.04" fill="#fff" stroke="#C2C2C2" stroke-width="0.7"/>
<rect x="450.48" y="393.00" width="7.76" height="8.04" fill="#fff" stroke="#C2C2C2" stroke-width="0.7"/>
<rect x="458.24" y="393.00" width="7.76" height="8.04" fill="#fff" stroke="#C2C2C2" stroke-width="0.7"/>
<rect x="466.00" y="393.00" width="7.76" height="8.04" fill="#fff" stroke="#C2C2C2" stroke-width="0.7"/>
<rect x="473.76" y="393.00" width="7.76" height="8.04" fill="#fff" stroke="#C2C2C2" stroke-width="0.7"/>
<rect x="481.52" y="393.00" width="7.76" height="8.04" fill="#fff" stroke="#C2C2C2" stroke-width="0.7"/>
<rect x="489.28" y="393.00" width="7.76" height="8.04" fill="#fff" stroke="#C2C2C2" stroke-width="0.7"/>
<rect x="497.04" y="393.00" width="7.76" height="8.04" fill="#fff" stroke="#C2C2C2" stroke-width="0.7"/>
<rect x="504.80" y="393.00" width="7.76" height="8.04" fill="#fff" stroke="#C2C2C2" stroke-width="0.7"/>
<rect x="512.56" y="393.00" width="7.76" height="8.04" fill="#fff" stroke="#C2C2C2" stroke-width="0.7"/>
<rect x="520.32" y="393.00" width="7.76" height="8.04" fill="#fff" stroke="#C2C2C2" stroke-width="0.7"/>
<rect x="528.08" y="393.00" width="7.76" height="8.04" fill="#fff" stroke="#C2C2C2" stroke-width="0.7"/>
<rect x="535.84" y="393.00" width="7.76" height="8.04" fill="#fff" stroke="#C2C2C2" stroke-width="0.7"/>
<rect x="543.60" y="393.00" width="7.76" height="8.04" fill="#fff" stroke="#C2C2C2" stroke-width="0.7"/>
<rect x="551.36" y="393.00" width="7.76" height="8.04" fill="#fff" stroke="#C2C2C2" stroke-width="0.7"/>
<rect x="559.12" y="393.00" width="7.76" height="8.04" fill="#fff" stroke="#C2C2C2" stroke-width="0.7"/>
<rect x="566.88" y="393.00" width="7.76" height="8.04" fill="#fff" stroke="#C2C2C2" stroke-width="0.7"/>
<rect x="574.64" y="393.00" width="7.76" height="8.04" fill="#fff" stroke="#C2C2C2" stroke-width="0.7"/>
<rect x="582.40" y="393.00" width="7.76" height="8.04" fill="#fff" stroke="#C2C2C2" stroke-width="0.7"/>
<rect x="590.16" y="393.00" width="7.76" height="8.04" fill="#fff" stroke="#C2C2C2" stroke-width="0.7"/>
<rect x="450.48" y="401.04" width="7.76" height="8.04" fill="#fff" stroke="#C2C2C2" stroke-width="0.7"/>
<rect x="458.24" y="401.04" width="7.76" height="8.04" fill="#fff" stroke="#C2C2C2" stroke-width="0.7"/>
<rect x="466.00" y="401.04" width="7.76" height="8.04" fill="#fff" stroke="#C2C2C2" stroke-width="0.7"/>
<rect x="473.76" y="401.04" width="7.76" height="8.04" fill="#fff" stroke="#C2C2C2" stroke-width="0.7"/>
<rect x="481.52" y="401.04" width="7.76" height="8.04" fill="#fff" stroke="#C2C2C2" stroke-width="0.7"/>
<rect x="489.28" y="401.04" width="7.76" height="8.04" fill="#fff" stroke="#C2C2C2" stroke-width="0.7"/>
<rect x="497.04" y="401.04" width="7.76" height="8.04" fill="#fff" stroke="#C2C2C2" stroke-width="0.7"/>
<rect x="504.80" y="401.04" width="7.76" height="8.04" fill="#fff" stroke="#C2C2C2" stroke-width="0.7"/>
<rect x="512.56" y="401.04" width="7.76" height="8.04" fill="#fff" stroke="#C2C2C2" stroke-width="0.7"/>
<rect x="520.32" y="401.04" width="7.76" height="8.04" fill="#fff" stroke="#C2C2C2" stroke-width="0.7"/>
<rect x="528.08" y="401.04" width="7.76" height="8.04" fill="#fff" stroke="#C2C2C2" stroke-width="0.7"/>
<rect x="535.84" y="401.04" width="7.76" height="8.04" fill="#fff" stroke="#C2C2C2" stroke-width="0.7"/>
<rect x="543.60" y="401.04" width="7.76" height="8.04" fill="#fff" stroke="#C2C2C2" stroke-width="0.7"/>
<rect x="551.36" y="401.04" width="7.76" height="8.04" fill="#fff" stroke="#C2C2C2" stroke-width="0.7"/>
<rect x="559.12" y="401.04" width="7.76" height="8.04" fill="#fff" stroke="#C2C2C2" stroke-width="0.7"/>
<rect x="566.88" y="401.04" width="7.76" height="8.04" fill="#fff" stroke="#C2C2C2" stroke-width="0.7"/>
<rect x="574.64" y="401.04" width="7.76" height="8.04" fill="#fff" stroke="#C2C2C2" stroke-width="0.7"/>
<rect x="582.40" y="401.04" width="7.76" height="8.04" fill="#fff" stroke="#C2C2C2" stroke-width="0.7"/>
<rect x="590.16" y="401.04" width="7.76" height="8.04" fill="#fff" stroke="#C2C2C2" stroke-width="0.7"/>
<rect x="458.24" y="409.08" width="7.76" height="8.04" fill="#fff" stroke="#C2C2C2" stroke-width="0.7"/>
<rect x="466.00" y="409.08" width="7.76" height="8.04" fill="#fff" stroke="#C2C2C2" stroke-width="0.7"/>
<rect x="473.76" y="409.08" width="7.76" height="8.04" fill="#fff" stroke="#C2C2C2" stroke-width="0.7"/>
<rect x="481.52" y="409.08" width="7.76" height="8.04" fill="#fff" stroke="#C2C2C2" stroke-width="0.7"/>
<rect x="489.28" y="409.08" width="7.76" height="8.04" fill="#fff" stroke="#C2C2C2" stroke-width="0.7"/>
<rect x="497.04" y="409.08" width="7.76" height="8.04" fill="#fff" stroke="#C2C2C2" stroke-width="0.7"/>
<rect x="504.80" y="409.08" width="7.76" height="8.04" fill="#fff" stroke="#C2C2C2" stroke-width="0.7"/>
<rect x="512.56" y="409.08" width="7.76" height="8.04" fill="#fff" stroke="#C2C2C2" stroke-width="0.7"/>
<rect x="520.32" y="409.08" width="7.76" height="8.04" fill="#fff" stroke="#C2C2C2" stroke-width="0.7"/>
<rect x="528.08" y="409.08" width="7.76" height="8.04" fill="#fff" stroke="#C2C2C2" stroke-width="0.7"/>
<rect x="535.84" y="409.08" width="7.76" height="8.04" fill="#fff" stroke="#C2C2C2" stroke-width="0.7"/>
<rect x="543.60" y="409.08" width="7.76" height="8.04" fill="#fff" stroke="#C2C2C2" stroke-width="0.7"/>
<rect x="551.36" y="409.08" width="7.76" height="8.04" fill="#fff" stroke="#C2C2C2" stroke-width="0.7"/>
<rect x="559.12" y="409.08" width="7.76" height="8.04" fill="#fff" stroke="#C2C2C2" stroke-width="0.7"/>
<rect x="566.88" y="409.08" width="7.76" height="8.04" fill="#fff" stroke="#C2C2C2" stroke-width="0.7"/>
<rect x="574.64" y="409.08" width="7.76" height="8.04" fill="#fff" stroke="#C2C2C2" stroke-width="0.7"/>
<rect x="582.40" y="409.08" width="7.76" height="8.04" fill="#fff" stroke="#C2C2C2" stroke-width="0.7"/>
<rect x="590.16" y="409.08" width="7.76" height="8.04" fill="#fff" stroke="#C2C2C2" stroke-width="0.7"/>
<rect x="466.00" y="417.13" width="7.76" height="8.04" fill="#fff" stroke="#C2C2C2" stroke-width="0.7"/>
<rect x="473.76" y="417.13" width="7.76" height="8.04" fill="#fff" stroke="#C2C2C2" stroke-width="0.7"/>
<rect x="481.52" y="417.13" width="7.76" height="8.04" fill="#fff" stroke="#C2C2C2" stroke-width="0.7"/>
<rect x="489.28" y="417.13" width="7.76" height="8.04" fill="#fff" stroke="#C2C2C2" stroke-width="0.7"/>
<rect x="497.04" y="417.13" width="7.76" height="8.04" fill="#fff" stroke="#C2C2C2" stroke-width="0.7"/>
<rect x="504.80" y="417.13" width="7.76" height="8.04" fill="#fff" stroke="#C2C2C2" stroke-width="0.7"/>
<rect x="512.56" y="417.13" width="7.76" height="8.04" fill="#fff" stroke="#C2C2C2" stroke-width="0.7"/>
<rect x="520.32" y="417.13" width="7.76" height="8.04" fill="#fff" stroke="#C2C2C2" stroke-width="0.7"/>
<rect x="528.08" y="417.13" width="7.76" height="8.04" fill="#fff" stroke="#C2C2C2" stroke-width="0.7"/>
<rect x="535.84" y="417.13" width="7.76" height="8.04" fill="#fff" stroke="#C2C2C2" stroke-width="0.7"/>
<rect x="543.60" y="417.13" width="7.76" height="8.04" fill="#fff" stroke="#C2C2C2" stroke-width="0.7"/>
<rect x="551.36" y="417.13" width="7.76" height="8.04" fill="#fff" stroke="#C2C2C2" stroke-width="0.7"/>
<rect x="559.12" y="417.13" width="7.76" height="8.04" fill="#fff" stroke="#C2C2C2" stroke-width="0.7"/>
<rect x="566.88" y="417.13" width="7.76" height="8.04" fill="#fff" stroke="#C2C2C2" stroke-width="0.7"/>
<rect x="574.64" y="417.13" width="7.76" height="8.04" fill="#fff" stroke="#C2C2C2" stroke-width="0.7"/>
<rect x="582.40" y="417.13" width="7.76" height="8.04" fill="#fff" stroke="#C2C2C2" stroke-width="0.7"/>
<rect x="590.16" y="417.13" width="7.76" height="8.04" fill="#fff" stroke="#C2C2C2" stroke-width="0.7"/>
<rect x="473.76" y="425.18" width="7.76" height="8.04" fill="#fff" stroke="#C2C2C2" stroke-width="0.7"/>
<rect x="481.52" y="425.18" width="7.76" height="8.04" fill="#fff" stroke="#C2C2C2" stroke-width="0.7"/>
<rect x="489.28" y="425.18" width="7.76" height="8.04" fill="#fff" stroke="#C2C2C2" stroke-width="0.7"/>
<rect x="497.04" y="425.18" width="7.76" height="8.04" fill="#fff" stroke="#C2C2C2" stroke-width="0.7"/>
<rect x="504.80" y="425.18" width="7.76" height="8.04" fill="#fff" stroke="#C2C2C2" stroke-width="0.7"/>
<rect x="512.56" y="425.18" width="7.76" height="8.04" fill="#fff" stroke="#C2C2C2" stroke-width="0.7"/>
<rect x="520.32" y="425.18" width="7.76" height="8.04" fill="#fff" stroke="#C2C2C2" stroke-width="0.7"/>
<rect x="528.08" y="425.18" width="7.76" height="8.04" fill="#fff" stroke="#C2C2C2" stroke-width="0.7"/>
<rect x="535.84" y="425.18" width="7.76" height="8.04" fill="#fff" stroke="#C2C2C2" stroke-width="0.7"/>
<rect x="543.60" y="425.18" width="7.76" height="8.04" fill="#fff" stroke="#C2C2C2" stroke-width="0.7"/>
<rect x="551.36" y="425.18" width="7.76" height="8.04" fill="#fff" stroke="#C2C2C2" stroke-width="0.7"/>
<rect x="559.12" y="425.18" width="7.76" height="8.04" fill="#fff" stroke="#C2C2C2" stroke-width="0.7"/>
<rect x="566.88" y="425.18" width="7.76" height="8.04" fill="#fff" stroke="#C2C2C2" stroke-width="0.7"/>
<rect x="574.64" y="425.18" width="7.76" height="8.04" fill="#fff" stroke="#C2C2C2" stroke-width="0.7"/>
<rect x="582.40" y="425.18" width="7.76" height="8.04" fill="#fff" stroke="#C2C2C2" stroke-width="0.7"/>
<rect x="590.16" y="425.18" width="7.76" height="8.04" fill="#fff" stroke="#C2C2C2" stroke-width="0.7"/>
<rect x="481.52" y="433.22" width="7.76" height="8.04" fill="#fff" stroke="#C2C2C2" stroke-width="0.7"/>
<rect x="489.28" y="433.22" width="7.76" height="8.04" fill="#fff" stroke="#C2C2C2" stroke-width="0.7"/>
<rect x="497.04" y="433.22" width="7.76" height="8.04" fill="#fff" stroke="#C2C2C2" stroke-width="0.7"/>
<rect x="504.80" y="433.22" width="7.76" height="8.04" fill="#fff" stroke="#C2C2C2" stroke-width="0.7"/>
<rect x="512.56" y="433.22" width="7.76" height="8.04" fill="#fff" stroke="#C2C2C2" stroke-width="0.7"/>
<rect x="520.32" y="433.22" width="7.76" height="8.04" fill="#fff" stroke="#C2C2C2" stroke-width="0.7"/>
<rect x="528.08" y="433.22" width="7.76" height="8.04" fill="#fff" stroke="#C2C2C2" stroke-width="0.7"/>
<rect x="535.84" y="433.22" width="7.76" height="8.04" fill="#fff" stroke="#C2C2C2" stroke-width="0.7"/>
<rect x="543.60" y="433.22" width="7.76" height="8.04" fill="#fff" stroke="#C2C2C2" stroke-width="0.7"/>
<rect x="551.36" y="433.22" width="7.76" height="8.04" fill="#fff" stroke="#C2C2C2" stroke-width="0.7"/>
<rect x="559.12" y="433.22" width="7.76" height="8.04" fill="#fff" stroke="#C2C2C2" stroke-width="0.7"/>
<rect x="566.88" y="433.22" width="7.76" height="8.04" fill="#fff" stroke="#C2C2C2" stroke-width="0.7"/>
<rect x="574.64" y="433.22" width="7.76" height="8.04" fill="#fff" stroke="#C2C2C2" stroke-width="0.7"/>
<rect x="582.40" y="433.22" width="7.76" height="8.04" fill="#fff" stroke="#C2C2C2" stroke-width="0.7"/>
<rect x="590.16" y="433.22" width="7.76" height="8.04" fill="#fff" stroke="#C2C2C2" stroke-width="0.7"/>
<rect x="489.28" y="441.26" width="7.76" height="8.04" fill="#fff" stroke="#C2C2C2" stroke-width="0.7"/>
<rect x="497.04" y="441.26" width="7.76" height="8.04" fill="#fff" stroke="#C2C2C2" stroke-width="0.7"/>
<rect x="504.80" y="441.26" width="7.76" height="8.04" fill="#fff" stroke="#C2C2C2" stroke-width="0.7"/>
<rect x="512.56" y="441.26" width="7.76" height="8.04" fill="#fff" stroke="#C2C2C2" stroke-width="0.7"/>
<rect x="520.32" y="441.26" width="7.76" height="8.04" fill="#fff" stroke="#C2C2C2" stroke-width="0.7"/>
<rect x="528.08" y="441.26" width="7.76" height="8.04" fill="#fff" stroke="#C2C2C2" stroke-width="0.7"/>
<rect x="535.84" y="441.26" width="7.76" height="8.04" fill="#fff" stroke="#C2C2C2" stroke-width="0.7"/>
<rect x="543.60" y="441.26" width="7.76" height="8.04" fill="#fff" stroke="#C2C2C2" stroke-width="0.7"/>
<rect x="551.36" y="441.26" width="7.76" height="8.04" fill="#fff" stroke="#C2C2C2" stroke-width="0.7"/>
<rect x="559.12" y="441.26" width="7.76" height="8.04" fill="#fff" stroke="#C2C2C2" stroke-width="0.7"/>
<rect x="566.88" y="441.26" width="7.76" height="8.04" fill="#fff" stroke="#C2C2C2" stroke-width="0.7"/>
<rect x="574.64" y="441.26" width="7.76" height="8.04" fill="#fff" stroke="#C2C2C2" stroke-width="0.7"/>
<rect x="582.40" y="441.26" width="7.76" height="8.04" fill="#fff" stroke="#C2C2C2" stroke-width="0.7"/>
<rect x="590.16" y="441.26" width="7.76" height="8.04" fill="#fff" stroke="#C2C2C2" stroke-width="0.7"/>
<rect x="497.04" y="449.31" width="7.76" height="8.04" fill="#fff" stroke="#C2C2C2" stroke-width="0.7"/>
<rect x="504.80" y="449.31" width="7.76" height="8.04" fill="#fff" stroke="#C2C2C2" stroke-width="0.7"/>
<rect x="512.56" y="449.31" width="7.76" height="8.04" fill="#fff" stroke="#C2C2C2" stroke-width="0.7"/>
<rect x="520.32" y="449.31" width="7.76" height="8.04" fill="#fff" stroke="#C2C2C2" stroke-width="0.7"/>
<rect x="528.08" y="449.31" width="7.76" height="8.04" fill="#fff" stroke="#C2C2C2" stroke-width="0.7"/>
<rect x="535.84" y="449.31" width="7.76" height="8.04" fill="#fff" stroke="#C2C2C2" stroke-width="0.7"/>
<rect x="543.60" y="449.31" width="7.76" height="8.04" fill="#fff" stroke="#C2C2C2" stroke-width="0.7"/>
<rect x="551.36" y="449.31" width="7.76" height="8.04" fill="#fff" stroke="#C2C2C2" stroke-width="0.7"/>
<rect x="559.12" y="449.31" width="7.76" height="8.04" fill="#fff" stroke="#C2C2C2" stroke-width="0.7"/>
<rect x="566.88" y="449.31" width="7.76" height="8.04" fill="#fff" stroke="#C2C2C2" stroke-width="0.7"/>
<rect x="574.64" y="449.31" width="7.76" height="8.04" fill="#fff" stroke="#C2C2C2" stroke-width="0.7"/>
<rect x="582.40" y="449.31" width="7.76" height="8.04" fill="#fff" stroke="#C2C2C2" stroke-width="0.7"/>
<rect x="590.16" y="449.31" width="7.76" height="8.04" fill="#fff" stroke="#C2C2C2" stroke-width="0.7"/>
<rect x="504.80" y="457.36" width="7.76" height="8.04" fill="#fff" stroke="#C2C2C2" stroke-width="0.7"/>
<rect x="512.56" y="457.36" width="7.76" height="8.04" fill="#fff" stroke="#C2C2C2" stroke-width="0.7"/>
<rect x="520.32" y="457.36" width="7.76" height="8.04" fill="#fff" stroke="#C2C2C2" stroke-width="0.7"/>
<rect x="528.08" y="457.36" width="7.76" height="8.04" fill="#fff" stroke="#C2C2C2" stroke-width="0.7"/>
<rect x="535.84" y="457.36" width="7.76" height="8.04" fill="#fff" stroke="#C2C2C2" stroke-width="0.7"/>
<rect x="543.60" y="457.36" width="7.76" height="8.04" fill="#fff" stroke="#C2C2C2" stroke-width="0.7"/>
<rect x="551.36" y="457.36" width="7.76" height="8.04" fill="#fff" stroke="#C2C2C2" stroke-width="0.7"/>
<rect x="559.12" y="457.36" width="7.76" height="8.04" fill="#fff" stroke="#C2C2C2" stroke-width="0.7"/>
<rect x="566.88" y="457.36" width="7.76" height="8.04" fill="#fff" stroke="#C2C2C2" stroke-width="0.7"/>
<rect x="574.64" y="457.36" width="7.76" height="8.04" fill="#fff" stroke="#C2C2C2" stroke-width="0.7"/>
<rect x="582.40" y="457.36" width="7.76" height="8.04" fill="#fff" stroke="#C2C2C2" stroke-width="0.7"/>
<rect x="590.16" y="457.36" width="7.76" height="8.04" fill="#fff" stroke="#C2C2C2" stroke-width="0.7"/>
<rect x="512.56" y="465.40" width="7.76" height="8.04" fill="#fff" stroke="#C2C2C2" stroke-width="0.7"/>
<rect x="520.32" y="465.40" width="7.76" height="8.04" fill="#fff" stroke="#C2C2C2" stroke-width="0.7"/>
<rect x="528.08" y="465.40" width="7.76" height="8.04" fill="#fff" stroke="#C2C2C2" stroke-width="0.7"/>
<rect x="535.84" y="465.40" width="7.76" height="8.04" fill="#fff" stroke="#C2C2C2" stroke-width="0.7"/>
<rect x="543.60" y="465.40" width="7.76" height="8.04" fill="#fff" stroke="#C2C2C2" stroke-width="0.7"/>
<rect x="551.36" y="465.40" width="7.76" height="8.04" fill="#fff" stroke="#C2C2C2" stroke-width="0.7"/>
<rect x="559.12" y="465.40" width="7.76" height="8.04" fill="#fff" stroke="#C2C2C2" stroke-width="0.7"/>
<rect x="566.88" y="465.40" width="7.76" height="8.04" fill="#fff" stroke="#C2C2C2" stroke-width="0.7"/>
<rect x="574.64" y="465.40" width="7.76" height="8.04" fill="#fff" stroke="#C2C2C2" stroke-width="0.7"/>
<rect x="582.40" y="465.40" width="7.76" height="8.04" fill="#fff" stroke="#C2C2C2" stroke-width="0.7"/>
<rect x="590.16" y="465.40" width="7.76" height="8.04" fill="#fff" stroke="#C2C2C2" stroke-width="0.7"/>
<rect x="520.32" y="473.44" width="7.76" height="8.04" fill="#fff" stroke="#C2C2C2" stroke-width="0.7"/>
<rect x="528.08" y="473.44" width="7.76" height="8.04" fill="#fff" stroke="#C2C2C2" stroke-width="0.7"/>
<rect x="535.84" y="473.44" width="7.76" height="8.04" fill="#fff" stroke="#C2C2C2" stroke-width="0.7"/>
<rect x="543.60" y="473.44" width="7.76" height="8.04" fill="#fff" stroke="#C2C2C2" stroke-width="0.7"/>
<rect x="551.36" y="473.44" width="7.76" height="8.04" fill="#fff" stroke="#C2C2C2" stroke-width="0.7"/>
<rect x="559.12" y="473.44" width="7.76" height="8.04" fill="#fff" stroke="#C2C2C2" stroke-width="0.7"/>
<rect x="566.88" y="473.44" width="7.76" height="8.04" fill="#fff" stroke="#C2C2C2" stroke-width="0.7"/>
<rect x="574.64" y="473.44" width="7.76" height="8.04" fill="#fff" stroke="#C2C2C2" stroke-width="0.7"/>
<rect x="582.40" y="473.44" width="7.76" height="8.04" fill="#fff" stroke="#C2C2C2" stroke-width="0.7"/>
<rect x="590.16" y="473.44" width="7.76" height="8.04" fill="#fff" stroke="#C2C2C2" stroke-width="0.7"/>
<rect x="528.08" y="481.49" width="7.76" height="8.04" fill="#fff" stroke="#C2C2C2" stroke-width="0.7"/>
<rect x="535.84" y="481.49" width="7.76" height="8.04" fill="#fff" stroke="#C2C2C2" stroke-width="0.7"/>
<rect x="543.60" y="481.49" width="7.76" height="8.04" fill="#fff" stroke="#C2C2C2" stroke-width="0.7"/>
<rect x="551.36" y="481.49" width="7.76" height="8.04" fill="#fff" stroke="#C2C2C2" stroke-width="0.7"/>
<rect x="559.12" y="481.49" width="7.76" height="8.04" fill="#fff" stroke="#C2C2C2" stroke-width="0.7"/>
<rect x="566.88" y="481.49" width="7.76" height="8.04" fill="#fff" stroke="#C2C2C2" stroke-width="0.7"/>
<rect x="574.64" y="481.49" width="7.76" height="8.04" fill="#fff" stroke="#C2C2C2" stroke-width="0.7"/>
<rect x="582.40" y="481.49" width="7.76" height="8.04" fill="#fff" stroke="#C2C2C2" stroke-width="0.7"/>
<rect x="590.16" y="481.49" width="7.76" height="8.04" fill="#fff" stroke="#C2C2C2" stroke-width="0.7"/>
<rect x="535.84" y="489.53" width="7.76" height="8.04" fill="#fff" stroke="#C2C2C2" stroke-width="0.7"/>
<rect x="543.60" y="489.53" width="7.76" height="8.04" fill="#fff" stroke="#C2C2C2" stroke-width="0.7"/>
<rect x="551.36" y="489.53" width="7.76" height="8.04" fill="#fff" stroke="#C2C2C2" stroke-width="0.7"/>
<rect x="559.12" y="489.53" width="7.76" height="8.04" fill="#fff" stroke="#C2C2C2" stroke-width="0.7"/>
<rect x="566.88" y="489.53" width="7.76" height="8.04" fill="#fff" stroke="#C2C2C2" stroke-width="0.7"/>
<rect x="574.64" y="489.53" width="7.76" height="8.04" fill="#fff" stroke="#C2C2C2" stroke-width="0.7"/>
<rect x="582.40" y="489.53" width="7.76" height="8.04" fill="#fff" stroke="#C2C2C2" stroke-width="0.7"/>
<rect x="590.16" y="489.53" width="7.76" height="8.04" fill="#fff" stroke="#C2C2C2" stroke-width="0.7"/>
<rect x="543.60" y="497.58" width="7.76" height="8.04" fill="#fff" stroke="#C2C2C2" stroke-width="0.7"/>
<rect x="551.36" y="497.58" width="7.76" height="8.04" fill="#fff" stroke="#C2C2C2" stroke-width="0.7"/>
<rect x="559.12" y="497.58" width="7.76" height="8.04" fill="#fff" stroke="#C2C2C2" stroke-width="0.7"/>
<rect x="566.88" y="497.58" width="7.76" height="8.04" fill="#fff" stroke="#C2C2C2" stroke-width="0.7"/>
<rect x="574.64" y="497.58" width="7.76" height="8.04" fill="#fff" stroke="#C2C2C2" stroke-width="0.7"/>
<rect x="582.40" y="497.58" width="7.76" height="8.04" fill="#fff" stroke="#C2C2C2" stroke-width="0.7"/>
<rect x="590.16" y="497.58" width="7.76" height="8.04" fill="#fff" stroke="#C2C2C2" stroke-width="0.7"/>
<rect x="551.36" y="505.62" width="7.76" height="8.04" fill="#fff" stroke="#C2C2C2" stroke-width="0.7"/>
<rect x="559.12" y="505.62" width="7.76" height="8.04" fill="#fff" stroke="#C2C2C2" stroke-width="0.7"/>
<rect x="566.88" y="505.62" width="7.76" height="8.04" fill="#fff" stroke="#C2C2C2" stroke-width="0.7"/>
<rect x="574.64" y="505.62" width="7.76" height="8.04" fill="#fff" stroke="#C2C2C2" stroke-width="0.7"/>
<rect x="582.40" y="505.62" width="7.76" height="8.04" fill="#fff" stroke="#C2C2C2" stroke-width="0.7"/>
<rect x="590.16" y="505.62" width="7.76" height="8.04" fill="#fff" stroke="#C2C2C2" stroke-width="0.7"/>
<rect x="559.12" y="513.67" width="7.76" height="8.04" fill="#fff" stroke="#C2C2C2" stroke-width="0.7"/>
<rect x="566.88" y="513.67" width="7.76" height="8.04" fill="#fff" stroke="#C2C2C2" stroke-width="0.7"/>
<rect x="574.64" y="513.67" width="7.76" height="8.04" fill="#fff" stroke="#C2C2C2" stroke-width="0.7"/>
<rect x="582.40" y="513.67" width="7.76" height="8.04" fill="#fff" stroke="#C2C2C2" stroke-width="0.7"/>
<rect x="590.16" y="513.67" width="7.76" height="8.04" fill="#fff" stroke="#C2C2C2" stroke-width="0.7"/>
<rect x="566.88" y="521.71" width="7.76" height="8.04" fill="#fff" stroke="#C2C2C2" stroke-width="0.7"/>
<rect x="574.64" y="521.71" width="7.76" height="8.04" fill="#fff" stroke="#C2C2C2" stroke-width="0.7"/>
<rect x="582.40" y="521.71" width="7.76" height="8.04" fill="#fff" stroke="#C2C2C2" stroke-width="0.7"/>
<rect x="590.16" y="521.71" width="7.76" height="8.04" fill="#fff" stroke="#C2C2C2" stroke-width="0.7"/>
<rect x="574.64" y="529.76" width="7.76" height="8.04" fill="#fff" stroke="#C2C2C2" stroke-width="0.7"/>
<rect x="582.40" y="529.76" width="7.76" height="8.04" fill="#fff" stroke="#C2C2C2" stroke-width="0.7"/>
<rect x="590.16" y="529.76" width="7.76" height="8.04" fill="#fff" stroke="#C2C2C2" stroke-width="0.7"/>
<rect x="582.40" y="537.80" width="7.76" height="8.04" fill="#fff" stroke="#C2C2C2" stroke-width="0.7"/>
<rect x="590.16" y="537.80" width="7.76" height="8.04" fill="#fff" stroke="#C2C2C2" stroke-width="0.7"/>
<rect x="590.16" y="545.85" width="7.76" height="8.04" fill="#fff" stroke="#C2C2C2" stroke-width="0.7"/>
<rect x="437.06" y="387.12" width="3.57" height="3.70" fill="#c9cfe3" stroke="#858585" stroke-width="0.5"/>
<rect x="444.82" y="387.12" width="3.57" height="3.70" fill="#f8c4c7" stroke="#858585" stroke-width="0.5"/>
<rect x="453.11" y="387.68" width="2.50" height="2.59" fill="#fbe2e3" stroke="#858585" stroke-width="0.5"/>
<rect x="461.05" y="387.86" width="2.14" height="2.22" fill="#ffffff" stroke="#858585" stroke-width="0.5"/>
<rect x="468.81" y="387.86" width="2.14" height="2.22" fill="#ffffff" stroke="#858585" stroke-width="0.5"/>
<rect x="475.68" y="386.94" width="3.93" height="4.07" fill="#f6b8bb" stroke="#858585" stroke-width="0.5"/>
<rect x="484.33" y="387.86" width="2.14" height="2.22" fill="#ffffff" stroke="#858585" stroke-width="0.5"/>
<rect x="491.91" y="387.68" width="2.50" height="2.59" fill="#fbe2e3" stroke="#858585" stroke-width="0.5"/>
<rect x="499.85" y="387.86" width="2.14" height="2.22" fill="#ffffff" stroke="#858585" stroke-width="0.5"/>
<rect x="508.32" y="388.60" width="0.71" height="0.74" fill="#ffffff" stroke="#858585" stroke-width="0.5"/>
<rect x="514.66" y="387.12" width="3.57" height="3.70" fill="#c9cfe3" stroke="#858585" stroke-width="0.5"/>
<rect x="522.95" y="387.68" width="2.50" height="2.59" fill="#ffffff" stroke="#858585" stroke-width="0.5"/>
<rect x="530.35" y="387.31" width="3.21" height="3.33" fill="#d3d8e8" stroke="#858585" stroke-width="0.5"/>
<rect x="538.11" y="387.31" width="3.21" height="3.33" fill="#d3d8e8" stroke="#858585" stroke-width="0.5"/>
<rect x="545.52" y="386.94" width="3.93" height="4.07" fill="#bdc5dd" stroke="#858585" stroke-width="0.5"/>
<rect x="553.63" y="387.31" width="3.21" height="3.33" fill="#f9cfd1" stroke="#858585" stroke-width="0.5"/>
<rect x="561.57" y="387.49" width="2.86" height="2.96" fill="#fad9db" stroke="#858585" stroke-width="0.5"/>
<rect x="568.98" y="387.12" width="3.57" height="3.70" fill="#c9cfe3" stroke="#858585" stroke-width="0.5"/>
<rect x="577.45" y="387.86" width="2.14" height="2.22" fill="#ffffff" stroke="#858585" stroke-width="0.5"/>
<rect x="585.03" y="387.68" width="2.50" height="2.59" fill="#ffffff" stroke="#858585" stroke-width="0.5"/>
<rect x="592.26" y="387.12" width="3.57" height="3.70" fill="#c9cfe3" stroke="#858585" stroke-width="0.5"/>
<rect x="444.99" y="395.35" width="3.21" height="3.33" fill="#f9cfd1" stroke="#858585" stroke-width="0.5"/>
<rect x="452.75" y="395.35" width="3.21" height="3.33" fill="#d3d8e8" stroke="#858585" stroke-width="0.5"/>
<rect x="460.87" y="395.72" width="2.50" height="2.59" fill="#ffffff" stroke="#858585" stroke-width="0.5"/>
<rect x="469.52" y="396.65" width="0.71" height="0.74" fill="#ffffff" stroke="#858585" stroke-width="0.5"/>
<rect x="476.75" y="396.09" width="1.78" height="1.85" fill="#ffffff" stroke="#858585" stroke-width="0.5"/>
<rect x="484.69" y="396.28" width="1.43" height="1.48" fill="#ffffff" stroke="#858585" stroke-width="0.5"/>
<rect x="491.55" y="395.35" width="3.21" height="3.33" fill="#d3d8e8" stroke="#858585" stroke-width="0.5"/>
<rect x="499.67" y="395.72" width="2.50" height="2.59" fill="#fbe2e3" stroke="#858585" stroke-width="0.5"/>
<rect x="507.25" y="395.54" width="2.86" height="2.96" fill="#fad9db" stroke="#858585" stroke-width="0.5"/>
<rect x="514.83" y="395.35" width="3.21" height="3.33" fill="#d3d8e8" stroke="#858585" stroke-width="0.5"/>
<rect x="522.95" y="395.72" width="2.50" height="2.59" fill="#ffffff" stroke="#858585" stroke-width="0.5"/>
<rect x="530.18" y="395.17" width="3.57" height="3.70" fill="#c9cfe3" stroke="#858585" stroke-width="0.5"/>
<rect x="538.65" y="395.91" width="2.14" height="2.22" fill="#ffffff" stroke="#858585" stroke-width="0.5"/>
<rect x="547.19" y="396.72" width="0.57" height="0.59" fill="#ffffff" stroke="#858585" stroke-width="0.5"/>
<rect x="554.88" y="396.65" width="0.71" height="0.74" fill="#ffffff" stroke="#858585" stroke-width="0.5"/>
<rect x="561.93" y="395.91" width="2.14" height="2.22" fill="#ffffff" stroke="#858585" stroke-width="0.5"/>
<rect x="569.69" y="395.91" width="2.14" height="2.22" fill="#ffffff" stroke="#858585" stroke-width="0.5"/>
<rect x="577.98" y="396.46" width="1.07" height="1.11" fill="#ffffff" stroke="#858585" stroke-width="0.5"/>
<rect x="585.21" y="395.91" width="2.14" height="2.22" fill="#ffffff" stroke="#858585" stroke-width="0.5"/>
<rect x="593.15" y="396.09" width="1.78" height="1.85" fill="#ffffff" stroke="#858585" stroke-width="0.5"/>
<rect x="452.22" y="402.84" width="4.28" height="4.44" fill="#f4aaae" stroke="#858585" stroke-width="0.5"/>
<rect x="461.05" y="403.95" width="2.14" height="2.22" fill="#ffffff" stroke="#858585" stroke-width="0.5"/>
<rect x="468.81" y="403.95" width="2.14" height="2.22" fill="#ffffff" stroke="#858585" stroke-width="0.5"/>
<rect x="475.68" y="403.03" width="3.93" height="4.07" fill="#f6b8bb" stroke="#858585" stroke-width="0.5"/>
<rect x="483.62" y="403.21" width="3.57" height="3.70" fill="#f8c4c7" stroke="#858585" stroke-width="0.5"/>
<rect x="491.55" y="403.40" width="3.21" height="3.33" fill="#f9cfd1" stroke="#858585" stroke-width="0.5"/>
<rect x="499.31" y="403.40" width="3.21" height="3.33" fill="#d3d8e8" stroke="#858585" stroke-width="0.5"/>
<rect x="507.61" y="403.95" width="2.14" height="2.22" fill="#ffffff" stroke="#858585" stroke-width="0.5"/>
<rect x="514.83" y="403.40" width="3.21" height="3.33" fill="#d3d8e8" stroke="#858585" stroke-width="0.5"/>
<rect x="522.77" y="403.58" width="2.86" height="2.96" fill="#ffffff" stroke="#858585" stroke-width="0.5"/>
<rect x="529.82" y="402.84" width="4.28" height="4.44" fill="#b1bad7" stroke="#858585" stroke-width="0.5"/>
<rect x="538.47" y="403.77" width="2.50" height="2.59" fill="#ffffff" stroke="#858585" stroke-width="0.5"/>
<rect x="545.16" y="402.66" width="4.64" height="4.81" fill="#a3aed0" stroke="#858585" stroke-width="0.5"/>
<rect x="554.35" y="404.14" width="1.78" height="1.85" fill="#ffffff" stroke="#858585" stroke-width="0.5"/>
<rect x="561.22" y="403.21" width="3.57" height="3.70" fill="#c9cfe3" stroke="#858585" stroke-width="0.5"/>
<rect x="568.44" y="402.66" width="4.64" height="4.81" fill="#a3aed0" stroke="#858585" stroke-width="0.5"/>
<rect x="576.91" y="403.40" width="3.21" height="3.33" fill="#d3d8e8" stroke="#858585" stroke-width="0.5"/>
<rect x="585.21" y="403.95" width="2.14" height="2.22" fill="#ffffff" stroke="#858585" stroke-width="0.5"/>
<rect x="591.54" y="402.47" width="5.00" height="5.18" fill="#9ca8cc" stroke="#858585" stroke-width="0.5"/>
<rect x="460.16" y="411.07" width="3.93" height="4.07" fill="#bdc5dd" stroke="#858585" stroke-width="0.5"/>
<rect x="467.92" y="411.07" width="3.93" height="4.07" fill="#bdc5dd" stroke="#858585" stroke-width="0.5"/>
<rect x="475.50" y="410.89" width="4.28" height="4.44" fill="#f4aaae" stroke="#858585" stroke-width="0.5"/>
<rect x="484.51" y="412.18" width="1.78" height="1.85" fill="#ffffff" stroke="#858585" stroke-width="0.5"/>
<rect x="492.87" y="412.81" width="0.57" height="0.59" fill="#ffffff" stroke="#858585" stroke-width="0.5"/>
<rect x="499.31" y="411.44" width="3.21" height="3.33" fill="#d3d8e8" stroke="#858585" stroke-width="0.5"/>
<rect x="507.61" y="412.00" width="2.14" height="2.22" fill="#ffffff" stroke="#858585" stroke-width="0.5"/>
<rect x="516.01" y="412.66" width="0.86" height="0.89" fill="#ffffff" stroke="#858585" stroke-width="0.5"/>
<rect x="522.95" y="411.81" width="2.50" height="2.59" fill="#ffffff" stroke="#858585" stroke-width="0.5"/>
<rect x="530.18" y="411.26" width="3.57" height="3.70" fill="#c9cfe3" stroke="#858585" stroke-width="0.5"/>
<rect x="537.94" y="411.26" width="3.57" height="3.70" fill="#c9cfe3" stroke="#858585" stroke-width="0.5"/>
<rect x="545.70" y="411.26" width="3.57" height="3.70" fill="#c9cfe3" stroke="#858585" stroke-width="0.5"/>
<rect x="554.88" y="412.74" width="0.71" height="0.74" fill="#ffffff" stroke="#858585" stroke-width="0.5"/>
<rect x="561.75" y="411.81" width="2.50" height="2.59" fill="#ffffff" stroke="#858585" stroke-width="0.5"/>
<rect x="568.80" y="411.07" width="3.93" height="4.07" fill="#bdc5dd" stroke="#858585" stroke-width="0.5"/>
<rect x="576.91" y="411.44" width="3.21" height="3.33" fill="#d3d8e8" stroke="#858585" stroke-width="0.5"/>
<rect x="585.57" y="412.37" width="1.43" height="1.48" fill="#ffffff" stroke="#858585" stroke-width="0.5"/>
<rect x="591.90" y="410.89" width="4.28" height="4.44" fill="#b1bad7" stroke="#858585" stroke-width="0.5"/>
<rect x="468.10" y="419.30" width="3.57" height="3.70" fill="#c9cfe3" stroke="#858585" stroke-width="0.5"/>
<rect x="477.28" y="420.78" width="0.71" height="0.74" fill="#ffffff" stroke="#858585" stroke-width="0.5"/>
<rect x="483.44" y="419.12" width="3.93" height="4.07" fill="#bdc5dd" stroke="#858585" stroke-width="0.5"/>
<rect x="491.73" y="419.67" width="2.86" height="2.96" fill="#fad9db" stroke="#858585" stroke-width="0.5"/>
<rect x="499.67" y="419.86" width="2.50" height="2.59" fill="#ffffff" stroke="#858585" stroke-width="0.5"/>
<rect x="507.43" y="419.86" width="2.50" height="2.59" fill="#fbe2e3" stroke="#858585" stroke-width="0.5"/>
<rect x="514.83" y="419.49" width="3.21" height="3.33" fill="#d3d8e8" stroke="#858585" stroke-width="0.5"/>
<rect x="522.24" y="419.12" width="3.93" height="4.07" fill="#f6b8bb" stroke="#858585" stroke-width="0.5"/>
<rect x="530.00" y="419.12" width="3.93" height="4.07" fill="#f6b8bb" stroke="#858585" stroke-width="0.5"/>
<rect x="537.58" y="418.93" width="4.28" height="4.44" fill="#f4aaae" stroke="#858585" stroke-width="0.5"/>
<rect x="546.94" y="420.60" width="1.07" height="1.11" fill="#ffffff" stroke="#858585" stroke-width="0.5"/>
<rect x="553.99" y="419.86" width="2.50" height="2.59" fill="#ffffff" stroke="#858585" stroke-width="0.5"/>
<rect x="561.39" y="419.49" width="3.21" height="3.33" fill="#d3d8e8" stroke="#858585" stroke-width="0.5"/>
<rect x="569.69" y="420.04" width="2.14" height="2.22" fill="#fceaeb" stroke="#858585" stroke-width="0.5"/>
<rect x="577.81" y="420.41" width="1.43" height="1.48" fill="#ffffff" stroke="#858585" stroke-width="0.5"/>
<rect x="584.85" y="419.67" width="2.86" height="2.96" fill="#dce0ed" stroke="#858585" stroke-width="0.5"/>
<rect x="592.79" y="419.86" width="2.50" height="2.59" fill="#ffffff" stroke="#858585" stroke-width="0.5"/>
<rect x="476.03" y="427.53" width="3.21" height="3.33" fill="#d3d8e8" stroke="#858585" stroke-width="0.5"/>
<rect x="483.97" y="427.72" width="2.86" height="2.96" fill="#fad9db" stroke="#858585" stroke-width="0.5"/>
<rect x="491.55" y="427.53" width="3.21" height="3.33" fill="#f9cfd1" stroke="#858585" stroke-width="0.5"/>
<rect x="500.03" y="428.27" width="1.78" height="1.85" fill="#ffffff" stroke="#858585" stroke-width="0.5"/>
<rect x="507.25" y="427.72" width="2.86" height="2.96" fill="#dce0ed" stroke="#858585" stroke-width="0.5"/>
<rect x="516.08" y="428.83" width="0.71" height="0.74" fill="#ffffff" stroke="#858585" stroke-width="0.5"/>
<rect x="523.13" y="428.09" width="2.14" height="2.22" fill="#ffffff" stroke="#858585" stroke-width="0.5"/>
<rect x="530.35" y="427.53" width="3.21" height="3.33" fill="#d3d8e8" stroke="#858585" stroke-width="0.5"/>
<rect x="539.18" y="428.64" width="1.07" height="1.11" fill="#ffffff" stroke="#858585" stroke-width="0.5"/>
<rect x="546.77" y="428.46" width="1.43" height="1.48" fill="#ffffff" stroke="#858585" stroke-width="0.5"/>
<rect x="554.35" y="428.27" width="1.78" height="1.85" fill="#ffffff" stroke="#858585" stroke-width="0.5"/>
<rect x="561.57" y="427.72" width="2.86" height="2.96" fill="#fad9db" stroke="#858585" stroke-width="0.5"/>
<rect x="569.87" y="428.27" width="1.78" height="1.85" fill="#ffffff" stroke="#858585" stroke-width="0.5"/>
<rect x="577.27" y="427.90" width="2.50" height="2.59" fill="#fbe2e3" stroke="#858585" stroke-width="0.5"/>
<rect x="585.92" y="428.83" width="0.71" height="0.74" fill="#ffffff" stroke="#858585" stroke-width="0.5"/>
<rect x="592.97" y="428.09" width="2.14" height="2.22" fill="#ffffff" stroke="#858585" stroke-width="0.5"/>
<rect x="483.79" y="435.58" width="3.21" height="3.33" fill="#d3d8e8" stroke="#858585" stroke-width="0.5"/>
<rect x="492.80" y="436.87" width="0.71" height="0.74" fill="#ffffff" stroke="#858585" stroke-width="0.5"/>
<rect x="499.31" y="435.58" width="3.21" height="3.33" fill="#d3d8e8" stroke="#858585" stroke-width="0.5"/>
<rect x="506.72" y="435.21" width="3.93" height="4.07" fill="#f6b8bb" stroke="#858585" stroke-width="0.5"/>
<rect x="515.55" y="436.32" width="1.78" height="1.85" fill="#ffffff" stroke="#858585" stroke-width="0.5"/>
<rect x="522.95" y="435.95" width="2.50" height="2.59" fill="#ffffff" stroke="#858585" stroke-width="0.5"/>
<rect x="530.35" y="435.58" width="3.21" height="3.33" fill="#d3d8e8" stroke="#858585" stroke-width="0.5"/>
<rect x="538.47" y="435.95" width="2.50" height="2.59" fill="#ffffff" stroke="#858585" stroke-width="0.5"/>
<rect x="545.52" y="435.21" width="3.93" height="4.07" fill="#bdc5dd" stroke="#858585" stroke-width="0.5"/>
<rect x="554.53" y="436.50" width="1.43" height="1.48" fill="#ffffff" stroke="#858585" stroke-width="0.5"/>
<rect x="561.22" y="435.39" width="3.57" height="3.70" fill="#c9cfe3" stroke="#858585" stroke-width="0.5"/>
<rect x="568.98" y="435.39" width="3.57" height="3.70" fill="#c9cfe3" stroke="#858585" stroke-width="0.5"/>
<rect x="577.27" y="435.95" width="2.50" height="2.59" fill="#ffffff" stroke="#858585" stroke-width="0.5"/>
<rect x="585.92" y="436.87" width="0.71" height="0.74" fill="#ffffff" stroke="#858585" stroke-width="0.5"/>
<rect x="592.26" y="435.39" width="3.57" height="3.70" fill="#c9cfe3" stroke="#858585" stroke-width="0.5"/>
<rect x="491.91" y="443.99" width="2.50" height="2.59" fill="#ffffff" stroke="#858585" stroke-width="0.5"/>
<rect x="500.21" y="444.55" width="1.43" height="1.48" fill="#ffffff" stroke="#858585" stroke-width="0.5"/>
<rect x="507.25" y="443.81" width="2.86" height="2.96" fill="#dce0ed" stroke="#858585" stroke-width="0.5"/>
<rect x="514.66" y="443.44" width="3.57" height="3.70" fill="#f8c4c7" stroke="#858585" stroke-width="0.5"/>
<rect x="522.59" y="443.62" width="3.21" height="3.33" fill="#d3d8e8" stroke="#858585" stroke-width="0.5"/>
<rect x="530.00" y="443.25" width="3.93" height="4.07" fill="#bdc5dd" stroke="#858585" stroke-width="0.5"/>
<rect x="537.94" y="443.44" width="3.57" height="3.70" fill="#c9cfe3" stroke="#858585" stroke-width="0.5"/>
<rect x="546.59" y="444.36" width="1.78" height="1.85" fill="#ffffff" stroke="#858585" stroke-width="0.5"/>
<rect x="554.35" y="444.36" width="1.78" height="1.85" fill="#ffffff" stroke="#858585" stroke-width="0.5"/>
<rect x="561.39" y="443.62" width="3.21" height="3.33" fill="#f9cfd1" stroke="#858585" stroke-width="0.5"/>
<rect x="568.80" y="443.25" width="3.93" height="4.07" fill="#bdc5dd" stroke="#858585" stroke-width="0.5"/>
<rect x="577.27" y="443.99" width="2.50" height="2.59" fill="#fbe2e3" stroke="#858585" stroke-width="0.5"/>
<rect x="584.67" y="443.62" width="3.21" height="3.33" fill="#f9cfd1" stroke="#858585" stroke-width="0.5"/>
<rect x="592.43" y="443.62" width="3.21" height="3.33" fill="#d3d8e8" stroke="#858585" stroke-width="0.5"/>
<rect x="500.38" y="452.78" width="1.07" height="1.11" fill="#ffffff" stroke="#858585" stroke-width="0.5"/>
<rect x="507.07" y="451.67" width="3.21" height="3.33" fill="#f9cfd1" stroke="#858585" stroke-width="0.5"/>
<rect x="514.66" y="451.48" width="3.57" height="3.70" fill="#c9cfe3" stroke="#858585" stroke-width="0.5"/>
<rect x="522.95" y="452.04" width="2.50" height="2.59" fill="#ffffff" stroke="#858585" stroke-width="0.5"/>
<rect x="530.53" y="451.85" width="2.86" height="2.96" fill="#dce0ed" stroke="#858585" stroke-width="0.5"/>
<rect x="538.47" y="452.04" width="2.50" height="2.59" fill="#fbe2e3" stroke="#858585" stroke-width="0.5"/>
<rect x="545.70" y="451.48" width="3.57" height="3.70" fill="#c9cfe3" stroke="#858585" stroke-width="0.5"/>
<rect x="553.81" y="451.85" width="2.86" height="2.96" fill="#fad9db" stroke="#858585" stroke-width="0.5"/>
<rect x="562.64" y="452.96" width="0.71" height="0.74" fill="#ffffff" stroke="#858585" stroke-width="0.5"/>
<rect x="569.15" y="451.67" width="3.21" height="3.33" fill="#d3d8e8" stroke="#858585" stroke-width="0.5"/>
<rect x="577.63" y="452.41" width="1.78" height="1.85" fill="#ffffff" stroke="#858585" stroke-width="0.5"/>
<rect x="585.39" y="452.41" width="1.78" height="1.85" fill="#ffffff" stroke="#858585" stroke-width="0.5"/>
<rect x="592.26" y="451.48" width="3.57" height="3.70" fill="#c9cfe3" stroke="#858585" stroke-width="0.5"/>
<rect x="506.90" y="459.53" width="3.57" height="3.70" fill="#c9cfe3" stroke="#858585" stroke-width="0.5"/>
<rect x="515.01" y="459.90" width="2.86" height="2.96" fill="#fad9db" stroke="#858585" stroke-width="0.5"/>
<rect x="523.13" y="460.27" width="2.14" height="2.22" fill="#ffffff" stroke="#858585" stroke-width="0.5"/>
<rect x="530.89" y="460.27" width="2.14" height="2.22" fill="#ffffff" stroke="#858585" stroke-width="0.5"/>
<rect x="538.11" y="459.71" width="3.21" height="3.33" fill="#d3d8e8" stroke="#858585" stroke-width="0.5"/>
<rect x="546.59" y="460.45" width="1.78" height="1.85" fill="#ffffff" stroke="#858585" stroke-width="0.5"/>
<rect x="553.99" y="460.08" width="2.50" height="2.59" fill="#fbe2e3" stroke="#858585" stroke-width="0.5"/>
<rect x="561.39" y="459.71" width="3.21" height="3.33" fill="#f9cfd1" stroke="#858585" stroke-width="0.5"/>
<rect x="569.87" y="460.45" width="1.78" height="1.85" fill="#ffffff" stroke="#858585" stroke-width="0.5"/>
<rect x="577.63" y="460.45" width="1.78" height="1.85" fill="#ffffff" stroke="#858585" stroke-width="0.5"/>
<rect x="585.74" y="460.82" width="1.07" height="1.11" fill="#ffffff" stroke="#858585" stroke-width="0.5"/>
<rect x="592.79" y="460.08" width="2.50" height="2.59" fill="#fbe2e3" stroke="#858585" stroke-width="0.5"/>
<rect x="514.66" y="467.57" width="3.57" height="3.70" fill="#c9cfe3" stroke="#858585" stroke-width="0.5"/>
<rect x="523.84" y="469.05" width="0.71" height="0.74" fill="#ffffff" stroke="#858585" stroke-width="0.5"/>
<rect x="531.07" y="468.50" width="1.78" height="1.85" fill="#ffffff" stroke="#858585" stroke-width="0.5"/>
<rect x="538.47" y="468.13" width="2.50" height="2.59" fill="#ffffff" stroke="#858585" stroke-width="0.5"/>
<rect x="545.87" y="467.76" width="3.21" height="3.33" fill="#d3d8e8" stroke="#858585" stroke-width="0.5"/>
<rect x="554.95" y="469.13" width="0.57" height="0.59" fill="#ffffff" stroke="#858585" stroke-width="0.5"/>
<rect x="561.75" y="468.13" width="2.50" height="2.59" fill="#ffffff" stroke="#858585" stroke-width="0.5"/>
<rect x="569.69" y="468.31" width="2.14" height="2.22" fill="#ffffff" stroke="#858585" stroke-width="0.5"/>
<rect x="576.91" y="467.76" width="3.21" height="3.33" fill="#f9cfd1" stroke="#858585" stroke-width="0.5"/>
<rect x="585.39" y="468.50" width="1.78" height="1.85" fill="#ffffff" stroke="#858585" stroke-width="0.5"/>
<rect x="592.43" y="467.76" width="3.21" height="3.33" fill="#d3d8e8" stroke="#858585" stroke-width="0.5"/>
<rect x="523.77" y="477.02" width="0.86" height="0.89" fill="#ffffff" stroke="#858585" stroke-width="0.5"/>
<rect x="530.71" y="476.17" width="2.50" height="2.59" fill="#ffffff" stroke="#858585" stroke-width="0.5"/>
<rect x="538.47" y="476.17" width="2.50" height="2.59" fill="#ffffff" stroke="#858585" stroke-width="0.5"/>
<rect x="546.77" y="476.73" width="1.43" height="1.48" fill="#ffffff" stroke="#858585" stroke-width="0.5"/>
<rect x="554.53" y="476.73" width="1.43" height="1.48" fill="#ffffff" stroke="#858585" stroke-width="0.5"/>
<rect x="561.39" y="475.80" width="3.21" height="3.33" fill="#f9cfd1" stroke="#858585" stroke-width="0.5"/>
<rect x="569.15" y="475.80" width="3.21" height="3.33" fill="#d3d8e8" stroke="#858585" stroke-width="0.5"/>
<rect x="577.81" y="476.73" width="1.43" height="1.48" fill="#ffffff" stroke="#858585" stroke-width="0.5"/>
<rect x="584.50" y="475.62" width="3.57" height="3.70" fill="#f8c4c7" stroke="#858585" stroke-width="0.5"/>
<rect x="593.33" y="476.73" width="1.43" height="1.48" fill="#ffffff" stroke="#858585" stroke-width="0.5"/>
<rect x="530.53" y="484.03" width="2.86" height="2.96" fill="#fad9db" stroke="#858585" stroke-width="0.5"/>
<rect x="538.11" y="483.85" width="3.21" height="3.33" fill="#f9cfd1" stroke="#858585" stroke-width="0.5"/>
<rect x="546.23" y="484.22" width="2.50" height="2.59" fill="#fbe2e3" stroke="#858585" stroke-width="0.5"/>
<rect x="554.17" y="484.40" width="2.14" height="2.22" fill="#ffffff" stroke="#858585" stroke-width="0.5"/>
<rect x="561.57" y="484.03" width="2.86" height="2.96" fill="#dce0ed" stroke="#858585" stroke-width="0.5"/>
<rect x="569.51" y="484.22" width="2.50" height="2.59" fill="#fbe2e3" stroke="#858585" stroke-width="0.5"/>
<rect x="577.63" y="484.59" width="1.78" height="1.85" fill="#ffffff" stroke="#858585" stroke-width="0.5"/>
<rect x="585.03" y="484.22" width="2.50" height="2.59" fill="#ffffff" stroke="#858585" stroke-width="0.5"/>
<rect x="593.68" y="485.14" width="0.71" height="0.74" fill="#ffffff" stroke="#858585" stroke-width="0.5"/>
<rect x="537.58" y="491.34" width="4.28" height="4.44" fill="#f4aaae" stroke="#858585" stroke-width="0.5"/>
<rect x="545.87" y="491.89" width="3.21" height="3.33" fill="#f9cfd1" stroke="#858585" stroke-width="0.5"/>
<rect x="553.46" y="491.71" width="3.57" height="3.70" fill="#c9cfe3" stroke="#858585" stroke-width="0.5"/>
<rect x="561.22" y="491.71" width="3.57" height="3.70" fill="#c9cfe3" stroke="#858585" stroke-width="0.5"/>
<rect x="568.98" y="491.71" width="3.57" height="3.70" fill="#f8c4c7" stroke="#858585" stroke-width="0.5"/>
<rect x="577.27" y="492.26" width="2.50" height="2.59" fill="#e4e8f1" stroke="#858585" stroke-width="0.5"/>
<rect x="585.03" y="492.26" width="2.50" height="2.59" fill="#ffffff" stroke="#858585" stroke-width="0.5"/>
<rect x="592.08" y="491.52" width="3.93" height="4.07" fill="#f6b8bb" stroke="#858585" stroke-width="0.5"/>
<rect x="547.12" y="501.23" width="0.71" height="0.74" fill="#ffffff" stroke="#858585" stroke-width="0.5"/>
<rect x="554.17" y="500.49" width="2.14" height="2.22" fill="#ffffff" stroke="#858585" stroke-width="0.5"/>
<rect x="560.86" y="499.38" width="4.28" height="4.44" fill="#b1bad7" stroke="#858585" stroke-width="0.5"/>
<rect x="569.51" y="500.31" width="2.50" height="2.59" fill="#fbe2e3" stroke="#858585" stroke-width="0.5"/>
<rect x="577.63" y="500.68" width="1.78" height="1.85" fill="#ffffff" stroke="#858585" stroke-width="0.5"/>
<rect x="584.50" y="499.75" width="3.57" height="3.70" fill="#c9cfe3" stroke="#858585" stroke-width="0.5"/>
<rect x="592.26" y="499.75" width="3.57" height="3.70" fill="#f8c4c7" stroke="#858585" stroke-width="0.5"/>
<rect x="553.46" y="507.80" width="3.57" height="3.70" fill="#c9cfe3" stroke="#858585" stroke-width="0.5"/>
<rect x="562.64" y="509.28" width="0.71" height="0.74" fill="#ffffff" stroke="#858585" stroke-width="0.5"/>
<rect x="568.98" y="507.80" width="3.57" height="3.70" fill="#f8c4c7" stroke="#858585" stroke-width="0.5"/>
<rect x="577.45" y="508.54" width="2.14" height="2.22" fill="#ffffff" stroke="#858585" stroke-width="0.5"/>
<rect x="585.21" y="508.54" width="2.14" height="2.22" fill="#ffffff" stroke="#858585" stroke-width="0.5"/>
<rect x="592.43" y="507.98" width="3.21" height="3.33" fill="#f9cfd1" stroke="#858585" stroke-width="0.5"/>
<rect x="562.46" y="517.14" width="1.07" height="1.11" fill="#ffffff" stroke="#858585" stroke-width="0.5"/>
<rect x="569.15" y="516.03" width="3.21" height="3.33" fill="#d3d8e8" stroke="#858585" stroke-width="0.5"/>
<rect x="576.91" y="516.03" width="3.21" height="3.33" fill="#f9cfd1" stroke="#858585" stroke-width="0.5"/>
<rect x="584.50" y="515.84" width="3.57" height="3.70" fill="#c9cfe3" stroke="#858585" stroke-width="0.5"/>
<rect x="592.79" y="516.40" width="2.50" height="2.59" fill="#ffffff" stroke="#858585" stroke-width="0.5"/>
<rect x="569.15" y="524.07" width="3.21" height="3.33" fill="#d3d8e8" stroke="#858585" stroke-width="0.5"/>
<rect x="577.98" y="525.18" width="1.07" height="1.11" fill="#ffffff" stroke="#858585" stroke-width="0.5"/>
<rect x="584.85" y="524.26" width="2.86" height="2.96" fill="#fad9db" stroke="#858585" stroke-width="0.5"/>
<rect x="593.68" y="525.37" width="0.71" height="0.74" fill="#ffffff" stroke="#858585" stroke-width="0.5"/>
<rect x="576.91" y="532.12" width="3.21" height="3.33" fill="#d3d8e8" stroke="#858585" stroke-width="0.5"/>
<rect x="584.67" y="532.12" width="3.21" height="3.33" fill="#d3d8e8" stroke="#858585" stroke-width="0.5"/>
<rect x="592.61" y="532.30" width="2.86" height="2.96" fill="#fad9db" stroke="#858585" stroke-width="0.5"/>
<rect x="585.03" y="540.53" width="2.50" height="2.59" fill="#ffffff" stroke="#858585" stroke-width="0.5"/>
<rect x="592.97" y="540.72" width="2.14" height="2.22" fill="#ffffff" stroke="#858585" stroke-width="0.5"/>
<rect x="593.68" y="549.50" width="0.71" height="0.74" fill="#ffffff" stroke="#858585" stroke-width="0.5"/>
<rect x="427.20" y="384.95" width="7.76" height="8.04" fill="#E84A52"/>
<rect x="434.96" y="393.00" width="7.76" height="8.04" fill="#E84A52"/>
<rect x="442.72" y="401.04" width="7.76" height="8.04" fill="#E84A52"/>
<rect x="450.48" y="409.08" width="7.76" height="8.04" fill="#E84A52"/>
<rect x="458.24" y="417.13" width="7.76" height="8.04" fill="#E84A52"/>
<rect x="466.00" y="425.18" width="7.76" height="8.04" fill="#E84A52"/>
<rect x="473.76" y="433.22" width="7.76" height="8.04" fill="#E84A52"/>
<rect x="481.52" y="441.26" width="7.76" height="8.04" fill="#E84A52"/>
<rect x="489.28" y="449.31" width="7.76" height="8.04" fill="#E84A52"/>
<rect x="497.04" y="457.36" width="7.76" height="8.04" fill="#E84A52"/>
<rect x="504.80" y="465.40" width="7.76" height="8.04" fill="#E84A52"/>
<rect x="512.56" y="473.44" width="7.76" height="8.04" fill="#E84A52"/>
<rect x="520.32" y="481.49" width="7.76" height="8.04" fill="#E84A52"/>
<rect x="528.08" y="489.53" width="7.76" height="8.04" fill="#E84A52"/>
<rect x="535.84" y="497.58" width="7.76" height="8.04" fill="#E84A52"/>
<rect x="543.60" y="505.62" width="7.76" height="8.04" fill="#E84A52"/>
<rect x="551.36" y="513.67" width="7.76" height="8.04" fill="#E84A52"/>
<rect x="559.12" y="521.71" width="7.76" height="8.04" fill="#E84A52"/>
<rect x="566.88" y="529.76" width="7.76" height="8.04" fill="#E84A52"/>
<rect x="574.64" y="537.80" width="7.76" height="8.04" fill="#E84A52"/>
<rect x="582.40" y="545.85" width="7.76" height="8.04" fill="#E84A52"/>
<rect x="590.16" y="553.89" width="7.76" height="8.04" fill="#E84A52"/>
<circle cx="423.30" cy="388.97" r="1.45" fill="#F50012" stroke="#4A36D8" stroke-width="0.5"/>
<circle cx="431.06" cy="397.02" r="1.45" fill="#F50012" stroke="#4A36D8" stroke-width="0.5"/>
<circle cx="438.82" cy="405.06" r="1.45" fill="#F50012" stroke="#4A36D8" stroke-width="0.5"/>
<circle cx="446.58" cy="413.11" r="1.45" fill="#F50012" stroke="#4A36D8" stroke-width="0.5"/>
<circle cx="454.34" cy="421.15" r="1.45" fill="#F50012" stroke="#4A36D8" stroke-width="0.5"/>
<circle cx="462.10" cy="429.20" r="1.45" fill="#F50012" stroke="#4A36D8" stroke-width="0.5"/>
<circle cx="469.86" cy="437.24" r="1.45" fill="#F50012" stroke="#4A36D8" stroke-width="0.5"/>
<circle cx="477.62" cy="445.29" r="1.45" fill="#F50012" stroke="#4A36D8" stroke-width="0.5"/>
<circle cx="485.38" cy="453.33" r="1.45" fill="#F50012" stroke="#4A36D8" stroke-width="0.5"/>
<circle cx="493.14" cy="461.38" r="1.45" fill="#F50012" stroke="#4A36D8" stroke-width="0.5"/>
<circle cx="500.90" cy="469.42" r="1.45" fill="#F50012" stroke="#4A36D8" stroke-width="0.5"/>
<circle cx="508.66" cy="477.47" r="1.45" fill="#F50012" stroke="#4A36D8" stroke-width="0.5"/>
<circle cx="516.42" cy="485.51" r="1.45" fill="#F50012" stroke="#4A36D8" stroke-width="0.5"/>
<circle cx="524.18" cy="493.56" r="1.45" fill="#F50012" stroke="#4A36D8" stroke-width="0.5"/>
<circle cx="531.94" cy="501.60" r="1.45" fill="#F50012" stroke="#4A36D8" stroke-width="0.5"/>
<circle cx="539.70" cy="509.65" r="1.45" fill="#F50012" stroke="#4A36D8" stroke-width="0.5"/>
<circle cx="547.46" cy="517.69" r="1.45" fill="#F50012" stroke="#4A36D8" stroke-width="0.5"/>
<circle cx="555.22" cy="525.74" r="1.45" fill="#F50012" stroke="#4A36D8" stroke-width="0.5"/>
<circle cx="562.98" cy="533.78" r="1.45" fill="#F50012" stroke="#4A36D8" stroke-width="0.5"/>
<circle cx="570.74" cy="541.83" r="1.45" fill="#F50012" stroke="#4A36D8" stroke-width="0.5"/>
<circle cx="578.50" cy="549.87" r="1.45" fill="#F50012" stroke="#4A36D8" stroke-width="0.5"/>
<circle cx="586.26" cy="557.92" r="1.45" fill="#F50012" stroke="#4A36D8" stroke-width="0.5"/>
<circle cx="457.60" cy="508.80" r="1.45" fill="#F50012" stroke="#4A36D8" stroke-width="0.5"/>
<text transform="translate(457.00,510.80) scale(1,1.04)" font-size="6.0" fill="#111" text-anchor="end" font-family="Liberation Sans, sans-serif">CD163</text>
<text transform="translate(600.92,391.07) scale(1,1.04)" font-size="6.1" fill="#000" stroke="#000" stroke-width="0.12" font-family="Liberation Sans, sans-serif">B.cells.naive</text>
<text transform="translate(600.92,399.12) scale(1,1.04)" font-size="6.1" fill="#000" stroke="#000" stroke-width="0.12" font-family="Liberation Sans, sans-serif">B.cells.memory</text>
<text transform="translate(600.92,407.16) scale(1,1.04)" font-size="6.1" fill="#000" stroke="#000" stroke-width="0.12" font-family="Liberation Sans, sans-serif">Plasma.cells</text>
<text transform="translate(600.92,415.21) scale(1,1.04)" font-size="6.1" fill="#000" stroke="#000" stroke-width="0.12" font-family="Liberation Sans, sans-serif">T.cells.CD8</text>
<text transform="translate(600.92,423.25) scale(1,1.04)" font-size="6.1" fill="#000" stroke="#000" stroke-width="0.12" font-family="Liberation Sans, sans-serif">T.cells.CD4.naive</text>
<text transform="translate(600.92,431.30) scale(1,1.04)" font-size="6.1" fill="#000" stroke="#000" stroke-width="0.12" font-family="Liberation Sans, sans-serif">T.cells.CD4.memory.resting</text>
<text transform="translate(600.92,439.34) scale(1,1.04)" font-size="6.1" fill="#000" stroke="#000" stroke-width="0.12" font-family="Liberation Sans, sans-serif">T.cells.CD4.memory.activated</text>
<text transform="translate(600.92,447.39) scale(1,1.04)" font-size="6.1" fill="#000" stroke="#000" stroke-width="0.12" font-family="Liberation Sans, sans-serif">T.cells.follicular.helper</text>
<text transform="translate(600.92,455.43) scale(1,1.04)" font-size="6.1" fill="#000" stroke="#000" stroke-width="0.12" font-family="Liberation Sans, sans-serif">T.cells.regulatory..Tregs.</text>
<text transform="translate(600.92,463.48) scale(1,1.04)" font-size="6.1" fill="#000" stroke="#000" stroke-width="0.12" font-family="Liberation Sans, sans-serif">T.cells.gamma.delta</text>
<text transform="translate(600.92,471.52) scale(1,1.04)" font-size="6.1" fill="#000" stroke="#000" stroke-width="0.12" font-family="Liberation Sans, sans-serif">NK.cells.resting</text>
<text transform="translate(600.92,479.57) scale(1,1.04)" font-size="6.1" fill="#000" stroke="#000" stroke-width="0.12" font-family="Liberation Sans, sans-serif">NK.cells.activated</text>
<text transform="translate(600.92,487.61) scale(1,1.04)" font-size="6.1" fill="#000" stroke="#000" stroke-width="0.12" font-family="Liberation Sans, sans-serif">Monocytes</text>
<text transform="translate(600.92,495.66) scale(1,1.04)" font-size="6.1" fill="#000" stroke="#000" stroke-width="0.12" font-family="Liberation Sans, sans-serif">Macrophages.M0</text>
<text transform="translate(600.92,503.70) scale(1,1.04)" font-size="6.1" fill="#000" stroke="#000" stroke-width="0.12" font-family="Liberation Sans, sans-serif">Macrophages.M1</text>
<text transform="translate(600.92,511.75) scale(1,1.04)" font-size="6.1" fill="#000" stroke="#000" stroke-width="0.12" font-family="Liberation Sans, sans-serif">Macrophages.M2</text>
<text transform="translate(600.92,519.79) scale(1,1.04)" font-size="6.1" fill="#000" stroke="#000" stroke-width="0.12" font-family="Liberation Sans, sans-serif">Dendritic.cells.resting</text>
<text transform="translate(600.92,527.84) scale(1,1.04)" font-size="6.1" fill="#000" stroke="#000" stroke-width="0.12" font-family="Liberation Sans, sans-serif">Dendritic.cells.activated</text>
<text transform="translate(600.92,535.88) scale(1,1.04)" font-size="6.1" fill="#000" stroke="#000" stroke-width="0.12" font-family="Liberation Sans, sans-serif">Mast.cells.resting</text>
<text transform="translate(600.92,543.93) scale(1,1.04)" font-size="6.1" fill="#000" stroke="#000" stroke-width="0.12" font-family="Liberation Sans, sans-serif">Mast.cells.activated</text>
<text transform="translate(600.92,551.97) scale(1,1.04)" font-size="6.1" fill="#000" stroke="#000" stroke-width="0.12" font-family="Liberation Sans, sans-serif">Eosinophils</text>
<text transform="translate(600.92,560.02) scale(1,1.04)" font-size="6.1" fill="#000" stroke="#000" stroke-width="0.12" font-family="Liberation Sans, sans-serif">Neutrophils</text>
<text transform="translate(431.18,381.55) scale(1,1.04) rotate(-45)" font-size="6.3" fill="#111" font-family="Liberation Sans, sans-serif">B.cells.naive</text>
<text transform="translate(438.94,381.55) scale(1,1.04) rotate(-45)" font-size="6.3" fill="#111" font-family="Liberation Sans, sans-serif">B.cells.memory</text>
<text transform="translate(446.70,381.55) scale(1,1.04) rotate(-45)" font-size="6.3" fill="#111" font-family="Liberation Sans, sans-serif">Plasma.cells</text>
<text transform="translate(454.46,381.55) scale(1,1.04) rotate(-45)" font-size="6.3" fill="#111" font-family="Liberation Sans, sans-serif">T.cells.CD8</text>
<text transform="translate(462.22,381.55) scale(1,1.04) rotate(-45)" font-size="6.3" fill="#111" font-family="Liberation Sans, sans-serif">T.cells.CD4.naive</text>
<text transform="translate(469.98,381.55) scale(1,1.04) rotate(-45)" font-size="6.3" fill="#111" font-family="Liberation Sans, sans-serif">T.cells.CD4.memory.resting</text>
<text transform="translate(477.74,381.55) scale(1,1.04) rotate(-45)" font-size="6.3" fill="#111" font-family="Liberation Sans, sans-serif">T.cells.CD4.memory.activated</text>
<text transform="translate(485.50,381.55) scale(1,1.04) rotate(-45)" font-size="6.3" fill="#111" font-family="Liberation Sans, sans-serif">T.cells.follicular.helper</text>
<text transform="translate(493.26,381.55) scale(1,1.04) rotate(-45)" font-size="6.3" fill="#111" font-family="Liberation Sans, sans-serif">T.cells.regulatory..Tregs.</text>
<text transform="translate(501.02,381.55) scale(1,1.04) rotate(-45)" font-size="6.3" fill="#111" font-family="Liberation Sans, sans-serif">T.cells.gamma.delta</text>
<text transform="translate(508.78,381.55) scale(1,1.04) rotate(-45)" font-size="6.3" fill="#111" font-family="Liberation Sans, sans-serif">NK.cells.resting</text>
<text transform="translate(516.54,381.55) scale(1,1.04) rotate(-45)" font-size="6.3" fill="#111" font-family="Liberation Sans, sans-serif">NK.cells.activated</text>
<text transform="translate(524.30,381.55) scale(1,1.04) rotate(-45)" font-size="6.3" fill="#111" font-family="Liberation Sans, sans-serif">Monocytes</text>
<text transform="translate(532.06,381.55) scale(1,1.04) rotate(-45)" font-size="6.3" fill="#111" font-family="Liberation Sans, sans-serif">Macrophages.M0</text>
<text transform="translate(539.82,381.55) scale(1,1.04) rotate(-45)" font-size="6.3" fill="#111" font-family="Liberation Sans, sans-serif">Macrophages.M1</text>
<text transform="translate(547.58,381.55) scale(1,1.04) rotate(-45)" font-size="6.3" fill="#111" font-family="Liberation Sans, sans-serif">Macrophages.M2</text>
<text transform="translate(555.34,381.55) scale(1,1.04) rotate(-45)" font-size="6.3" fill="#111" font-family="Liberation Sans, sans-serif">Dendritic.cells.resting</text>
<text transform="translate(563.10,381.55) scale(1,1.04) rotate(-45)" font-size="6.3" fill="#111" font-family="Liberation Sans, sans-serif">Dendritic.cells.activated</text>
<text transform="translate(570.86,381.55) scale(1,1.04) rotate(-45)" font-size="6.3" fill="#111" font-family="Liberation Sans, sans-serif">Mast.cells.resting</text>
<text transform="translate(578.62,381.55) scale(1,1.04) rotate(-45)" font-size="6.3" fill="#111" font-family="Liberation Sans, sans-serif">Mast.cells.activated</text>
<text transform="translate(586.38,381.55) scale(1,1.04) rotate(-45)" font-size="6.3" fill="#111" font-family="Liberation Sans, sans-serif">Eosinophils</text>
<text transform="translate(594.14,381.55) scale(1,1.04) rotate(-45)" font-size="6.3" fill="#111" font-family="Liberation Sans, sans-serif">Neutrophils</text>
<text x="691.00" y="405.60" font-size="6.3" fill="#111" font-family="Liberation Sans, sans-serif">P.value</text>
<rect x="691.00" y="408.70" width="9.3" height="29.5" fill="#F2F2F2"/>
<rect x="691.80" y="412.25" width="8" height="3.5" fill="#3D5D9C"/>
<text x="703.40" y="416.00" font-size="5.1" fill="#222" font-family="Liberation Sans, sans-serif">&lt; 0.01</text>
<rect x="691.80" y="422.40" width="8" height="3.5" fill="#E5434C"/>
<text x="703.40" y="426.15" font-size="5.1" fill="#222" font-family="Liberation Sans, sans-serif">0.01 ~ 0.05</text>
<rect x="691.80" y="432.55" width="8" height="3.5" fill="#C8C8C8"/>
<text x="703.40" y="436.30" font-size="5.1" fill="#222" font-family="Liberation Sans, sans-serif">&gt;= 0.05</text>
<text x="691.00" y="457.50" font-size="6.4" fill="#111" font-family="Liberation Sans, sans-serif">Correlation</text>
<rect x="691.00" y="461.00" width="9.3" height="29.7" fill="#F2F2F2"/>
<line x1="691.50" x2="699.80" y1="466.50" y2="466.50" stroke="#4A4A4A" stroke-width="0.6"/>
<text x="703.40" y="468.30" font-size="5.1" fill="#222" font-family="Liberation Sans, sans-serif">&lt; 0.28</text>
<line x1="691.50" x2="699.80" y1="476.50" y2="476.50" stroke="#4A4A4A" stroke-width="1.15"/>
<text x="703.40" y="478.30" font-size="5.1" fill="#222" font-family="Liberation Sans, sans-serif">0.28 ~ 0.37</text>
<line x1="691.50" x2="699.80" y1="486.50" y2="486.50" stroke="#4A4A4A" stroke-width="2.1"/>
<text x="703.40" y="488.30" font-size="5.1" fill="#222" font-family="Liberation Sans, sans-serif">&gt;= 0.37</text>
<text x="691.00" y="510.00" font-size="6.4" fill="#111" font-family="Liberation Sans, sans-serif">Pearson's R</text>
<defs><linearGradient id="gCD163" x1="0" y1="0" x2="0" y2="1"><stop offset="0" stop-color="#E5535B"/><stop offset="0.667" stop-color="#ffffff"/><stop offset="1" stop-color="#96A8D0"/></linearGradient></defs>
<rect x="691.00" y="513.00" width="9.4" height="34" fill="url(#gCD163)"/>
<text x="703.40" y="515.80" font-size="5.1" fill="#222" font-family="Liberation Sans, sans-serif">1.0</text>
<text x="703.40" y="526.45" font-size="5.1" fill="#222" font-family="Liberation Sans, sans-serif">0.5</text>
<text x="703.40" y="537.10" font-size="5.1" fill="#222" font-family="Liberation Sans, sans-serif">0.0</text>
<text x="703.40" y="547.75" font-size="5.1" fill="#222" font-family="Liberation Sans, sans-serif">−0.5</text>
<text transform="translate(1.6,13.75) scale(1,1.0)" font-size="17.85" font-weight="bold" fill="#1E1414" font-family="Liberation Sans, sans-serif">A</text>
<text transform="translate(402.1,13.8) scale(1,1.13)" font-size="16.5" font-weight="bold" fill="#1E1414" font-family="Liberation Sans, sans-serif">B</text>
<text transform="translate(1.5,306.25) scale(1,1.0)" font-size="17.8" font-weight="bold" fill="#1E1414" font-family="Liberation Sans, sans-serif">C</text>
<text transform="translate(402.1,306.6) scale(1,1.13)" font-size="16.5" font-weight="bold" fill="#1E1414" font-family="Liberation Sans, sans-serif">D</text>
</svg></body></html>
